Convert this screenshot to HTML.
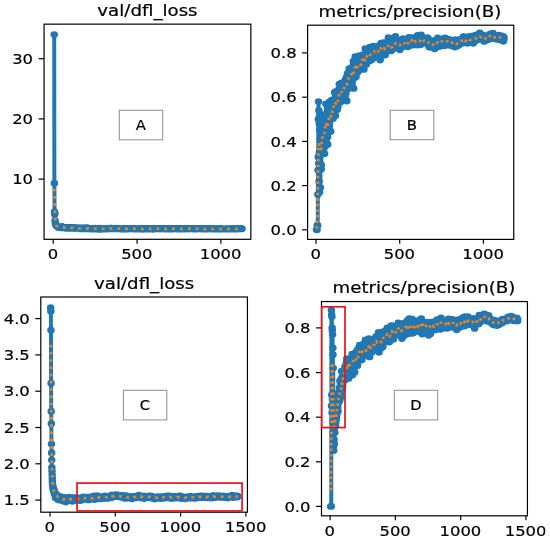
<!DOCTYPE html>
<html><head><meta charset="utf-8"><title>results</title>
<style>html,body{margin:0;padding:0;background:#fff}svg{display:block}text{font-family:"DejaVu Sans","Liberation Sans",sans-serif;fill:#000;stroke:#000;stroke-width:0.2px}</style>
</head><body>
<svg width="550" height="542" viewBox="0 0 550 542">
<rect width="550" height="542" fill="#fff"/>
<g transform="scale(1.1,1)" fill="none">
<polyline points="49.29,34.6 49.44,183.3 49.6,211.6 49.75,214.6 49.9,213.4 50.05,220.6 50.21,221.8 50.36,223.1 50.51,224 50.66,224.6 50.82,225.3 50.97,225.3 51.12,225.8 51.27,225.8 51.43,226 51.58,225.8 51.73,226.1 51.88,226.3 52.03,226.6 52.19,226.5 52.34,226.5 52.49,226.7 52.64,226.3 52.8,226.4 52.95,227.6 53.1,227.4 53.25,227 53.41,227.1 53.56,227 53.71,227 53.86,226.5 54.02,227.5 54.17,227.3 54.32,226.7 54.47,227.1 54.63,227.1 54.78,227.5 54.93,227.8 55.08,227.3 55.24,227.3 55.39,227.7 55.54,227.6 55.69,227.4 55.85,227.7 56,227.4 56.15,227.4 56.3,227.4 56.46,227.5 56.61,227.2 56.76,227.2 56.91,227.3 57.07,227.6 57.22,227.2 57.37,227.6 57.52,227.2 57.67,227.8 57.83,227.2 57.98,227.5 58.13,227.8 58.28,227.6 58.44,227.5 58.59,227.5 58.74,227.9 58.89,227.9 59.05,227.6 59.2,227.8 59.35,227.6 59.5,227.5 59.66,228.2 59.81,227.7 59.96,227.4 60.11,227.9 60.27,228 60.42,227.6 60.57,227.7 60.72,227.6 60.88,227.9 61.03,228.2 61.18,227.8 61.33,227.9 61.49,227.6 61.64,227.8 61.79,228.2 61.94,228.1 62.1,227.6 62.25,227.6 62.4,227.9 62.55,227.8 62.71,227.7 62.86,227.7 63.01,227.6 63.16,227.7 63.32,227.8 63.47,227.9 63.62,227.5 63.77,228.4 63.92,227.8 64.08,227.8 64.23,228.2 64.38,227.8 64.53,228 64.69,227.7 64.84,227.9 64.99,227.8 65.14,227.6 65.3,227.9 65.45,228.2 65.6,228.4 65.75,227.6 65.91,228 66.06,228.2 66.21,228 66.36,228.1 66.52,227.8 66.67,228 66.82,228.1 66.97,228.2 67.13,227.9 67.28,228.3 67.43,227.9 67.58,227.7 67.74,228.4 67.89,228.6 68.04,227.9 68.19,227.4 68.35,228.3 68.5,228.3 68.65,227.9 68.8,228.2 68.96,228.1 69.11,228.1 69.26,227.9 69.41,228.1 69.56,227.9 69.72,228.1 69.87,228.2 70.02,228.1 70.17,228.3 70.33,228 70.48,228.3 70.63,228.3 70.78,227.8 70.94,228.1 71.09,228.1 71.24,228 71.39,228.3 71.55,228.2 71.7,228.1 71.85,228.2 72,228.5 72.16,228.1 72.31,228.4 72.46,228.6 72.61,228.6 72.77,228.5 72.92,228 73.07,228.7 73.22,228.4 73.38,228.9 73.53,228.5 73.68,228.3 73.83,228.5 73.99,228.6 74.14,228.4 74.29,228.3 74.44,228.3 74.6,228.1 74.75,228.4 74.9,228.6 75.05,228.5 75.21,228.5 75.36,228.4 75.51,228.5 75.66,228.4 75.81,228.8 75.97,228.2 76.12,228.5 76.27,228.7 76.42,228.3 76.58,228.1 76.73,228.3 76.88,228.3 77.03,228.6 77.19,227.7 77.34,228.2 77.49,228.6 77.64,228.5 77.8,228.3 77.95,228.7 78.1,228.3 78.25,228.4 78.41,228.1 78.56,228.1 78.71,228.9 78.86,228.4 79.02,228.7 79.17,228.2 79.32,228.4 79.47,228.3 79.63,228.7 79.78,228.1 79.93,228.1 80.08,228.7 80.24,228.5 80.39,228.7 80.54,228.6 80.69,228.9 80.85,228.2 81,228.8 81.15,228.7 81.3,228.6 81.45,228.8 81.61,228.8 81.76,228.8 81.91,228.8 82.06,229 82.22,228.9 82.37,228.8 82.52,228.8 82.67,228.8 82.83,228.8 82.98,228.6 83.13,228.8 83.28,228.8 83.44,228.9 83.59,228.9 83.74,229 83.89,228.7 84.05,229 84.2,228.9 84.35,228.7 84.5,228.6 84.66,228.8 84.81,229.1 84.96,228.6 85.11,228.6 85.27,229 85.42,228.5 85.57,228.8 85.72,228.9 85.88,228.6 86.03,228.7 86.18,228.6 86.33,229 86.49,228.3 86.64,228.8 86.79,229 86.94,228.5 87.1,228.7 87.25,228.6 87.4,228.8 87.55,228.7 87.7,228.7 87.86,228.9 88.01,228.6 88.16,228.8 88.31,228.9 88.47,228.8 88.62,228.7 88.77,228.8 88.92,229 89.08,228.7 89.23,229.2 89.38,229 89.53,228.9 89.69,229.1 89.84,228.9 89.99,228.9 90.14,228.7 90.3,229.1 90.45,229 90.6,228.8 90.75,229.3 90.91,228.3 91.06,229 91.21,229 91.36,228.7 91.52,228.9 91.67,229.2 91.82,228.7 91.97,228.7 92.13,228.9 92.28,228.9 92.43,228.7 92.58,229 92.74,228.7 92.89,228.8 93.04,228.9 93.19,229 93.35,228.8 93.5,228.9 93.65,228.6 93.8,228.8 93.95,228.6 94.11,228.8 94.26,228.8 94.41,228.9 94.56,228.7 94.72,228.5 94.87,228.9 95.02,228.9 95.17,228.9 95.33,228.9 95.48,229 95.63,228.9 95.78,228.9 95.94,228.6 96.09,228.9 96.24,228.8 96.39,228.7 96.55,229 96.7,228.7 96.85,229 97,229 97.16,229 97.31,228.9 97.46,229.1 97.61,228.9 97.77,229.1 97.92,228.6 98.07,228.8 98.22,228.9 98.38,228.9 98.53,228.8 98.68,228.8 98.83,228.9 98.99,228.8 99.14,228.7 99.29,228.7 99.44,228.4 99.59,228.4 99.75,228.6 99.9,228.5 100.05,228.7 100.2,228.4 100.36,228.5 100.51,228.4 100.66,228.2 100.81,228.8 100.97,228.4 101.12,228.6 101.27,228.3 101.42,228.7 101.58,228.5 101.73,228.4 101.88,228.4 102.03,228.5 102.19,228.6 102.34,228.6 102.49,228.4 102.64,228.5 102.8,228.8 102.95,228.4 103.1,228.5 103.25,228.5 103.41,228.7 103.56,228.5 103.71,228.8 103.86,228.6 104.02,228.7 104.17,228.6 104.32,228.5 104.47,228.8 104.63,228.7 104.78,228.7 104.93,228.5 105.08,228.6 105.24,228.9 105.39,228.6 105.54,228.6 105.69,228.3 105.84,228.9 106,228.7 106.15,228.4 106.3,228.9 106.45,228.8 106.61,228.5 106.76,228.5 106.91,228.7 107.06,228.5 107.22,228.6 107.37,228.4 107.52,228.6 107.67,228.5 107.83,228.8 107.98,228.7 108.13,228.6 108.28,228.5 108.44,228.6 108.59,228.8 108.74,228.6 108.89,228.6 109.05,228.7 109.2,228.7 109.35,228.7 109.5,229 109.66,228.7 109.81,228.7 109.96,228.9 110.11,228.7 110.27,229 110.42,228.9 110.57,228.9 110.72,228.5 110.88,229.1 111.03,228.8 111.18,228.7 111.33,228.8 111.48,228.7 111.64,229 111.79,229.2 111.94,228.8 112.09,229 112.25,228.9 112.4,229 112.55,228.7 112.7,228.7 112.86,229 113.01,228.7 113.16,228.9 113.31,228.9 113.47,228.9 113.62,228.9 113.77,228.8 113.92,228.8 114.08,228.9 114.23,228.7 114.38,229 114.53,228.8 114.69,228.8 114.84,228.7 114.99,229 115.14,228.6 115.3,228.9 115.45,228.9 115.6,229 115.75,228.8 115.91,228.9 116.06,229.1 116.21,229.1 116.36,229 116.52,229 116.67,228.7 116.82,228.7 116.97,228.7 117.13,228.8 117.28,228.9 117.43,228.8 117.58,228.7 117.73,228.5 117.89,228.7 118.04,228.8 118.19,228.8 118.34,228.9 118.5,228.9 118.65,228.8 118.8,228.8 118.95,228.5 119.11,228.8 119.26,228.6 119.41,228.5 119.56,228.8 119.72,228.6 119.87,228.7 120.02,228.8 120.17,228.7 120.33,228.8 120.48,228.8 120.63,228.8 120.78,228.8 120.94,228.7 121.09,228.9 121.24,228.8 121.39,229 121.55,228.8 121.7,228.7 121.85,228.8 122,228.8 122.16,228.7 122.31,228.9 122.46,228.9 122.61,228.8 122.77,228.7 122.92,228.8 123.07,228.5 123.22,228.9 123.37,228.7 123.53,228.7 123.68,228.9 123.83,229 123.98,229 124.14,228.8 124.29,228.7 124.44,228.8 124.59,228.8 124.75,228.9 124.9,228.8 125.05,229.1 125.2,228.8 125.36,228.8 125.51,229 125.66,228.5 125.81,229 125.97,228.9 126.12,228.9 126.27,228.7 126.42,228.9 126.58,228.7 126.73,228.7 126.88,228.8 127.03,229 127.19,228.9 127.34,228.6 127.49,229 127.64,228.9 127.8,228.8 127.95,228.7 128.1,228.8 128.25,228.8 128.41,229 128.56,228.7 128.71,228.8 128.86,229.1 129.02,228.7 129.17,228.6 129.32,229 129.47,228.9 129.62,228.7 129.78,229.1 129.93,229.2 130.08,229.1 130.23,229 130.39,229 130.54,228.8 130.69,228.9 130.84,229 131,228.8 131.15,228.6 131.3,228.7 131.45,228.7 131.61,228.9 131.76,228.7 131.91,229 132.06,228.7 132.22,228.8 132.37,228.7 132.52,228.8 132.67,228.9 132.83,228.8 132.98,228.7 133.13,228.9 133.28,228.9 133.44,228.9 133.59,229 133.74,228.7 133.89,228.6 134.05,228.7 134.2,228.8 134.35,228.8 134.5,228.8 134.66,228.9 134.81,228.7 134.96,228.7 135.11,228.7 135.27,228.9 135.42,228.8 135.57,228.9 135.72,228.6 135.87,228.8 136.03,229.1 136.18,228.8 136.33,228.6 136.48,228.8 136.64,228.8 136.79,228.9 136.94,229.1 137.09,229.1 137.25,229 137.4,228.9 137.55,228.9 137.7,228.8 137.86,228.9 138.01,228.8 138.16,228.9 138.31,228.9 138.47,228.8 138.62,229 138.77,229.2 138.92,229 139.08,228.8 139.23,229.2 139.38,228.8 139.53,228.8 139.69,228.9 139.84,228.9 139.99,228.8 140.14,228.8 140.3,228.6 140.45,228.7 140.6,228.9 140.75,228.8 140.91,228.6 141.06,228.5 141.21,228.6 141.36,228.6 141.51,228.5 141.67,228.7 141.82,228.7 141.97,228.8 142.12,228.7 142.28,228.4 142.43,228.8 142.58,228.7 142.73,228.8 142.89,228.6 143.04,228.6 143.19,228.7 143.34,228.6 143.5,228.6 143.65,228.7 143.8,228.5 143.95,228.6 144.11,228.8 144.26,228.8 144.41,228.8 144.56,228.7 144.72,228.8 144.87,228.5 145.02,228.6 145.17,228.8 145.33,228.8 145.48,228.6 145.63,229 145.78,228.8 145.94,228.7 146.09,228.9 146.24,228.8 146.39,228.8 146.55,228.7 146.7,228.7 146.85,228.7 147,228.7 147.16,228.7 147.31,228.6 147.46,228.8 147.61,228.9 147.76,228.9 147.92,228.9 148.07,228.8 148.22,228.6 148.37,228.7 148.53,228.8 148.68,228.8 148.83,228.8 148.98,228.8 149.14,228.8 149.29,228.9 149.44,228.8 149.59,228.7 149.75,229 149.9,228.8 150.05,229 150.2,228.8 150.36,228.9 150.51,229 150.66,228.8 150.81,228.6 150.97,228.8 151.12,228.7 151.27,228.9 151.42,229.1 151.58,228.8 151.73,228.9 151.88,229 152.03,228.8 152.19,228.8 152.34,228.9 152.49,228.8 152.64,228.9 152.8,228.8 152.95,228.9 153.1,228.8 153.25,229 153.4,228.7 153.56,228.8 153.71,228.7 153.86,228.9 154.01,228.9 154.17,228.7 154.32,229.1 154.47,228.9 154.62,228.7 154.78,228.7 154.93,228.7 155.08,228.8 155.23,228.7 155.39,228.9 155.54,228.9 155.69,228.9 155.84,228.8 156,228.8 156.15,228.8 156.3,229.1 156.45,229 156.61,228.8 156.76,228.8 156.91,228.8 157.06,228.9 157.22,229 157.37,228.6 157.52,228.9 157.67,228.6 157.83,228.6 157.98,228.8 158.13,228.9 158.28,228.8 158.44,228.9 158.59,228.8 158.74,228.8 158.89,228.8 159.05,228.7 159.2,228.6 159.35,228.8 159.5,228.7 159.65,228.9 159.81,228.9 159.96,228.9 160.11,228.9 160.26,228.7 160.42,228.7 160.57,228.7 160.72,228.8 160.87,228.8 161.03,228.9 161.18,229 161.33,228.8 161.48,228.8 161.64,229 161.79,228.8 161.94,229 162.09,228.9 162.25,228.9 162.4,228.9 162.55,229 162.7,228.8 162.86,228.8 163.01,228.8 163.16,228.9 163.31,229 163.47,228.9 163.62,229 163.77,228.8 163.92,228.8 164.08,228.8 164.23,228.9 164.38,228.9 164.53,228.8 164.69,229 164.84,228.8 164.99,228.8 165.14,228.9 165.29,228.9 165.45,228.8 165.6,228.9 165.75,228.9 165.9,228.8 166.06,228.8 166.21,228.7 166.36,228.9 166.51,229 166.67,228.7 166.82,228.7 166.97,228.9 167.12,228.9 167.28,228.8 167.43,228.9 167.58,228.8 167.73,229 167.89,228.8 168.04,229 168.19,228.8 168.34,228.6 168.5,228.8 168.65,228.7 168.8,228.8 168.95,228.8 169.11,228.9 169.26,228.7 169.41,228.8 169.56,228.6 169.72,228.9 169.87,228.8 170.02,228.8 170.17,228.6 170.33,228.6 170.48,228.8 170.63,228.9 170.78,228.9 170.94,228.7 171.09,228.8 171.24,228.9 171.39,228.8 171.54,229 171.7,229 171.85,228.7 172,228.8 172.15,228.8 172.31,228.9 172.46,228.8 172.61,228.7 172.76,228.9 172.92,228.8 173.07,228.9 173.22,228.8 173.37,228.8 173.53,228.9 173.68,228.9 173.83,228.9 173.98,228.9 174.14,228.9 174.29,228.9 174.44,228.8 174.59,228.9 174.75,228.9 174.9,228.8 175.05,228.9 175.2,228.9 175.36,228.8 175.51,228.8 175.66,228.8 175.81,228.8 175.97,229 176.12,228.8 176.27,228.7 176.42,228.8 176.58,229 176.73,228.8 176.88,228.9 177.03,228.8 177.19,228.8 177.34,228.9 177.49,228.7 177.64,228.8 177.79,228.7 177.95,228.7 178.1,228.7 178.25,228.7 178.4,228.9 178.56,228.8 178.71,229 178.86,228.8 179.01,228.7 179.17,228.7 179.32,228.7 179.47,228.8 179.62,228.8 179.78,228.8 179.93,228.7 180.08,228.7 180.23,228.8 180.39,228.5 180.54,228.8 180.69,228.8 180.84,228.8 181,228.8 181.15,228.8 181.3,228.9 181.45,228.7 181.61,228.8 181.76,228.7 181.91,228.7 182.06,228.9 182.22,228.9 182.37,228.9 182.52,228.8 182.67,228.8 182.83,228.8 182.98,228.9 183.13,228.8 183.28,228.7 183.43,229 183.59,228.9 183.74,228.8 183.89,228.9 184.04,228.9 184.2,228.7 184.35,228.8 184.5,228.8 184.65,228.9 184.81,228.7 184.96,228.9 185.11,228.9 185.26,228.9 185.42,228.9 185.57,228.7 185.72,228.9 185.87,228.9 186.03,229.1 186.18,228.9 186.33,229 186.48,229 186.64,228.9 186.79,229 186.94,228.8 187.09,228.8 187.25,229.1 187.4,228.9 187.55,229 187.7,228.9 187.86,228.8 188.01,229 188.16,228.7 188.31,228.9 188.47,229 188.62,228.9 188.77,228.8 188.92,229 189.08,228.9 189.23,229 189.38,228.8 189.53,228.8 189.68,228.9 189.84,228.8 189.99,228.9 190.14,228.9 190.29,228.7 190.45,228.8 190.6,228.7 190.75,228.8 190.9,228.9 191.06,228.8 191.21,228.8 191.36,228.8 191.51,228.9 191.67,228.9 191.82,228.9 191.97,228.8 192.12,228.8 192.28,228.8 192.43,229 192.58,228.8 192.73,228.8 192.89,229 193.04,228.8 193.19,228.8 193.34,228.8 193.5,228.8 193.65,228.8 193.8,228.8 193.95,228.9 194.11,229.1 194.26,229 194.41,228.9 194.56,229 194.72,228.9 194.87,228.9 195.02,228.9 195.17,228.8 195.32,229 195.48,228.9 195.63,229 195.78,229 195.93,228.9 196.09,229 196.24,228.9 196.39,229.1 196.54,229 196.7,229 196.85,229 197,229 197.15,229.1 197.31,228.9 197.46,229.1 197.61,229 197.76,228.9 197.92,228.9 198.07,228.9 198.22,228.9 198.37,228.8 198.53,229 198.68,229 198.83,229 198.98,228.8 199.14,228.9 199.29,228.8 199.44,228.8 199.59,228.9 199.75,229 199.9,229 200.05,228.7 200.2,228.8 200.36,228.8 200.51,228.9 200.66,228.9 200.81,228.9 200.97,228.9 201.12,229.1 201.27,228.9 201.42,228.9 201.57,228.9 201.73,228.9 201.88,228.8 202.03,228.9 202.18,228.9 202.34,229.1 202.49,229 202.64,228.8 202.79,229 202.95,228.9 203.1,228.9 203.25,229 203.4,228.9 203.56,229 203.71,229.1 203.86,229 204.01,229 204.17,228.9 204.32,228.9 204.47,228.9 204.62,229 204.78,228.7 204.93,228.9 205.08,228.9 205.23,228.9 205.39,228.9 205.54,229 205.69,228.9 205.84,228.9 206,228.9 206.15,228.9 206.3,229 206.45,229 206.61,228.8 206.76,229 206.91,228.9 207.06,228.9 207.21,228.8 207.37,229 207.52,229 207.67,229 207.82,229 207.98,229.1 208.13,228.9 208.28,229.1 208.43,228.9 208.59,228.9 208.74,228.9 208.89,229 209.04,228.8 209.2,229 209.35,229 209.5,229 209.65,229 209.81,228.9 209.96,228.8 210.11,229 210.26,228.9 210.42,228.8 210.57,228.9 210.72,228.9 210.87,229 211.03,228.8 211.18,229 211.33,228.9 211.48,228.8 211.64,228.8 211.79,228.9 211.94,228.8 212.09,228.9 212.25,228.9 212.4,228.8 212.55,228.9 212.7,228.9 212.86,229 213.01,228.9 213.16,228.9 213.31,229 213.46,228.9 213.62,228.8 213.77,228.9 213.92,228.9 214.07,229 214.23,228.9 214.38,228.9 214.53,228.8 214.68,228.9 214.84,228.8 214.99,229 215.14,228.9 215.29,228.8 215.45,228.9 215.6,228.9 215.75,228.9 215.9,228.9 216.06,229 216.21,228.9 216.36,228.9 216.51,228.9 216.67,228.8 216.82,228.9 216.97,228.9 217.12,228.9 217.28,228.8 217.43,228.9 217.58,228.7 217.73,228.9 217.89,228.8 218.04,228.9 218.19,228.8 218.34,228.8 218.5,228.7 218.65,228.8 218.8,228.8 218.95,228.7 219.11,228.8 219.26,228.9 219.41,228.8 219.56,228.8 219.71,228.7 219.87,228.8 220.02,228.8" stroke="#1f77b4" stroke-width="3.6" stroke-linejoin="round"/>
<path d="M49.29 34.6h0M49.44 183.3h0M49.6 211.6h0M49.75 214.6h0M49.9 213.4h0M50.05 220.6h0M50.21 221.8h0M50.36 223.1h0M50.51 224h0M50.66 224.6h0M50.82 225.3h0M50.97 225.3h0M51.12 225.8h0M51.27 225.8h0M51.43 226h0M51.58 225.8h0M51.73 226.1h0M51.88 226.3h0M52.03 226.6h0M52.19 226.5h0M52.34 226.5h0M52.49 226.7h0M52.64 226.3h0M52.8 226.4h0M52.95 227.6h0M53.1 227.4h0M53.25 227h0M53.41 227.1h0M53.56 227h0M53.71 227h0M53.86 226.5h0M54.02 227.5h0M54.17 227.3h0M54.32 226.7h0M54.47 227.1h0M54.63 227.1h0M54.78 227.5h0M54.93 227.8h0M55.08 227.3h0M55.24 227.3h0M55.39 227.7h0M55.54 227.6h0M55.69 227.4h0M55.85 227.7h0M56 227.4h0M56.15 227.4h0M56.3 227.4h0M56.46 227.5h0M56.61 227.2h0M56.76 227.2h0M56.91 227.3h0M57.07 227.6h0M57.22 227.2h0M57.37 227.6h0M57.52 227.2h0M57.67 227.8h0M57.83 227.2h0M57.98 227.5h0M58.13 227.8h0M58.28 227.6h0M58.44 227.5h0M58.59 227.5h0M58.74 227.9h0M58.89 227.9h0M59.05 227.6h0M59.2 227.8h0M59.35 227.6h0M59.5 227.5h0M59.66 228.2h0M59.81 227.7h0M59.96 227.4h0M60.11 227.9h0M60.27 228h0M60.42 227.6h0M60.57 227.7h0M60.72 227.6h0M60.88 227.9h0M61.03 228.2h0M61.18 227.8h0M61.33 227.9h0M61.49 227.6h0M61.64 227.8h0M61.79 228.2h0M61.94 228.1h0M62.1 227.6h0M62.25 227.6h0M62.4 227.9h0M62.55 227.8h0M62.71 227.7h0M62.86 227.7h0M63.01 227.6h0M63.16 227.7h0M63.32 227.8h0M63.47 227.9h0M63.62 227.5h0M63.77 228.4h0M63.92 227.8h0M64.08 227.8h0M64.23 228.2h0M64.38 227.8h0M64.53 228h0M64.69 227.7h0M64.84 227.9h0M64.99 227.8h0M65.14 227.6h0M65.3 227.9h0M65.45 228.2h0M65.6 228.4h0M65.75 227.6h0M65.91 228h0M66.06 228.2h0M66.21 228h0M66.36 228.1h0M66.52 227.8h0M66.67 228h0M66.82 228.1h0M66.97 228.2h0M67.13 227.9h0M67.28 228.3h0M67.43 227.9h0M67.58 227.7h0M67.74 228.4h0M67.89 228.6h0M68.04 227.9h0M68.19 227.4h0M68.35 228.3h0M68.5 228.3h0M68.65 227.9h0M68.8 228.2h0M68.96 228.1h0M69.11 228.1h0M69.26 227.9h0M69.41 228.1h0M69.56 227.9h0M69.72 228.1h0M69.87 228.2h0M70.02 228.1h0M70.17 228.3h0M70.33 228h0M70.48 228.3h0M70.63 228.3h0M70.78 227.8h0M70.94 228.1h0M71.09 228.1h0M71.24 228h0M71.39 228.3h0M71.55 228.2h0M71.7 228.1h0M71.85 228.2h0M72 228.5h0M72.16 228.1h0M72.31 228.4h0M72.46 228.6h0M72.61 228.6h0M72.77 228.5h0M72.92 228h0M73.07 228.7h0M73.22 228.4h0M73.38 228.9h0M73.53 228.5h0M73.68 228.3h0M73.83 228.5h0M73.99 228.6h0M74.14 228.4h0M74.29 228.3h0M74.44 228.3h0M74.6 228.1h0M74.75 228.4h0M74.9 228.6h0M75.05 228.5h0M75.21 228.5h0M75.36 228.4h0M75.51 228.5h0M75.66 228.4h0M75.81 228.8h0M75.97 228.2h0M76.12 228.5h0M76.27 228.7h0M76.42 228.3h0M76.58 228.1h0M76.73 228.3h0M76.88 228.3h0M77.03 228.6h0M77.19 227.7h0M77.34 228.2h0M77.49 228.6h0M77.64 228.5h0M77.8 228.3h0M77.95 228.7h0M78.1 228.3h0M78.25 228.4h0M78.41 228.1h0M78.56 228.1h0M78.71 228.9h0M78.86 228.4h0M79.02 228.7h0M79.17 228.2h0M79.32 228.4h0M79.47 228.3h0M79.63 228.7h0M79.78 228.1h0M79.93 228.1h0M80.08 228.7h0M80.24 228.5h0M80.39 228.7h0M80.54 228.6h0M80.69 228.9h0M80.85 228.2h0M81 228.8h0M81.15 228.7h0M81.3 228.6h0M81.45 228.8h0M81.61 228.8h0M81.76 228.8h0M81.91 228.8h0M82.06 229h0M82.22 228.9h0M82.37 228.8h0M82.52 228.8h0M82.67 228.8h0M82.83 228.8h0M82.98 228.6h0M83.13 228.8h0M83.28 228.8h0M83.44 228.9h0M83.59 228.9h0M83.74 229h0M83.89 228.7h0M84.05 229h0M84.2 228.9h0M84.35 228.7h0M84.5 228.6h0M84.66 228.8h0M84.81 229.1h0M84.96 228.6h0M85.11 228.6h0M85.27 229h0M85.42 228.5h0M85.57 228.8h0M85.72 228.9h0M85.88 228.6h0M86.03 228.7h0M86.18 228.6h0M86.33 229h0M86.49 228.3h0M86.64 228.8h0M86.79 229h0M86.94 228.5h0M87.1 228.7h0M87.25 228.6h0M87.4 228.8h0M87.55 228.7h0M87.7 228.7h0M87.86 228.9h0M88.01 228.6h0M88.16 228.8h0M88.31 228.9h0M88.47 228.8h0M88.62 228.7h0M88.77 228.8h0M88.92 229h0M89.08 228.7h0M89.23 229.2h0M89.38 229h0M89.53 228.9h0M89.69 229.1h0M89.84 228.9h0M89.99 228.9h0M90.14 228.7h0M90.3 229.1h0M90.45 229h0M90.6 228.8h0M90.75 229.3h0M90.91 228.3h0M91.06 229h0M91.21 229h0M91.36 228.7h0M91.52 228.9h0M91.67 229.2h0M91.82 228.7h0M91.97 228.7h0M92.13 228.9h0M92.28 228.9h0M92.43 228.7h0M92.58 229h0M92.74 228.7h0M92.89 228.8h0M93.04 228.9h0M93.19 229h0M93.35 228.8h0M93.5 228.9h0M93.65 228.6h0M93.8 228.8h0M93.95 228.6h0M94.11 228.8h0M94.26 228.8h0M94.41 228.9h0M94.56 228.7h0M94.72 228.5h0M94.87 228.9h0M95.02 228.9h0M95.17 228.9h0M95.33 228.9h0M95.48 229h0M95.63 228.9h0M95.78 228.9h0M95.94 228.6h0M96.09 228.9h0M96.24 228.8h0M96.39 228.7h0M96.55 229h0M96.7 228.7h0M96.85 229h0M97 229h0M97.16 229h0M97.31 228.9h0M97.46 229.1h0M97.61 228.9h0M97.77 229.1h0M97.92 228.6h0M98.07 228.8h0M98.22 228.9h0M98.38 228.9h0M98.53 228.8h0M98.68 228.8h0M98.83 228.9h0M98.99 228.8h0M99.14 228.7h0M99.29 228.7h0M99.44 228.4h0M99.59 228.4h0M99.75 228.6h0M99.9 228.5h0M100.05 228.7h0M100.2 228.4h0M100.36 228.5h0M100.51 228.4h0M100.66 228.2h0M100.81 228.8h0M100.97 228.4h0M101.12 228.6h0M101.27 228.3h0M101.42 228.7h0M101.58 228.5h0M101.73 228.4h0M101.88 228.4h0M102.03 228.5h0M102.19 228.6h0M102.34 228.6h0M102.49 228.4h0M102.64 228.5h0M102.8 228.8h0M102.95 228.4h0M103.1 228.5h0M103.25 228.5h0M103.41 228.7h0M103.56 228.5h0M103.71 228.8h0M103.86 228.6h0M104.02 228.7h0M104.17 228.6h0M104.32 228.5h0M104.47 228.8h0M104.63 228.7h0M104.78 228.7h0M104.93 228.5h0M105.08 228.6h0M105.24 228.9h0M105.39 228.6h0M105.54 228.6h0M105.69 228.3h0M105.84 228.9h0M106 228.7h0M106.15 228.4h0M106.3 228.9h0M106.45 228.8h0M106.61 228.5h0M106.76 228.5h0M106.91 228.7h0M107.06 228.5h0M107.22 228.6h0M107.37 228.4h0M107.52 228.6h0M107.67 228.5h0M107.83 228.8h0M107.98 228.7h0M108.13 228.6h0M108.28 228.5h0M108.44 228.6h0M108.59 228.8h0M108.74 228.6h0M108.89 228.6h0M109.05 228.7h0M109.2 228.7h0M109.35 228.7h0M109.5 229h0M109.66 228.7h0M109.81 228.7h0M109.96 228.9h0M110.11 228.7h0M110.27 229h0M110.42 228.9h0M110.57 228.9h0M110.72 228.5h0M110.88 229.1h0M111.03 228.8h0M111.18 228.7h0M111.33 228.8h0M111.48 228.7h0M111.64 229h0M111.79 229.2h0M111.94 228.8h0M112.09 229h0M112.25 228.9h0M112.4 229h0M112.55 228.7h0M112.7 228.7h0M112.86 229h0M113.01 228.7h0M113.16 228.9h0M113.31 228.9h0M113.47 228.9h0M113.62 228.9h0M113.77 228.8h0M113.92 228.8h0M114.08 228.9h0M114.23 228.7h0M114.38 229h0M114.53 228.8h0M114.69 228.8h0M114.84 228.7h0M114.99 229h0M115.14 228.6h0M115.3 228.9h0M115.45 228.9h0M115.6 229h0M115.75 228.8h0M115.91 228.9h0M116.06 229.1h0M116.21 229.1h0M116.36 229h0M116.52 229h0M116.67 228.7h0M116.82 228.7h0M116.97 228.7h0M117.13 228.8h0M117.28 228.9h0M117.43 228.8h0M117.58 228.7h0M117.73 228.5h0M117.89 228.7h0M118.04 228.8h0M118.19 228.8h0M118.34 228.9h0M118.5 228.9h0M118.65 228.8h0M118.8 228.8h0M118.95 228.5h0M119.11 228.8h0M119.26 228.6h0M119.41 228.5h0M119.56 228.8h0M119.72 228.6h0M119.87 228.7h0M120.02 228.8h0M120.17 228.7h0M120.33 228.8h0M120.48 228.8h0M120.63 228.8h0M120.78 228.8h0M120.94 228.7h0M121.09 228.9h0M121.24 228.8h0M121.39 229h0M121.55 228.8h0M121.7 228.7h0M121.85 228.8h0M122 228.8h0M122.16 228.7h0M122.31 228.9h0M122.46 228.9h0M122.61 228.8h0M122.77 228.7h0M122.92 228.8h0M123.07 228.5h0M123.22 228.9h0M123.37 228.7h0M123.53 228.7h0M123.68 228.9h0M123.83 229h0M123.98 229h0M124.14 228.8h0M124.29 228.7h0M124.44 228.8h0M124.59 228.8h0M124.75 228.9h0M124.9 228.8h0M125.05 229.1h0M125.2 228.8h0M125.36 228.8h0M125.51 229h0M125.66 228.5h0M125.81 229h0M125.97 228.9h0M126.12 228.9h0M126.27 228.7h0M126.42 228.9h0M126.58 228.7h0M126.73 228.7h0M126.88 228.8h0M127.03 229h0M127.19 228.9h0M127.34 228.6h0M127.49 229h0M127.64 228.9h0M127.8 228.8h0M127.95 228.7h0M128.1 228.8h0M128.25 228.8h0M128.41 229h0M128.56 228.7h0M128.71 228.8h0M128.86 229.1h0M129.02 228.7h0M129.17 228.6h0M129.32 229h0M129.47 228.9h0M129.62 228.7h0M129.78 229.1h0M129.93 229.2h0M130.08 229.1h0M130.23 229h0M130.39 229h0M130.54 228.8h0M130.69 228.9h0M130.84 229h0M131 228.8h0M131.15 228.6h0M131.3 228.7h0M131.45 228.7h0M131.61 228.9h0M131.76 228.7h0M131.91 229h0M132.06 228.7h0M132.22 228.8h0M132.37 228.7h0M132.52 228.8h0M132.67 228.9h0M132.83 228.8h0M132.98 228.7h0M133.13 228.9h0M133.28 228.9h0M133.44 228.9h0M133.59 229h0M133.74 228.7h0M133.89 228.6h0M134.05 228.7h0M134.2 228.8h0M134.35 228.8h0M134.5 228.8h0M134.66 228.9h0M134.81 228.7h0M134.96 228.7h0M135.11 228.7h0M135.27 228.9h0M135.42 228.8h0M135.57 228.9h0M135.72 228.6h0M135.87 228.8h0M136.03 229.1h0M136.18 228.8h0M136.33 228.6h0M136.48 228.8h0M136.64 228.8h0M136.79 228.9h0M136.94 229.1h0M137.09 229.1h0M137.25 229h0M137.4 228.9h0M137.55 228.9h0M137.7 228.8h0M137.86 228.9h0M138.01 228.8h0M138.16 228.9h0M138.31 228.9h0M138.47 228.8h0M138.62 229h0M138.77 229.2h0M138.92 229h0M139.08 228.8h0M139.23 229.2h0M139.38 228.8h0M139.53 228.8h0M139.69 228.9h0M139.84 228.9h0M139.99 228.8h0M140.14 228.8h0M140.3 228.6h0M140.45 228.7h0M140.6 228.9h0M140.75 228.8h0M140.91 228.6h0M141.06 228.5h0M141.21 228.6h0M141.36 228.6h0M141.51 228.5h0M141.67 228.7h0M141.82 228.7h0M141.97 228.8h0M142.12 228.7h0M142.28 228.4h0M142.43 228.8h0M142.58 228.7h0M142.73 228.8h0M142.89 228.6h0M143.04 228.6h0M143.19 228.7h0M143.34 228.6h0M143.5 228.6h0M143.65 228.7h0M143.8 228.5h0M143.95 228.6h0M144.11 228.8h0M144.26 228.8h0M144.41 228.8h0M144.56 228.7h0M144.72 228.8h0M144.87 228.5h0M145.02 228.6h0M145.17 228.8h0M145.33 228.8h0M145.48 228.6h0M145.63 229h0M145.78 228.8h0M145.94 228.7h0M146.09 228.9h0M146.24 228.8h0M146.39 228.8h0M146.55 228.7h0M146.7 228.7h0M146.85 228.7h0M147 228.7h0M147.16 228.7h0M147.31 228.6h0M147.46 228.8h0M147.61 228.9h0M147.76 228.9h0M147.92 228.9h0M148.07 228.8h0M148.22 228.6h0M148.37 228.7h0M148.53 228.8h0M148.68 228.8h0M148.83 228.8h0M148.98 228.8h0M149.14 228.8h0M149.29 228.9h0M149.44 228.8h0M149.59 228.7h0M149.75 229h0M149.9 228.8h0M150.05 229h0M150.2 228.8h0M150.36 228.9h0M150.51 229h0M150.66 228.8h0M150.81 228.6h0M150.97 228.8h0M151.12 228.7h0M151.27 228.9h0M151.42 229.1h0M151.58 228.8h0M151.73 228.9h0M151.88 229h0M152.03 228.8h0M152.19 228.8h0M152.34 228.9h0M152.49 228.8h0M152.64 228.9h0M152.8 228.8h0M152.95 228.9h0M153.1 228.8h0M153.25 229h0M153.4 228.7h0M153.56 228.8h0M153.71 228.7h0M153.86 228.9h0M154.01 228.9h0M154.17 228.7h0M154.32 229.1h0M154.47 228.9h0M154.62 228.7h0M154.78 228.7h0M154.93 228.7h0M155.08 228.8h0M155.23 228.7h0M155.39 228.9h0M155.54 228.9h0M155.69 228.9h0M155.84 228.8h0M156 228.8h0M156.15 228.8h0M156.3 229.1h0M156.45 229h0M156.61 228.8h0M156.76 228.8h0M156.91 228.8h0M157.06 228.9h0M157.22 229h0M157.37 228.6h0M157.52 228.9h0M157.67 228.6h0M157.83 228.6h0M157.98 228.8h0M158.13 228.9h0M158.28 228.8h0M158.44 228.9h0M158.59 228.8h0M158.74 228.8h0M158.89 228.8h0M159.05 228.7h0M159.2 228.6h0M159.35 228.8h0M159.5 228.7h0M159.65 228.9h0M159.81 228.9h0M159.96 228.9h0M160.11 228.9h0M160.26 228.7h0M160.42 228.7h0M160.57 228.7h0M160.72 228.8h0M160.87 228.8h0M161.03 228.9h0M161.18 229h0M161.33 228.8h0M161.48 228.8h0M161.64 229h0M161.79 228.8h0M161.94 229h0M162.09 228.9h0M162.25 228.9h0M162.4 228.9h0M162.55 229h0M162.7 228.8h0M162.86 228.8h0M163.01 228.8h0M163.16 228.9h0M163.31 229h0M163.47 228.9h0M163.62 229h0M163.77 228.8h0M163.92 228.8h0M164.08 228.8h0M164.23 228.9h0M164.38 228.9h0M164.53 228.8h0M164.69 229h0M164.84 228.8h0M164.99 228.8h0M165.14 228.9h0M165.29 228.9h0M165.45 228.8h0M165.6 228.9h0M165.75 228.9h0M165.9 228.8h0M166.06 228.8h0M166.21 228.7h0M166.36 228.9h0M166.51 229h0M166.67 228.7h0M166.82 228.7h0M166.97 228.9h0M167.12 228.9h0M167.28 228.8h0M167.43 228.9h0M167.58 228.8h0M167.73 229h0M167.89 228.8h0M168.04 229h0M168.19 228.8h0M168.34 228.6h0M168.5 228.8h0M168.65 228.7h0M168.8 228.8h0M168.95 228.8h0M169.11 228.9h0M169.26 228.7h0M169.41 228.8h0M169.56 228.6h0M169.72 228.9h0M169.87 228.8h0M170.02 228.8h0M170.17 228.6h0M170.33 228.6h0M170.48 228.8h0M170.63 228.9h0M170.78 228.9h0M170.94 228.7h0M171.09 228.8h0M171.24 228.9h0M171.39 228.8h0M171.54 229h0M171.7 229h0M171.85 228.7h0M172 228.8h0M172.15 228.8h0M172.31 228.9h0M172.46 228.8h0M172.61 228.7h0M172.76 228.9h0M172.92 228.8h0M173.07 228.9h0M173.22 228.8h0M173.37 228.8h0M173.53 228.9h0M173.68 228.9h0M173.83 228.9h0M173.98 228.9h0M174.14 228.9h0M174.29 228.9h0M174.44 228.8h0M174.59 228.9h0M174.75 228.9h0M174.9 228.8h0M175.05 228.9h0M175.2 228.9h0M175.36 228.8h0M175.51 228.8h0M175.66 228.8h0M175.81 228.8h0M175.97 229h0M176.12 228.8h0M176.27 228.7h0M176.42 228.8h0M176.58 229h0M176.73 228.8h0M176.88 228.9h0M177.03 228.8h0M177.19 228.8h0M177.34 228.9h0M177.49 228.7h0M177.64 228.8h0M177.79 228.7h0M177.95 228.7h0M178.1 228.7h0M178.25 228.7h0M178.4 228.9h0M178.56 228.8h0M178.71 229h0M178.86 228.8h0M179.01 228.7h0M179.17 228.7h0M179.32 228.7h0M179.47 228.8h0M179.62 228.8h0M179.78 228.8h0M179.93 228.7h0M180.08 228.7h0M180.23 228.8h0M180.39 228.5h0M180.54 228.8h0M180.69 228.8h0M180.84 228.8h0M181 228.8h0M181.15 228.8h0M181.3 228.9h0M181.45 228.7h0M181.61 228.8h0M181.76 228.7h0M181.91 228.7h0M182.06 228.9h0M182.22 228.9h0M182.37 228.9h0M182.52 228.8h0M182.67 228.8h0M182.83 228.8h0M182.98 228.9h0M183.13 228.8h0M183.28 228.7h0M183.43 229h0M183.59 228.9h0M183.74 228.8h0M183.89 228.9h0M184.04 228.9h0M184.2 228.7h0M184.35 228.8h0M184.5 228.8h0M184.65 228.9h0M184.81 228.7h0M184.96 228.9h0M185.11 228.9h0M185.26 228.9h0M185.42 228.9h0M185.57 228.7h0M185.72 228.9h0M185.87 228.9h0M186.03 229.1h0M186.18 228.9h0M186.33 229h0M186.48 229h0M186.64 228.9h0M186.79 229h0M186.94 228.8h0M187.09 228.8h0M187.25 229.1h0M187.4 228.9h0M187.55 229h0M187.7 228.9h0M187.86 228.8h0M188.01 229h0M188.16 228.7h0M188.31 228.9h0M188.47 229h0M188.62 228.9h0M188.77 228.8h0M188.92 229h0M189.08 228.9h0M189.23 229h0M189.38 228.8h0M189.53 228.8h0M189.68 228.9h0M189.84 228.8h0M189.99 228.9h0M190.14 228.9h0M190.29 228.7h0M190.45 228.8h0M190.6 228.7h0M190.75 228.8h0M190.9 228.9h0M191.06 228.8h0M191.21 228.8h0M191.36 228.8h0M191.51 228.9h0M191.67 228.9h0M191.82 228.9h0M191.97 228.8h0M192.12 228.8h0M192.28 228.8h0M192.43 229h0M192.58 228.8h0M192.73 228.8h0M192.89 229h0M193.04 228.8h0M193.19 228.8h0M193.34 228.8h0M193.5 228.8h0M193.65 228.8h0M193.8 228.8h0M193.95 228.9h0M194.11 229.1h0M194.26 229h0M194.41 228.9h0M194.56 229h0M194.72 228.9h0M194.87 228.9h0M195.02 228.9h0M195.17 228.8h0M195.32 229h0M195.48 228.9h0M195.63 229h0M195.78 229h0M195.93 228.9h0M196.09 229h0M196.24 228.9h0M196.39 229.1h0M196.54 229h0M196.7 229h0M196.85 229h0M197 229h0M197.15 229.1h0M197.31 228.9h0M197.46 229.1h0M197.61 229h0M197.76 228.9h0M197.92 228.9h0M198.07 228.9h0M198.22 228.9h0M198.37 228.8h0M198.53 229h0M198.68 229h0M198.83 229h0M198.98 228.8h0M199.14 228.9h0M199.29 228.8h0M199.44 228.8h0M199.59 228.9h0M199.75 229h0M199.9 229h0M200.05 228.7h0M200.2 228.8h0M200.36 228.8h0M200.51 228.9h0M200.66 228.9h0M200.81 228.9h0M200.97 228.9h0M201.12 229.1h0M201.27 228.9h0M201.42 228.9h0M201.57 228.9h0M201.73 228.9h0M201.88 228.8h0M202.03 228.9h0M202.18 228.9h0M202.34 229.1h0M202.49 229h0M202.64 228.8h0M202.79 229h0M202.95 228.9h0M203.1 228.9h0M203.25 229h0M203.4 228.9h0M203.56 229h0M203.71 229.1h0M203.86 229h0M204.01 229h0M204.17 228.9h0M204.32 228.9h0M204.47 228.9h0M204.62 229h0M204.78 228.7h0M204.93 228.9h0M205.08 228.9h0M205.23 228.9h0M205.39 228.9h0M205.54 229h0M205.69 228.9h0M205.84 228.9h0M206 228.9h0M206.15 228.9h0M206.3 229h0M206.45 229h0M206.61 228.8h0M206.76 229h0M206.91 228.9h0M207.06 228.9h0M207.21 228.8h0M207.37 229h0M207.52 229h0M207.67 229h0M207.82 229h0M207.98 229.1h0M208.13 228.9h0M208.28 229.1h0M208.43 228.9h0M208.59 228.9h0M208.74 228.9h0M208.89 229h0M209.04 228.8h0M209.2 229h0M209.35 229h0M209.5 229h0M209.65 229h0M209.81 228.9h0M209.96 228.8h0M210.11 229h0M210.26 228.9h0M210.42 228.8h0M210.57 228.9h0M210.72 228.9h0M210.87 229h0M211.03 228.8h0M211.18 229h0M211.33 228.9h0M211.48 228.8h0M211.64 228.8h0M211.79 228.9h0M211.94 228.8h0M212.09 228.9h0M212.25 228.9h0M212.4 228.8h0M212.55 228.9h0M212.7 228.9h0M212.86 229h0M213.01 228.9h0M213.16 228.9h0M213.31 229h0M213.46 228.9h0M213.62 228.8h0M213.77 228.9h0M213.92 228.9h0M214.07 229h0M214.23 228.9h0M214.38 228.9h0M214.53 228.8h0M214.68 228.9h0M214.84 228.8h0M214.99 229h0M215.14 228.9h0M215.29 228.8h0M215.45 228.9h0M215.6 228.9h0M215.75 228.9h0M215.9 228.9h0M216.06 229h0M216.21 228.9h0M216.36 228.9h0M216.51 228.9h0M216.67 228.8h0M216.82 228.9h0M216.97 228.9h0M217.12 228.9h0M217.28 228.8h0M217.43 228.9h0M217.58 228.7h0M217.73 228.9h0M217.89 228.8h0M218.04 228.9h0M218.19 228.8h0M218.34 228.8h0M218.5 228.7h0M218.65 228.8h0M218.8 228.8h0M218.95 228.7h0M219.11 228.8h0M219.26 228.9h0M219.41 228.8h0M219.56 228.8h0M219.71 228.7h0M219.87 228.8h0M220.02 228.8h0" stroke="#1f77b4" stroke-width="6.9" stroke-linecap="round"/>
<polyline points="49.29,188.8 49.44,191.6 49.6,196.5 49.75,202.3 49.9,208.1 50.05,213.2 50.21,217.1 50.36,220 50.51,222 50.66,223.3 50.82,224.3 50.97,224.9 51.12,225.3 51.27,225.6 51.43,225.8 51.58,226 51.73,226.1 51.88,226.2 52.03,226.3 52.19,226.4 52.34,226.5 52.49,226.6 52.64,226.7 52.8,226.8 52.95,226.9 53.1,227 53.25,227 53.41,227 53.56,227 53.71,227 53.86,227.1 54.02,227.1 54.17,227.1 54.32,227.1 54.47,227.2 54.63,227.3 54.78,227.3 54.93,227.4 55.08,227.4 55.24,227.5 55.39,227.5 55.54,227.5 55.69,227.5 55.85,227.5 56,227.5 56.15,227.4 56.3,227.4 56.46,227.4 56.61,227.4 56.76,227.4 56.91,227.4 57.07,227.4 57.22,227.4 57.37,227.4 57.52,227.5 57.67,227.5 57.83,227.5 57.98,227.5 58.13,227.6 58.28,227.6 58.44,227.6 58.59,227.7 58.74,227.7 58.89,227.7 59.05,227.7 59.2,227.7 59.35,227.7 59.5,227.7 59.66,227.7 59.81,227.7 59.96,227.7 60.11,227.8 60.27,227.8 60.42,227.8 60.57,227.8 60.72,227.8 60.88,227.8 61.03,227.9 61.18,227.9 61.33,227.9 61.49,227.9 61.64,227.9 61.79,227.9 61.94,227.8 62.1,227.8 62.25,227.8 62.4,227.8 62.55,227.7 62.71,227.7 62.86,227.7 63.01,227.7 63.16,227.7 63.32,227.8 63.47,227.8 63.62,227.8 63.77,227.9 63.92,227.9 64.08,227.9 64.23,227.9 64.38,227.9 64.53,227.9 64.69,227.9 64.84,227.9 64.99,227.9 65.14,227.9 65.3,227.9 65.45,227.9 65.6,228 65.75,228 65.91,228 66.06,228 66.21,228 66.36,228 66.52,228 66.67,228 66.82,228.1 66.97,228.1 67.13,228.1 67.28,228.1 67.43,228.1 67.58,228.1 67.74,228.1 67.89,228.1 68.04,228.1 68.19,228.1 68.35,228.1 68.5,228.1 68.65,228.1 68.8,228.1 68.96,228.1 69.11,228.1 69.26,228.1 69.41,228.1 69.56,228.1 69.72,228.1 69.87,228.1 70.02,228.1 70.17,228.1 70.33,228.1 70.48,228.1 70.63,228.1 70.78,228.1 70.94,228.1 71.09,228.1 71.24,228.1 71.39,228.2 71.55,228.2 71.7,228.2 71.85,228.3 72,228.3 72.16,228.3 72.31,228.4 72.46,228.4 72.61,228.4 72.77,228.4 72.92,228.5 73.07,228.5 73.22,228.5 73.38,228.5 73.53,228.5 73.68,228.5 73.83,228.5 73.99,228.4 74.14,228.4 74.29,228.4 74.44,228.4 74.6,228.4 74.75,228.4 74.9,228.4 75.05,228.5 75.21,228.5 75.36,228.5 75.51,228.5 75.66,228.5 75.81,228.5 75.97,228.5 76.12,228.4 76.27,228.4 76.42,228.4 76.58,228.3 76.73,228.3 76.88,228.3 77.03,228.3 77.19,228.3 77.34,228.3 77.49,228.3 77.64,228.4 77.8,228.4 77.95,228.4 78.1,228.4 78.25,228.4 78.41,228.4 78.56,228.4 78.71,228.4 78.86,228.4 79.02,228.4 79.17,228.4 79.32,228.4 79.47,228.4 79.63,228.4 79.78,228.4 79.93,228.4 80.08,228.5 80.24,228.5 80.39,228.6 80.54,228.6 80.69,228.6 80.85,228.6 81,228.7 81.15,228.7 81.3,228.7 81.45,228.8 81.61,228.8 81.76,228.8 81.91,228.8 82.06,228.8 82.22,228.8 82.37,228.8 82.52,228.8 82.67,228.8 82.83,228.8 82.98,228.8 83.13,228.8 83.28,228.8 83.44,228.8 83.59,228.8 83.74,228.8 83.89,228.8 84.05,228.8 84.2,228.8 84.35,228.8 84.5,228.8 84.66,228.8 84.81,228.8 84.96,228.8 85.11,228.8 85.27,228.8 85.42,228.7 85.57,228.7 85.72,228.7 85.88,228.7 86.03,228.7 86.18,228.7 86.33,228.7 86.49,228.7 86.64,228.7 86.79,228.7 86.94,228.7 87.1,228.7 87.25,228.7 87.4,228.7 87.55,228.7 87.7,228.7 87.86,228.7 88.01,228.8 88.16,228.8 88.31,228.8 88.47,228.8 88.62,228.8 88.77,228.9 88.92,228.9 89.08,228.9 89.23,228.9 89.38,228.9 89.53,228.9 89.69,228.9 89.84,228.9 89.99,228.9 90.14,228.9 90.3,228.9 90.45,228.9 90.6,228.9 90.75,228.9 90.91,228.9 91.06,228.9 91.21,228.9 91.36,228.9 91.52,228.9 91.67,228.9 91.82,228.9 91.97,228.8 92.13,228.8 92.28,228.8 92.43,228.8 92.58,228.8 92.74,228.8 92.89,228.8 93.04,228.8 93.19,228.8 93.35,228.8 93.5,228.8 93.65,228.8 93.8,228.8 93.95,228.8 94.11,228.8 94.26,228.8 94.41,228.8 94.56,228.8 94.72,228.8 94.87,228.8 95.02,228.8 95.17,228.9 95.33,228.9 95.48,228.9 95.63,228.9 95.78,228.9 95.94,228.9 96.09,228.8 96.24,228.8 96.39,228.9 96.55,228.9 96.7,228.9 96.85,228.9 97,228.9 97.16,228.9 97.31,228.9 97.46,228.9 97.61,228.9 97.77,228.9 97.92,228.9 98.07,228.9 98.22,228.9 98.38,228.8 98.53,228.8 98.68,228.8 98.83,228.8 98.99,228.7 99.14,228.7 99.29,228.6 99.44,228.6 99.59,228.6 99.75,228.5 99.9,228.5 100.05,228.5 100.2,228.5 100.36,228.5 100.51,228.5 100.66,228.5 100.81,228.5 100.97,228.5 101.12,228.5 101.27,228.5 101.42,228.5 101.58,228.5 101.73,228.5 101.88,228.5 102.03,228.5 102.19,228.5 102.34,228.5 102.49,228.5 102.64,228.6 102.8,228.6 102.95,228.6 103.1,228.6 103.25,228.6 103.41,228.6 103.56,228.6 103.71,228.6 103.86,228.6 104.02,228.6 104.17,228.6 104.32,228.6 104.47,228.6 104.63,228.6 104.78,228.6 104.93,228.6 105.08,228.6 105.24,228.6 105.39,228.6 105.54,228.6 105.69,228.6 105.84,228.6 106,228.7 106.15,228.7 106.3,228.7 106.45,228.6 106.61,228.6 106.76,228.6 106.91,228.6 107.06,228.6 107.22,228.6 107.37,228.6 107.52,228.6 107.67,228.6 107.83,228.6 107.98,228.6 108.13,228.6 108.28,228.6 108.44,228.6 108.59,228.6 108.74,228.7 108.89,228.7 109.05,228.7 109.2,228.7 109.35,228.7 109.5,228.8 109.66,228.8 109.81,228.8 109.96,228.8 110.11,228.8 110.27,228.8 110.42,228.8 110.57,228.8 110.72,228.8 110.88,228.8 111.03,228.8 111.18,228.8 111.33,228.8 111.48,228.9 111.64,228.9 111.79,228.9 111.94,228.9 112.09,228.9 112.25,228.9 112.4,228.9 112.55,228.9 112.7,228.9 112.86,228.9 113.01,228.9 113.16,228.9 113.31,228.9 113.47,228.9 113.62,228.9 113.77,228.9 113.92,228.9 114.08,228.8 114.23,228.8 114.38,228.8 114.53,228.8 114.69,228.8 114.84,228.8 114.99,228.8 115.14,228.8 115.3,228.9 115.45,228.9 115.6,228.9 115.75,228.9 115.91,228.9 116.06,228.9 116.21,228.9 116.36,228.9 116.52,228.9 116.67,228.9 116.82,228.8 116.97,228.8 117.13,228.8 117.28,228.8 117.43,228.8 117.58,228.8 117.73,228.8 117.89,228.8 118.04,228.8 118.19,228.8 118.34,228.8 118.5,228.8 118.65,228.8 118.8,228.7 118.95,228.7 119.11,228.7 119.26,228.7 119.41,228.7 119.56,228.7 119.72,228.7 119.87,228.7 120.02,228.7 120.17,228.7 120.33,228.8 120.48,228.8 120.63,228.8 120.78,228.8 120.94,228.8 121.09,228.8 121.24,228.8 121.39,228.8 121.55,228.8 121.7,228.8 121.85,228.8 122,228.8 122.16,228.8 122.31,228.8 122.46,228.8 122.61,228.8 122.77,228.8 122.92,228.8 123.07,228.7 123.22,228.8 123.37,228.8 123.53,228.8 123.68,228.8 123.83,228.8 123.98,228.8 124.14,228.8 124.29,228.8 124.44,228.8 124.59,228.8 124.75,228.8 124.9,228.8 125.05,228.9 125.2,228.9 125.36,228.9 125.51,228.8 125.66,228.8 125.81,228.8 125.97,228.8 126.12,228.8 126.27,228.8 126.42,228.8 126.58,228.8 126.73,228.8 126.88,228.8 127.03,228.8 127.19,228.8 127.34,228.8 127.49,228.8 127.64,228.8 127.8,228.8 127.95,228.8 128.1,228.8 128.25,228.8 128.41,228.8 128.56,228.8 128.71,228.8 128.86,228.8 129.02,228.8 129.17,228.9 129.32,228.9 129.47,228.9 129.62,228.9 129.78,228.9 129.93,229 130.08,229 130.23,229 130.39,228.9 130.54,228.9 130.69,228.9 130.84,228.9 131,228.8 131.15,228.8 131.3,228.8 131.45,228.8 131.61,228.8 131.76,228.8 131.91,228.8 132.06,228.8 132.22,228.8 132.37,228.8 132.52,228.8 132.67,228.8 132.83,228.8 132.98,228.8 133.13,228.8 133.28,228.8 133.44,228.8 133.59,228.8 133.74,228.8 133.89,228.8 134.05,228.8 134.2,228.8 134.35,228.8 134.5,228.8 134.66,228.8 134.81,228.8 134.96,228.8 135.11,228.8 135.27,228.8 135.42,228.8 135.57,228.8 135.72,228.8 135.87,228.8 136.03,228.8 136.18,228.8 136.33,228.8 136.48,228.9 136.64,228.9 136.79,228.9 136.94,228.9 137.09,228.9 137.25,228.9 137.4,228.9 137.55,228.9 137.7,228.9 137.86,228.9 138.01,228.9 138.16,228.9 138.31,228.9 138.47,228.9 138.62,228.9 138.77,228.9 138.92,228.9 139.08,228.9 139.23,228.9 139.38,228.9 139.53,228.9 139.69,228.9 139.84,228.8 139.99,228.8 140.14,228.8 140.3,228.8 140.45,228.7 140.6,228.7 140.75,228.7 140.91,228.7 141.06,228.6 141.21,228.6 141.36,228.6 141.51,228.6 141.67,228.6 141.82,228.6 141.97,228.7 142.12,228.7 142.28,228.7 142.43,228.7 142.58,228.7 142.73,228.7 142.89,228.7 143.04,228.7 143.19,228.6 143.34,228.6 143.5,228.6 143.65,228.7 143.8,228.7 143.95,228.7 144.11,228.7 144.26,228.7 144.41,228.7 144.56,228.7 144.72,228.7 144.87,228.7 145.02,228.7 145.17,228.7 145.33,228.7 145.48,228.7 145.63,228.8 145.78,228.8 145.94,228.8 146.09,228.8 146.24,228.8 146.39,228.8 146.55,228.8 146.7,228.7 146.85,228.7 147,228.7 147.16,228.8 147.31,228.8 147.46,228.8 147.61,228.8 147.76,228.8 147.92,228.8 148.07,228.8 148.22,228.8 148.37,228.8 148.53,228.8 148.68,228.8 148.83,228.8 148.98,228.8 149.14,228.8 149.29,228.8 149.44,228.8 149.59,228.8 149.75,228.9 149.9,228.9 150.05,228.9 150.2,228.9 150.36,228.9 150.51,228.9 150.66,228.8 150.81,228.8 150.97,228.8 151.12,228.9 151.27,228.9 151.42,228.9 151.58,228.9 151.73,228.9 151.88,228.9 152.03,228.9 152.19,228.9 152.34,228.9 152.49,228.9 152.64,228.9 152.8,228.9 152.95,228.8 153.1,228.8 153.25,228.8 153.4,228.8 153.56,228.8 153.71,228.8 153.86,228.8 154.01,228.8 154.17,228.8 154.32,228.8 154.47,228.8 154.62,228.8 154.78,228.8 154.93,228.8 155.08,228.8 155.23,228.8 155.39,228.8 155.54,228.9 155.69,228.9 155.84,228.9 156,228.9 156.15,228.9 156.3,228.9 156.45,228.9 156.61,228.9 156.76,228.9 156.91,228.8 157.06,228.8 157.22,228.8 157.37,228.8 157.52,228.8 157.67,228.8 157.83,228.8 157.98,228.8 158.13,228.8 158.28,228.8 158.44,228.8 158.59,228.8 158.74,228.8 158.89,228.8 159.05,228.8 159.2,228.8 159.35,228.8 159.5,228.8 159.65,228.8 159.81,228.8 159.96,228.8 160.11,228.8 160.26,228.8 160.42,228.8 160.57,228.8 160.72,228.8 160.87,228.8 161.03,228.8 161.18,228.9 161.33,228.9 161.48,228.9 161.64,228.9 161.79,228.9 161.94,228.9 162.09,228.9 162.25,228.9 162.4,228.9 162.55,228.9 162.7,228.9 162.86,228.9 163.01,228.9 163.16,228.9 163.31,228.9 163.47,228.9 163.62,228.9 163.77,228.9 163.92,228.9 164.08,228.9 164.23,228.9 164.38,228.9 164.53,228.9 164.69,228.9 164.84,228.9 164.99,228.9 165.14,228.9 165.29,228.9 165.45,228.9 165.6,228.9 165.75,228.8 165.9,228.8 166.06,228.8 166.21,228.8 166.36,228.8 166.51,228.8 166.67,228.8 166.82,228.8 166.97,228.8 167.12,228.8 167.28,228.9 167.43,228.9 167.58,228.9 167.73,228.9 167.89,228.8 168.04,228.8 168.19,228.8 168.34,228.8 168.5,228.8 168.65,228.8 168.8,228.8 168.95,228.8 169.11,228.8 169.26,228.8 169.41,228.8 169.56,228.8 169.72,228.8 169.87,228.8 170.02,228.8 170.17,228.8 170.33,228.8 170.48,228.8 170.63,228.8 170.78,228.8 170.94,228.8 171.09,228.8 171.24,228.8 171.39,228.8 171.54,228.9 171.7,228.8 171.85,228.8 172,228.8 172.15,228.8 172.31,228.8 172.46,228.8 172.61,228.8 172.76,228.8 172.92,228.8 173.07,228.8 173.22,228.9 173.37,228.9 173.53,228.9 173.68,228.9 173.83,228.9 173.98,228.9 174.14,228.9 174.29,228.9 174.44,228.9 174.59,228.9 174.75,228.9 174.9,228.8 175.05,228.8 175.2,228.8 175.36,228.8 175.51,228.8 175.66,228.8 175.81,228.8 175.97,228.8 176.12,228.8 176.27,228.8 176.42,228.8 176.58,228.8 176.73,228.8 176.88,228.8 177.03,228.8 177.19,228.8 177.34,228.8 177.49,228.8 177.64,228.8 177.79,228.8 177.95,228.8 178.1,228.8 178.25,228.8 178.4,228.8 178.56,228.8 178.71,228.8 178.86,228.8 179.01,228.8 179.17,228.8 179.32,228.7 179.47,228.7 179.62,228.7 179.78,228.7 179.93,228.7 180.08,228.7 180.23,228.7 180.39,228.7 180.54,228.7 180.69,228.8 180.84,228.8 181,228.8 181.15,228.8 181.3,228.8 181.45,228.8 181.61,228.8 181.76,228.8 181.91,228.8 182.06,228.8 182.22,228.8 182.37,228.9 182.52,228.9 182.67,228.9 182.83,228.9 182.98,228.8 183.13,228.8 183.28,228.8 183.43,228.8 183.59,228.8 183.74,228.8 183.89,228.8 184.04,228.8 184.2,228.8 184.35,228.8 184.5,228.8 184.65,228.8 184.81,228.8 184.96,228.9 185.11,228.9 185.26,228.9 185.42,228.9 185.57,228.9 185.72,228.9 185.87,228.9 186.03,228.9 186.18,228.9 186.33,228.9 186.48,228.9 186.64,228.9 186.79,228.9 186.94,228.9 187.09,228.9 187.25,228.9 187.4,228.9 187.55,228.9 187.7,228.9 187.86,228.9 188.01,228.9 188.16,228.9 188.31,228.9 188.47,228.9 188.62,228.9 188.77,228.9 188.92,228.9 189.08,228.9 189.23,228.9 189.38,228.9 189.53,228.8 189.68,228.8 189.84,228.8 189.99,228.8 190.14,228.8 190.29,228.8 190.45,228.8 190.6,228.8 190.75,228.8 190.9,228.8 191.06,228.8 191.21,228.8 191.36,228.8 191.51,228.8 191.67,228.9 191.82,228.9 191.97,228.9 192.12,228.8 192.28,228.8 192.43,228.8 192.58,228.9 192.73,228.9 192.89,228.9 193.04,228.8 193.19,228.8 193.34,228.9 193.5,228.9 193.65,228.9 193.8,228.9 193.95,228.9 194.11,228.9 194.26,228.9 194.41,228.9 194.56,228.9 194.72,228.9 194.87,228.9 195.02,228.9 195.17,228.9 195.32,228.9 195.48,229 195.63,229 195.78,229 195.93,229 196.09,229 196.24,229 196.39,229 196.54,229 196.7,229 196.85,229 197,229 197.15,229 197.31,229 197.46,229 197.61,229 197.76,228.9 197.92,228.9 198.07,228.9 198.22,228.9 198.37,228.9 198.53,228.9 198.68,228.9 198.83,228.9 198.98,228.9 199.14,228.9 199.29,228.9 199.44,228.9 199.59,228.9 199.75,228.9 199.9,228.9 200.05,228.9 200.2,228.9 200.36,228.9 200.51,228.9 200.66,228.9 200.81,228.9 200.97,228.9 201.12,228.9 201.27,228.9 201.42,228.9 201.57,228.9 201.73,228.9 201.88,228.9 202.03,228.9 202.18,228.9 202.34,228.9 202.49,228.9 202.64,228.9 202.79,228.9 202.95,228.9 203.1,228.9 203.25,228.9 203.4,229 203.56,229 203.71,229 203.86,229 204.01,229 204.17,229 204.32,228.9 204.47,228.9 204.62,228.9 204.78,228.9 204.93,228.9 205.08,228.9 205.23,228.9 205.39,228.9 205.54,228.9 205.69,228.9 205.84,228.9 206,228.9 206.15,228.9 206.3,228.9 206.45,228.9 206.61,228.9 206.76,228.9 206.91,228.9 207.06,228.9 207.21,228.9 207.37,229 207.52,229 207.67,229 207.82,229 207.98,229 208.13,229 208.28,229 208.43,229 208.59,229 208.74,229 208.89,228.9 209.04,228.9 209.2,228.9 209.35,228.9 209.5,228.9 209.65,228.9 209.81,228.9 209.96,228.9 210.11,228.9 210.26,228.9 210.42,228.9 210.57,228.9 210.72,228.9 210.87,228.9 211.03,228.9 211.18,228.9 211.33,228.9 211.48,228.9 211.64,228.9 211.79,228.9 211.94,228.9 212.09,228.9 212.25,228.9 212.4,228.9 212.55,228.9 212.7,228.9 212.86,228.9 213.01,228.9 213.16,228.9 213.31,228.9 213.46,228.9 213.62,228.9 213.77,228.9 213.92,228.9 214.07,228.9 214.23,228.9 214.38,228.9 214.53,228.9 214.68,228.9 214.84,228.9 214.99,228.9 215.14,228.9 215.29,228.9 215.45,228.9 215.6,228.9 215.75,228.9 215.9,228.9 216.06,228.9 216.21,228.9 216.36,228.9 216.51,228.9 216.67,228.9 216.82,228.9 216.97,228.9 217.12,228.9 217.28,228.8 217.43,228.8 217.58,228.8 217.73,228.8 217.89,228.8 218.04,228.8 218.19,228.8 218.34,228.8 218.5,228.8 218.65,228.8 218.8,228.8 218.95,228.8 219.11,228.8 219.26,228.8 219.41,228.8 219.56,228.8 219.71,228.8 219.87,228.8 220.02,228.8" stroke="#ff7f0e" stroke-width="2.5" stroke-dasharray="2.64 4.6" stroke-linejoin="round"/>
</g>
<rect x="44.05" y="24.15" width="206.80" height="215.15" fill="none" stroke="#000" stroke-width="1.2"/>
<line x1="53.2" y1="239.3" x2="53.2" y2="243.70000000000002" stroke="#000" stroke-width="1.2"/>
<text transform="translate(52.9,259.2) scale(1.116,1)" text-anchor="middle" font-size="14.7">0</text>
<line x1="137.1" y1="239.3" x2="137.1" y2="243.70000000000002" stroke="#000" stroke-width="1.2"/>
<text transform="translate(136.8,259.2) scale(1.116,1)" text-anchor="middle" font-size="14.7">500</text>
<line x1="220.9" y1="239.3" x2="220.9" y2="243.70000000000002" stroke="#000" stroke-width="1.2"/>
<text transform="translate(220.6,259.2) scale(1.116,1)" text-anchor="middle" font-size="14.7">1000</text>
<line x1="38.55" y1="179.1" x2="44.05" y2="179.1" stroke="#000" stroke-width="1.2"/>
<text transform="translate(33.05,184.3) scale(1.116,1)" text-anchor="end" font-size="14.7">10</text>
<line x1="38.55" y1="118.9" x2="44.05" y2="118.9" stroke="#000" stroke-width="1.2"/>
<text transform="translate(33.05,124.1) scale(1.116,1)" text-anchor="end" font-size="14.7">20</text>
<line x1="38.55" y1="58.7" x2="44.05" y2="58.7" stroke="#000" stroke-width="1.2"/>
<text transform="translate(33.05,63.9) scale(1.116,1)" text-anchor="end" font-size="14.7">30</text>
<text transform="translate(147.45,15.8) scale(1.205,1)" text-anchor="middle" font-size="15.1">val/dfl_loss</text>
<rect x="119.3" y="110.3" width="43.40" height="29.50" fill="#fff" stroke="#8c8c8c" stroke-width="1"/>
<text transform="translate(140.9,129.9) scale(1.06,1)" text-anchor="middle" font-size="14" stroke-width="0.1" font-family="'Liberation Sans',sans-serif">A</text>
<g transform="scale(1.1,1)" fill="none">
<polyline points="287.75,229.8 287.91,229.8 288.06,229.8 288.21,229.8 288.36,225.4 288.52,225.2 288.67,225.4 288.82,225.4 288.97,194.5 289.12,170.1 289.28,156.9 289.43,119.3 289.58,101.6 289.73,163.5 289.89,110.4 290.04,181.2 290.19,123.7 290.34,152.4 290.49,192.2 290.65,130.3 290.8,114.9 290.95,163.5 291.1,139.2 291.26,187.8 291.41,125.9 291.56,150.2 291.71,119.3 291.86,167.9 292.02,169.3 292.17,165.1 292.32,131.2 292.47,140.7 292.62,127.1 292.78,131.6 292.93,137.9 293.08,136.4 293.23,141.8 293.39,127.9 293.54,152.8 293.69,143.2 293.84,134.3 293.99,114.8 294.15,145.4 294.3,148.5 294.45,141.7 294.6,123.2 294.76,136.6 294.91,118.3 295.06,153.8 295.21,119.7 295.36,120.3 295.52,146.5 295.67,128.9 295.82,117.1 295.97,128.5 296.13,118.5 296.28,104 296.43,125 296.58,130 296.73,134.3 296.89,119.7 297.04,127.5 297.19,126.7 297.34,125.4 297.5,117.7 297.65,133.3 297.8,136.9 297.95,144.5 298.1,110.8 298.26,120.4 298.41,107.1 298.56,120.1 298.71,125.9 298.87,114.8 299.02,119 299.17,128.5 299.32,124.7 299.47,102 299.63,113.3 299.78,112.3 299.93,117.5 300.08,120.3 300.23,107.1 300.39,114.7 300.54,119.4 300.69,131.5 300.84,119.6 301,110.7 301.15,103.1 301.3,117.7 301.45,100.3 301.6,115.6 301.76,109.2 301.91,116.1 302.06,111.2 302.21,108.9 302.37,112 302.52,113.6 302.67,113 302.82,113.7 302.97,118.5 303.13,109 303.28,104.1 303.43,100.3 303.58,101.8 303.74,103.3 303.89,103.4 304.04,108.2 304.19,92.5 304.34,111.4 304.5,97.8 304.65,110.1 304.8,101.2 304.95,115.8 305.11,97.1 305.26,103.6 305.41,108.3 305.56,91.4 305.71,96.8 305.87,101 306.02,105.6 306.17,100.9 306.32,101.3 306.48,95.6 306.63,109.5 306.78,103.4 306.93,102.4 307.08,101.9 307.24,106.5 307.39,101.6 307.54,98.4 307.69,93.5 307.84,89.6 308,101.6 308.15,93.4 308.3,98.8 308.45,84.2 308.61,96 308.76,92.5 308.91,100.3 309.06,99.3 309.21,93.3 309.37,96.2 309.52,91.9 309.67,102.1 309.82,89.6 309.98,97.8 310.13,83.2 310.28,93.8 310.43,86.1 310.58,99.1 310.74,89 310.89,95.7 311.04,93.3 311.19,90.3 311.35,91.7 311.5,88.4 311.65,85.6 311.8,85.8 311.95,89.3 312.11,95.5 312.26,92.3 312.41,88.9 312.56,98.4 312.72,83.5 312.87,88.2 313.02,87.9 313.17,81.6 313.32,82.7 313.48,84.6 313.63,90.4 313.78,83.6 313.93,83.1 314.09,88.8 314.24,79.1 314.39,81.4 314.54,93.1 314.69,82.6 314.85,89 315,77.1 315.15,78.4 315.3,101 315.45,85.9 315.61,80.9 315.76,82.2 315.91,73.5 316.06,76.9 316.22,81.5 316.37,77.1 316.52,89 316.67,77.7 316.82,74.9 316.98,79.4 317.13,81.5 317.28,75.3 317.43,68.7 317.59,76.4 317.74,82.2 317.89,70.2 318.04,85 318.19,73.9 318.35,78.5 318.5,71.4 318.65,79.1 318.8,69.1 318.96,73.4 319.11,82.2 319.26,83 319.41,75.4 319.56,68 319.72,72.9 319.87,72.9 320.02,74 320.17,69.5 320.33,70.8 320.48,71 320.63,76.3 320.78,66.6 320.93,65.7 321.09,76.9 321.24,61.2 321.39,67.7 321.54,88.4 321.7,78.5 321.85,67.3 322,67.5 322.15,72.2 322.3,77 322.46,74.8 322.61,71.4 322.76,70.7 322.91,56.6 323.06,59.4 323.22,64 323.37,69.7 323.52,64.9 323.67,76.7 323.83,66.6 323.98,70 324.13,71.9 324.28,72.9 324.43,64 324.59,65.6 324.74,65 324.89,62 325.04,68.7 325.2,70 325.35,72 325.5,65.9 325.65,61.3 325.8,64.8 325.96,61.4 326.11,68.5 326.26,65.5 326.41,66.5 326.57,68.2 326.72,55.8 326.87,59.6 327.02,65.8 327.17,65.7 327.33,62.7 327.48,68 327.63,60.5 327.78,67.1 327.94,63.4 328.09,65.8 328.24,63.5 328.39,66.7 328.54,67.5 328.7,65 328.85,63.7 329,62.1 329.15,60.6 329.31,54.9 329.46,57.5 329.61,61.4 329.76,57.6 329.91,62.8 330.07,54.6 330.22,57.9 330.37,64.9 330.52,56.8 330.67,56.5 330.83,69.4 330.98,62 331.13,60.9 331.28,66.1 331.44,62.8 331.59,62.2 331.74,56.7 331.89,57.4 332.04,48.7 332.2,59.6 332.35,53.8 332.5,57.6 332.65,56.8 332.81,61.9 332.96,64.5 333.11,60.2 333.26,54.5 333.41,51.4 333.57,54.8 333.72,55.1 333.87,59.7 334.02,51.1 334.18,51.7 334.33,58.2 334.48,56.4 334.63,59.6 334.78,50.7 334.94,54.4 335.09,56 335.24,54.1 335.39,53.9 335.55,56.8 335.7,59.6 335.85,59.6 336,61.1 336.15,53.3 336.31,47.1 336.46,60.6 336.61,54.1 336.76,53.1 336.92,57.8 337.07,53.6 337.22,58 337.37,50 337.52,56 337.68,53.5 337.83,51.4 337.98,55.1 338.13,59.7 338.28,55.3 338.44,50.8 338.59,53.6 338.74,52.4 338.89,56.7 339.05,52.5 339.2,50.4 339.35,52.7 339.5,46.3 339.65,53.3 339.81,56 339.96,57.8 340.11,48.5 340.26,52.4 340.42,48.7 340.57,50.5 340.72,46.5 340.87,47.6 341.02,52.9 341.18,50.7 341.33,47.9 341.48,55.4 341.63,46.6 341.79,47.3 341.94,47.9 342.09,51.6 342.24,49.9 342.39,54.4 342.55,50.5 342.7,52.5 342.85,50.2 343,52 343.16,49.4 343.31,46.4 343.46,54.3 343.61,47.1 343.76,56.2 343.92,56.7 344.07,50.1 344.22,49.6 344.37,48.2 344.53,54.7 344.68,49.6 344.83,49 344.98,45.4 345.13,49.5 345.29,47.5 345.44,52.1 345.59,60 345.74,50.4 345.89,46.7 346.05,51.9 346.2,51.4 346.35,47 346.5,43.2 346.66,47.5 346.81,47.7 346.96,49.6 347.11,45.2 347.26,46.8 347.42,43.1 347.57,47.3 347.72,51.1 347.87,49.9 348.03,51.1 348.18,51.9 348.33,44.2 348.48,45.6 348.63,51.6 348.79,42.6 348.94,47.1 349.09,50.6 349.24,46.6 349.4,47.9 349.55,49.9 349.7,53.3 349.85,47.4 350,46.6 350.16,55 350.31,45.7 350.46,45.5 350.61,48.6 350.77,46.8 350.92,47.9 351.07,49.5 351.22,48 351.37,43 351.53,51.1 351.68,46.2 351.83,46.3 351.98,48.8 352.14,47.9 352.29,50.6 352.44,49 352.59,46.5 352.74,45.5 352.9,49 353.05,37.7 353.2,47.9 353.35,45.9 353.5,46.8 353.66,47.3 353.81,42.4 353.96,47.4 354.11,42.2 354.27,42.7 354.42,48.8 354.57,42.9 354.72,47.6 354.87,38.1 355.03,46.7 355.18,48.2 355.33,50.9 355.48,49.1 355.64,47.1 355.79,48.2 355.94,48.8 356.09,47.3 356.24,45.9 356.4,41.3 356.55,49.9 356.7,46.7 356.85,47.8 357.01,49.2 357.16,48.5 357.31,47.5 357.46,43.1 357.61,45.5 357.77,46.4 357.92,43.3 358.07,44.1 358.22,45.5 358.38,43.8 358.53,47 358.68,43.1 358.83,43.5 358.98,45.8 359.14,47.9 359.29,40.6 359.44,44.3 359.59,36.5 359.75,46.3 359.9,42.2 360.05,45.6 360.2,43.8 360.35,42.2 360.51,46.5 360.66,44.6 360.81,43.9 360.96,44 361.11,42.7 361.27,41.5 361.42,42 361.57,43.4 361.72,45 361.88,47 362.03,45.9 362.18,45.4 362.33,42.2 362.48,44.9 362.64,47.1 362.79,42.3 362.94,45.9 363.09,45.7 363.25,44.3 363.4,42.5 363.55,49.8 363.7,46.5 363.85,43.2 364.01,44.5 364.16,45.7 364.31,44.9 364.46,40 364.62,44.6 364.77,41.6 364.92,41.4 365.07,44.5 365.22,42.2 365.38,44.4 365.53,44.8 365.68,46 365.83,41 365.99,44.1 366.14,44.5 366.29,45.8 366.44,38.6 366.59,41.2 366.75,43.3 366.9,44.6 367.05,46.6 367.2,42.1 367.36,42.1 367.51,46.2 367.66,39.9 367.81,40.8 367.96,45 368.12,44 368.27,43.6 368.42,42.2 368.57,42.9 368.72,46.4 368.88,38.9 369.03,41.7 369.18,39.4 369.33,39.4 369.49,42.8 369.64,41.5 369.79,40.5 369.94,40.4 370.09,42.6 370.25,43.6 370.4,42 370.55,43.9 370.7,43.3 370.86,46.7 371.01,41.8 371.16,44.3 371.31,43.2 371.46,42 371.62,41.1 371.77,37.4 371.92,41.3 372.07,45 372.23,41.4 372.38,43 372.53,40.7 372.68,43.1 372.83,43.1 372.99,42.7 373.14,42.9 373.29,45.6 373.44,42.9 373.6,41.4 373.75,38.6 373.9,42 374.05,42.1 374.2,40 374.36,40 374.51,37.6 374.66,39.9 374.81,41.3 374.97,38.2 375.12,37.8 375.27,42.2 375.42,40.8 375.57,44.9 375.73,42 375.88,43.1 376.03,41.6 376.18,42.2 376.33,41.5 376.49,41.4 376.64,40 376.79,40.6 376.94,42.4 377.1,43.9 377.25,38.4 377.4,38 377.55,42.1 377.7,39.9 377.86,44.4 378.01,44.5 378.16,41.7 378.31,37.9 378.47,43.3 378.62,42.9 378.77,37.6 378.92,45.1 379.07,39.6 379.23,40 379.38,41.5 379.53,40.6 379.68,35.4 379.84,43.4 379.99,41.7 380.14,41.5 380.29,42.4 380.44,43.8 380.6,37.6 380.75,40.5 380.9,44.7 381.05,42.4 381.21,40.1 381.36,40.1 381.51,43.9 381.66,41.1 381.81,40.3 381.97,40.1 382.12,40 382.27,44.7 382.42,37 382.58,40.4 382.73,37.1 382.88,34.9 383.03,41.1 383.18,43.3 383.34,39 383.49,41.1 383.64,41.7 383.79,42.9 383.94,37.3 384.1,41.6 384.25,43.6 384.4,41.6 384.55,43.1 384.71,40.4 384.86,41.5 385.01,42.8 385.16,39.4 385.31,41.9 385.47,39.2 385.62,38.1 385.77,41.3 385.92,41.9 386.08,40.2 386.23,38.8 386.38,40.6 386.53,40.3 386.68,40.6 386.84,40 386.99,39.3 387.14,42 387.29,41.6 387.45,40.6 387.6,42 387.75,40.5 387.9,39.8 388.05,41 388.21,42.2 388.36,42.7 388.51,37.8 388.66,39.7 388.82,43.8 388.97,43.4 389.12,38.3 389.27,39.2 389.42,42.1 389.58,40.3 389.73,45.7 389.88,43 390.03,41.8 390.19,47 390.34,45.1 390.49,42.3 390.64,41.8 390.79,45.3 390.95,43.8 391.1,41.4 391.25,45.3 391.4,47.3 391.55,44.9 391.71,45.6 391.86,42.5 392.01,44.7 392.16,46.5 392.32,40.4 392.47,45.9 392.62,44.1 392.77,43.6 392.92,43.4 393.08,44.5 393.23,43.7 393.38,44.8 393.53,47.3 393.69,45 393.84,44.9 393.99,44.8 394.14,44.1 394.29,45.5 394.45,41.8 394.6,41.3 394.75,48.2 394.9,44 395.06,45.3 395.21,48.7 395.36,43.1 395.51,44.9 395.66,44.4 395.82,44.8 395.97,41.6 396.12,41.2 396.27,42.9 396.43,42.1 396.58,43.5 396.73,43 396.88,44.5 397.03,43.1 397.19,44.3 397.34,42.3 397.49,41.4 397.64,42.3 397.8,40.7 397.95,37.9 398.1,46.5 398.25,42.6 398.4,43.6 398.56,43.4 398.71,44.9 398.86,42.4 399.01,42.9 399.16,43.5 399.32,42.8 399.47,43.4 399.62,46.5 399.77,40.4 399.93,42.8 400.08,43.9 400.23,41.7 400.38,43.4 400.53,46 400.69,40.6 400.84,45.1 400.99,42.5 401.14,41.9 401.3,39.7 401.45,40 401.6,41.7 401.75,43.3 401.9,42.7 402.06,40.1 402.21,38.9 402.36,41 402.51,43 402.67,40.1 402.82,42.5 402.97,42.6 403.12,42.3 403.27,40.8 403.43,41.3 403.58,40.1 403.73,39.5 403.88,40.9 404.04,45.7 404.19,44.6 404.34,41.4 404.49,41.8 404.64,38 404.8,41.7 404.95,41.8 405.1,40 405.25,39.7 405.41,41.9 405.56,40.7 405.71,43.4 405.86,43.1 406.01,39.4 406.17,43.8 406.32,39.9 406.47,40.3 406.62,40.1 406.77,39.9 406.93,40.4 407.08,45 407.23,43.1 407.38,42.4 407.54,39.9 407.69,43.3 407.84,42.6 407.99,42.1 408.14,39.4 408.3,44 408.45,43.9 408.6,40.7 408.75,45.3 408.91,41.3 409.06,42.7 409.21,44.6 409.36,42.8 409.51,43.8 409.67,42 409.82,41.7 409.97,40 410.12,42.5 410.28,42.4 410.43,43.5 410.58,42.7 410.73,41.1 410.88,45.9 411.04,41.9 411.19,43.9 411.34,42.9 411.49,42.6 411.65,41.9 411.8,42.9 411.95,44 412.1,43 412.25,43.5 412.41,43.9 412.56,43.4 412.71,42.4 412.86,43.6 413.02,43.6 413.17,46 413.32,44.2 413.47,47 413.62,43 413.78,45.7 413.93,42.2 414.08,39.6 414.23,44.9 414.38,42.2 414.54,43.6 414.69,45.1 414.84,45.5 414.99,43.3 415.15,41.9 415.3,43.4 415.45,46.2 415.6,45.4 415.75,44 415.91,41.5 416.06,43 416.21,42.8 416.36,41.3 416.52,43.3 416.67,43 416.82,43 416.97,45.3 417.12,41.7 417.28,41.7 417.43,40.7 417.58,43.9 417.73,43.1 417.89,40.3 418.04,41.1 418.19,39.4 418.34,42.7 418.49,41 418.65,42.2 418.8,40.6 418.95,41.7 419.1,40.1 419.26,39.2 419.41,39.7 419.56,43.4 419.71,39.2 419.86,39.9 420.02,42.1 420.17,41.8 420.32,40.5 420.47,39.6 420.63,41.1 420.78,42.9 420.93,40 421.08,40.2 421.23,36.8 421.39,42.4 421.54,36.7 421.69,37.9 421.84,40 421.99,38 422.15,40.3 422.3,39 422.45,41.5 422.6,40.3 422.76,41.9 422.91,42.8 423.06,40.8 423.21,41.4 423.36,39.6 423.52,38.6 423.67,40.7 423.82,40.4 423.97,40.2 424.13,42.9 424.28,40.1 424.43,40.4 424.58,40.5 424.73,42 424.89,43.3 425.04,40.8 425.19,40 425.34,38.5 425.5,38.8 425.65,38.3 425.8,39.9 425.95,38.7 426.1,40.6 426.26,39.4 426.41,39 426.56,36.4 426.71,39.9 426.87,42 427.02,38.2 427.17,41.2 427.32,40.2 427.47,40.4 427.63,41.3 427.78,38 427.93,39 428.08,40.7 428.24,39.7 428.39,40.3 428.54,38.8 428.69,40.2 428.84,40.7 429,40.4 429.15,40.1 429.3,39 429.45,40.7 429.6,39.5 429.76,38.7 429.91,36 430.06,38 430.21,43.3 430.37,39.8 430.52,39.6 430.67,38.5 430.82,36.7 430.97,37.8 431.13,42 431.28,38.3 431.43,38.6 431.58,38.1 431.74,36.7 431.89,40.1 432.04,37 432.19,40.7 432.34,38.3 432.5,37.8 432.65,35.2 432.8,39.2 432.95,40.5 433.11,37.2 433.26,39 433.41,35.9 433.56,39 433.71,39.1 433.87,36.2 434.02,37.7 434.17,36.4 434.32,39.7 434.48,35.5 434.63,38.4 434.78,36.5 434.93,38.9 435.08,39.6 435.24,37.8 435.39,37.2 435.54,35.2 435.69,36.8 435.85,36.3 436,36.3 436.15,33 436.3,38.2 436.45,35.4 436.61,37.2 436.76,36.6 436.91,37.7 437.06,35.4 437.21,38.6 437.37,38.7 437.52,37.2 437.67,38.5 437.82,36 437.98,35.8 438.13,38.1 438.28,36.1 438.43,38.1 438.58,37.3 438.74,37.3 438.89,35 439.04,37.5 439.19,38.8 439.35,38.9 439.5,36.3 439.65,40.1 439.8,38.7 439.95,38.6 440.11,41.4 440.26,38.9 440.41,37.1 440.56,38.1 440.72,39.7 440.87,37.6 441.02,37.9 441.17,35.9 441.32,39.5 441.48,39 441.63,38.4 441.78,38.6 441.93,38.2 442.09,38.4 442.24,39.1 442.39,40.2 442.54,38.7 442.69,39.7 442.85,39.1 443,38.4 443.15,36.9 443.3,36.3 443.46,38.6 443.61,36.8 443.76,36.1 443.91,37 444.06,38.9 444.22,39.5 444.37,35.6 444.52,35.3 444.67,36 444.82,37.6 444.98,34.4 445.13,34.6 445.28,36.1 445.43,36.2 445.59,38.4 445.74,34.9 445.89,37.8 446.04,34.9 446.19,34.8 446.35,35.6 446.5,33.8 446.65,36.2 446.8,35.1 446.96,34.8 447.11,35.5 447.26,36.4 447.41,34.4 447.56,35.5 447.72,36.3 447.87,36.3 448.02,36 448.17,33.3 448.33,36.1 448.48,36.6 448.63,37.7 448.78,37.9 448.93,38.8 449.09,36.2 449.24,36.5 449.39,37.9 449.54,38.5 449.7,37.1 449.85,37.4 450,38.4 450.15,36.5 450.3,36.7 450.46,37 450.61,36.1 450.76,37.9 450.91,35.4 451.07,38.4 451.22,36.6 451.37,36.4 451.52,37.6 451.67,36.9 451.83,38.9 451.98,39.2 452.13,37.6 452.28,38.3 452.43,36.7 452.59,37.4 452.74,36.7 452.89,37.1 453.04,37.3 453.2,37.4 453.35,38 453.5,38.1 453.65,35.1 453.8,39.7 453.96,37.8 454.11,36.4 454.26,37.1 454.41,35.9 454.57,37 454.72,39.2 454.87,38.1 455.02,39.4 455.17,36.5 455.33,36 455.48,38.2 455.63,37.1 455.78,38.2 455.94,39.5 456.09,38.3 456.24,39.7 456.39,38.5 456.54,37.6 456.7,37 456.85,36.3 457,38.2 457.15,37.6 457.31,37.4 457.46,37.2 457.61,41.3 457.76,38.8 457.91,37 458.07,39.2 458.22,37.6" stroke="#1f77b4" stroke-width="3.6" stroke-linejoin="round"/>
<path d="M287.75 229.8h0M287.91 229.8h0M288.06 229.8h0M288.21 229.8h0M288.36 225.4h0M288.52 225.2h0M288.67 225.4h0M288.82 225.4h0M288.97 194.5h0M289.12 170.1h0M289.28 156.9h0M289.43 119.3h0M289.58 101.6h0M289.73 163.5h0M289.89 110.4h0M290.04 181.2h0M290.19 123.7h0M290.34 152.4h0M290.49 192.2h0M290.65 130.3h0M290.8 114.9h0M290.95 163.5h0M291.1 139.2h0M291.26 187.8h0M291.41 125.9h0M291.56 150.2h0M291.71 119.3h0M291.86 167.9h0M292.02 169.3h0M292.17 165.1h0M292.32 131.2h0M292.47 140.7h0M292.62 127.1h0M292.78 131.6h0M292.93 137.9h0M293.08 136.4h0M293.23 141.8h0M293.39 127.9h0M293.54 152.8h0M293.69 143.2h0M293.84 134.3h0M293.99 114.8h0M294.15 145.4h0M294.3 148.5h0M294.45 141.7h0M294.6 123.2h0M294.76 136.6h0M294.91 118.3h0M295.06 153.8h0M295.21 119.7h0M295.36 120.3h0M295.52 146.5h0M295.67 128.9h0M295.82 117.1h0M295.97 128.5h0M296.13 118.5h0M296.28 104h0M296.43 125h0M296.58 130h0M296.73 134.3h0M296.89 119.7h0M297.04 127.5h0M297.19 126.7h0M297.34 125.4h0M297.5 117.7h0M297.65 133.3h0M297.8 136.9h0M297.95 144.5h0M298.1 110.8h0M298.26 120.4h0M298.41 107.1h0M298.56 120.1h0M298.71 125.9h0M298.87 114.8h0M299.02 119h0M299.17 128.5h0M299.32 124.7h0M299.47 102h0M299.63 113.3h0M299.78 112.3h0M299.93 117.5h0M300.08 120.3h0M300.23 107.1h0M300.39 114.7h0M300.54 119.4h0M300.69 131.5h0M300.84 119.6h0M301 110.7h0M301.15 103.1h0M301.3 117.7h0M301.45 100.3h0M301.6 115.6h0M301.76 109.2h0M301.91 116.1h0M302.06 111.2h0M302.21 108.9h0M302.37 112h0M302.52 113.6h0M302.67 113h0M302.82 113.7h0M302.97 118.5h0M303.13 109h0M303.28 104.1h0M303.43 100.3h0M303.58 101.8h0M303.74 103.3h0M303.89 103.4h0M304.04 108.2h0M304.19 92.5h0M304.34 111.4h0M304.5 97.8h0M304.65 110.1h0M304.8 101.2h0M304.95 115.8h0M305.11 97.1h0M305.26 103.6h0M305.41 108.3h0M305.56 91.4h0M305.71 96.8h0M305.87 101h0M306.02 105.6h0M306.17 100.9h0M306.32 101.3h0M306.48 95.6h0M306.63 109.5h0M306.78 103.4h0M306.93 102.4h0M307.08 101.9h0M307.24 106.5h0M307.39 101.6h0M307.54 98.4h0M307.69 93.5h0M307.84 89.6h0M308 101.6h0M308.15 93.4h0M308.3 98.8h0M308.45 84.2h0M308.61 96h0M308.76 92.5h0M308.91 100.3h0M309.06 99.3h0M309.21 93.3h0M309.37 96.2h0M309.52 91.9h0M309.67 102.1h0M309.82 89.6h0M309.98 97.8h0M310.13 83.2h0M310.28 93.8h0M310.43 86.1h0M310.58 99.1h0M310.74 89h0M310.89 95.7h0M311.04 93.3h0M311.19 90.3h0M311.35 91.7h0M311.5 88.4h0M311.65 85.6h0M311.8 85.8h0M311.95 89.3h0M312.11 95.5h0M312.26 92.3h0M312.41 88.9h0M312.56 98.4h0M312.72 83.5h0M312.87 88.2h0M313.02 87.9h0M313.17 81.6h0M313.32 82.7h0M313.48 84.6h0M313.63 90.4h0M313.78 83.6h0M313.93 83.1h0M314.09 88.8h0M314.24 79.1h0M314.39 81.4h0M314.54 93.1h0M314.69 82.6h0M314.85 89h0M315 77.1h0M315.15 78.4h0M315.3 101h0M315.45 85.9h0M315.61 80.9h0M315.76 82.2h0M315.91 73.5h0M316.06 76.9h0M316.22 81.5h0M316.37 77.1h0M316.52 89h0M316.67 77.7h0M316.82 74.9h0M316.98 79.4h0M317.13 81.5h0M317.28 75.3h0M317.43 68.7h0M317.59 76.4h0M317.74 82.2h0M317.89 70.2h0M318.04 85h0M318.19 73.9h0M318.35 78.5h0M318.5 71.4h0M318.65 79.1h0M318.8 69.1h0M318.96 73.4h0M319.11 82.2h0M319.26 83h0M319.41 75.4h0M319.56 68h0M319.72 72.9h0M319.87 72.9h0M320.02 74h0M320.17 69.5h0M320.33 70.8h0M320.48 71h0M320.63 76.3h0M320.78 66.6h0M320.93 65.7h0M321.09 76.9h0M321.24 61.2h0M321.39 67.7h0M321.54 88.4h0M321.7 78.5h0M321.85 67.3h0M322 67.5h0M322.15 72.2h0M322.3 77h0M322.46 74.8h0M322.61 71.4h0M322.76 70.7h0M322.91 56.6h0M323.06 59.4h0M323.22 64h0M323.37 69.7h0M323.52 64.9h0M323.67 76.7h0M323.83 66.6h0M323.98 70h0M324.13 71.9h0M324.28 72.9h0M324.43 64h0M324.59 65.6h0M324.74 65h0M324.89 62h0M325.04 68.7h0M325.2 70h0M325.35 72h0M325.5 65.9h0M325.65 61.3h0M325.8 64.8h0M325.96 61.4h0M326.11 68.5h0M326.26 65.5h0M326.41 66.5h0M326.57 68.2h0M326.72 55.8h0M326.87 59.6h0M327.02 65.8h0M327.17 65.7h0M327.33 62.7h0M327.48 68h0M327.63 60.5h0M327.78 67.1h0M327.94 63.4h0M328.09 65.8h0M328.24 63.5h0M328.39 66.7h0M328.54 67.5h0M328.7 65h0M328.85 63.7h0M329 62.1h0M329.15 60.6h0M329.31 54.9h0M329.46 57.5h0M329.61 61.4h0M329.76 57.6h0M329.91 62.8h0M330.07 54.6h0M330.22 57.9h0M330.37 64.9h0M330.52 56.8h0M330.67 56.5h0M330.83 69.4h0M330.98 62h0M331.13 60.9h0M331.28 66.1h0M331.44 62.8h0M331.59 62.2h0M331.74 56.7h0M331.89 57.4h0M332.04 48.7h0M332.2 59.6h0M332.35 53.8h0M332.5 57.6h0M332.65 56.8h0M332.81 61.9h0M332.96 64.5h0M333.11 60.2h0M333.26 54.5h0M333.41 51.4h0M333.57 54.8h0M333.72 55.1h0M333.87 59.7h0M334.02 51.1h0M334.18 51.7h0M334.33 58.2h0M334.48 56.4h0M334.63 59.6h0M334.78 50.7h0M334.94 54.4h0M335.09 56h0M335.24 54.1h0M335.39 53.9h0M335.55 56.8h0M335.7 59.6h0M335.85 59.6h0M336 61.1h0M336.15 53.3h0M336.31 47.1h0M336.46 60.6h0M336.61 54.1h0M336.76 53.1h0M336.92 57.8h0M337.07 53.6h0M337.22 58h0M337.37 50h0M337.52 56h0M337.68 53.5h0M337.83 51.4h0M337.98 55.1h0M338.13 59.7h0M338.28 55.3h0M338.44 50.8h0M338.59 53.6h0M338.74 52.4h0M338.89 56.7h0M339.05 52.5h0M339.2 50.4h0M339.35 52.7h0M339.5 46.3h0M339.65 53.3h0M339.81 56h0M339.96 57.8h0M340.11 48.5h0M340.26 52.4h0M340.42 48.7h0M340.57 50.5h0M340.72 46.5h0M340.87 47.6h0M341.02 52.9h0M341.18 50.7h0M341.33 47.9h0M341.48 55.4h0M341.63 46.6h0M341.79 47.3h0M341.94 47.9h0M342.09 51.6h0M342.24 49.9h0M342.39 54.4h0M342.55 50.5h0M342.7 52.5h0M342.85 50.2h0M343 52h0M343.16 49.4h0M343.31 46.4h0M343.46 54.3h0M343.61 47.1h0M343.76 56.2h0M343.92 56.7h0M344.07 50.1h0M344.22 49.6h0M344.37 48.2h0M344.53 54.7h0M344.68 49.6h0M344.83 49h0M344.98 45.4h0M345.13 49.5h0M345.29 47.5h0M345.44 52.1h0M345.59 60h0M345.74 50.4h0M345.89 46.7h0M346.05 51.9h0M346.2 51.4h0M346.35 47h0M346.5 43.2h0M346.66 47.5h0M346.81 47.7h0M346.96 49.6h0M347.11 45.2h0M347.26 46.8h0M347.42 43.1h0M347.57 47.3h0M347.72 51.1h0M347.87 49.9h0M348.03 51.1h0M348.18 51.9h0M348.33 44.2h0M348.48 45.6h0M348.63 51.6h0M348.79 42.6h0M348.94 47.1h0M349.09 50.6h0M349.24 46.6h0M349.4 47.9h0M349.55 49.9h0M349.7 53.3h0M349.85 47.4h0M350 46.6h0M350.16 55h0M350.31 45.7h0M350.46 45.5h0M350.61 48.6h0M350.77 46.8h0M350.92 47.9h0M351.07 49.5h0M351.22 48h0M351.37 43h0M351.53 51.1h0M351.68 46.2h0M351.83 46.3h0M351.98 48.8h0M352.14 47.9h0M352.29 50.6h0M352.44 49h0M352.59 46.5h0M352.74 45.5h0M352.9 49h0M353.05 37.7h0M353.2 47.9h0M353.35 45.9h0M353.5 46.8h0M353.66 47.3h0M353.81 42.4h0M353.96 47.4h0M354.11 42.2h0M354.27 42.7h0M354.42 48.8h0M354.57 42.9h0M354.72 47.6h0M354.87 38.1h0M355.03 46.7h0M355.18 48.2h0M355.33 50.9h0M355.48 49.1h0M355.64 47.1h0M355.79 48.2h0M355.94 48.8h0M356.09 47.3h0M356.24 45.9h0M356.4 41.3h0M356.55 49.9h0M356.7 46.7h0M356.85 47.8h0M357.01 49.2h0M357.16 48.5h0M357.31 47.5h0M357.46 43.1h0M357.61 45.5h0M357.77 46.4h0M357.92 43.3h0M358.07 44.1h0M358.22 45.5h0M358.38 43.8h0M358.53 47h0M358.68 43.1h0M358.83 43.5h0M358.98 45.8h0M359.14 47.9h0M359.29 40.6h0M359.44 44.3h0M359.59 36.5h0M359.75 46.3h0M359.9 42.2h0M360.05 45.6h0M360.2 43.8h0M360.35 42.2h0M360.51 46.5h0M360.66 44.6h0M360.81 43.9h0M360.96 44h0M361.11 42.7h0M361.27 41.5h0M361.42 42h0M361.57 43.4h0M361.72 45h0M361.88 47h0M362.03 45.9h0M362.18 45.4h0M362.33 42.2h0M362.48 44.9h0M362.64 47.1h0M362.79 42.3h0M362.94 45.9h0M363.09 45.7h0M363.25 44.3h0M363.4 42.5h0M363.55 49.8h0M363.7 46.5h0M363.85 43.2h0M364.01 44.5h0M364.16 45.7h0M364.31 44.9h0M364.46 40h0M364.62 44.6h0M364.77 41.6h0M364.92 41.4h0M365.07 44.5h0M365.22 42.2h0M365.38 44.4h0M365.53 44.8h0M365.68 46h0M365.83 41h0M365.99 44.1h0M366.14 44.5h0M366.29 45.8h0M366.44 38.6h0M366.59 41.2h0M366.75 43.3h0M366.9 44.6h0M367.05 46.6h0M367.2 42.1h0M367.36 42.1h0M367.51 46.2h0M367.66 39.9h0M367.81 40.8h0M367.96 45h0M368.12 44h0M368.27 43.6h0M368.42 42.2h0M368.57 42.9h0M368.72 46.4h0M368.88 38.9h0M369.03 41.7h0M369.18 39.4h0M369.33 39.4h0M369.49 42.8h0M369.64 41.5h0M369.79 40.5h0M369.94 40.4h0M370.09 42.6h0M370.25 43.6h0M370.4 42h0M370.55 43.9h0M370.7 43.3h0M370.86 46.7h0M371.01 41.8h0M371.16 44.3h0M371.31 43.2h0M371.46 42h0M371.62 41.1h0M371.77 37.4h0M371.92 41.3h0M372.07 45h0M372.23 41.4h0M372.38 43h0M372.53 40.7h0M372.68 43.1h0M372.83 43.1h0M372.99 42.7h0M373.14 42.9h0M373.29 45.6h0M373.44 42.9h0M373.6 41.4h0M373.75 38.6h0M373.9 42h0M374.05 42.1h0M374.2 40h0M374.36 40h0M374.51 37.6h0M374.66 39.9h0M374.81 41.3h0M374.97 38.2h0M375.12 37.8h0M375.27 42.2h0M375.42 40.8h0M375.57 44.9h0M375.73 42h0M375.88 43.1h0M376.03 41.6h0M376.18 42.2h0M376.33 41.5h0M376.49 41.4h0M376.64 40h0M376.79 40.6h0M376.94 42.4h0M377.1 43.9h0M377.25 38.4h0M377.4 38h0M377.55 42.1h0M377.7 39.9h0M377.86 44.4h0M378.01 44.5h0M378.16 41.7h0M378.31 37.9h0M378.47 43.3h0M378.62 42.9h0M378.77 37.6h0M378.92 45.1h0M379.07 39.6h0M379.23 40h0M379.38 41.5h0M379.53 40.6h0M379.68 35.4h0M379.84 43.4h0M379.99 41.7h0M380.14 41.5h0M380.29 42.4h0M380.44 43.8h0M380.6 37.6h0M380.75 40.5h0M380.9 44.7h0M381.05 42.4h0M381.21 40.1h0M381.36 40.1h0M381.51 43.9h0M381.66 41.1h0M381.81 40.3h0M381.97 40.1h0M382.12 40h0M382.27 44.7h0M382.42 37h0M382.58 40.4h0M382.73 37.1h0M382.88 34.9h0M383.03 41.1h0M383.18 43.3h0M383.34 39h0M383.49 41.1h0M383.64 41.7h0M383.79 42.9h0M383.94 37.3h0M384.1 41.6h0M384.25 43.6h0M384.4 41.6h0M384.55 43.1h0M384.71 40.4h0M384.86 41.5h0M385.01 42.8h0M385.16 39.4h0M385.31 41.9h0M385.47 39.2h0M385.62 38.1h0M385.77 41.3h0M385.92 41.9h0M386.08 40.2h0M386.23 38.8h0M386.38 40.6h0M386.53 40.3h0M386.68 40.6h0M386.84 40h0M386.99 39.3h0M387.14 42h0M387.29 41.6h0M387.45 40.6h0M387.6 42h0M387.75 40.5h0M387.9 39.8h0M388.05 41h0M388.21 42.2h0M388.36 42.7h0M388.51 37.8h0M388.66 39.7h0M388.82 43.8h0M388.97 43.4h0M389.12 38.3h0M389.27 39.2h0M389.42 42.1h0M389.58 40.3h0M389.73 45.7h0M389.88 43h0M390.03 41.8h0M390.19 47h0M390.34 45.1h0M390.49 42.3h0M390.64 41.8h0M390.79 45.3h0M390.95 43.8h0M391.1 41.4h0M391.25 45.3h0M391.4 47.3h0M391.55 44.9h0M391.71 45.6h0M391.86 42.5h0M392.01 44.7h0M392.16 46.5h0M392.32 40.4h0M392.47 45.9h0M392.62 44.1h0M392.77 43.6h0M392.92 43.4h0M393.08 44.5h0M393.23 43.7h0M393.38 44.8h0M393.53 47.3h0M393.69 45h0M393.84 44.9h0M393.99 44.8h0M394.14 44.1h0M394.29 45.5h0M394.45 41.8h0M394.6 41.3h0M394.75 48.2h0M394.9 44h0M395.06 45.3h0M395.21 48.7h0M395.36 43.1h0M395.51 44.9h0M395.66 44.4h0M395.82 44.8h0M395.97 41.6h0M396.12 41.2h0M396.27 42.9h0M396.43 42.1h0M396.58 43.5h0M396.73 43h0M396.88 44.5h0M397.03 43.1h0M397.19 44.3h0M397.34 42.3h0M397.49 41.4h0M397.64 42.3h0M397.8 40.7h0M397.95 37.9h0M398.1 46.5h0M398.25 42.6h0M398.4 43.6h0M398.56 43.4h0M398.71 44.9h0M398.86 42.4h0M399.01 42.9h0M399.16 43.5h0M399.32 42.8h0M399.47 43.4h0M399.62 46.5h0M399.77 40.4h0M399.93 42.8h0M400.08 43.9h0M400.23 41.7h0M400.38 43.4h0M400.53 46h0M400.69 40.6h0M400.84 45.1h0M400.99 42.5h0M401.14 41.9h0M401.3 39.7h0M401.45 40h0M401.6 41.7h0M401.75 43.3h0M401.9 42.7h0M402.06 40.1h0M402.21 38.9h0M402.36 41h0M402.51 43h0M402.67 40.1h0M402.82 42.5h0M402.97 42.6h0M403.12 42.3h0M403.27 40.8h0M403.43 41.3h0M403.58 40.1h0M403.73 39.5h0M403.88 40.9h0M404.04 45.7h0M404.19 44.6h0M404.34 41.4h0M404.49 41.8h0M404.64 38h0M404.8 41.7h0M404.95 41.8h0M405.1 40h0M405.25 39.7h0M405.41 41.9h0M405.56 40.7h0M405.71 43.4h0M405.86 43.1h0M406.01 39.4h0M406.17 43.8h0M406.32 39.9h0M406.47 40.3h0M406.62 40.1h0M406.77 39.9h0M406.93 40.4h0M407.08 45h0M407.23 43.1h0M407.38 42.4h0M407.54 39.9h0M407.69 43.3h0M407.84 42.6h0M407.99 42.1h0M408.14 39.4h0M408.3 44h0M408.45 43.9h0M408.6 40.7h0M408.75 45.3h0M408.91 41.3h0M409.06 42.7h0M409.21 44.6h0M409.36 42.8h0M409.51 43.8h0M409.67 42h0M409.82 41.7h0M409.97 40h0M410.12 42.5h0M410.28 42.4h0M410.43 43.5h0M410.58 42.7h0M410.73 41.1h0M410.88 45.9h0M411.04 41.9h0M411.19 43.9h0M411.34 42.9h0M411.49 42.6h0M411.65 41.9h0M411.8 42.9h0M411.95 44h0M412.1 43h0M412.25 43.5h0M412.41 43.9h0M412.56 43.4h0M412.71 42.4h0M412.86 43.6h0M413.02 43.6h0M413.17 46h0M413.32 44.2h0M413.47 47h0M413.62 43h0M413.78 45.7h0M413.93 42.2h0M414.08 39.6h0M414.23 44.9h0M414.38 42.2h0M414.54 43.6h0M414.69 45.1h0M414.84 45.5h0M414.99 43.3h0M415.15 41.9h0M415.3 43.4h0M415.45 46.2h0M415.6 45.4h0M415.75 44h0M415.91 41.5h0M416.06 43h0M416.21 42.8h0M416.36 41.3h0M416.52 43.3h0M416.67 43h0M416.82 43h0M416.97 45.3h0M417.12 41.7h0M417.28 41.7h0M417.43 40.7h0M417.58 43.9h0M417.73 43.1h0M417.89 40.3h0M418.04 41.1h0M418.19 39.4h0M418.34 42.7h0M418.49 41h0M418.65 42.2h0M418.8 40.6h0M418.95 41.7h0M419.1 40.1h0M419.26 39.2h0M419.41 39.7h0M419.56 43.4h0M419.71 39.2h0M419.86 39.9h0M420.02 42.1h0M420.17 41.8h0M420.32 40.5h0M420.47 39.6h0M420.63 41.1h0M420.78 42.9h0M420.93 40h0M421.08 40.2h0M421.23 36.8h0M421.39 42.4h0M421.54 36.7h0M421.69 37.9h0M421.84 40h0M421.99 38h0M422.15 40.3h0M422.3 39h0M422.45 41.5h0M422.6 40.3h0M422.76 41.9h0M422.91 42.8h0M423.06 40.8h0M423.21 41.4h0M423.36 39.6h0M423.52 38.6h0M423.67 40.7h0M423.82 40.4h0M423.97 40.2h0M424.13 42.9h0M424.28 40.1h0M424.43 40.4h0M424.58 40.5h0M424.73 42h0M424.89 43.3h0M425.04 40.8h0M425.19 40h0M425.34 38.5h0M425.5 38.8h0M425.65 38.3h0M425.8 39.9h0M425.95 38.7h0M426.1 40.6h0M426.26 39.4h0M426.41 39h0M426.56 36.4h0M426.71 39.9h0M426.87 42h0M427.02 38.2h0M427.17 41.2h0M427.32 40.2h0M427.47 40.4h0M427.63 41.3h0M427.78 38h0M427.93 39h0M428.08 40.7h0M428.24 39.7h0M428.39 40.3h0M428.54 38.8h0M428.69 40.2h0M428.84 40.7h0M429 40.4h0M429.15 40.1h0M429.3 39h0M429.45 40.7h0M429.6 39.5h0M429.76 38.7h0M429.91 36h0M430.06 38h0M430.21 43.3h0M430.37 39.8h0M430.52 39.6h0M430.67 38.5h0M430.82 36.7h0M430.97 37.8h0M431.13 42h0M431.28 38.3h0M431.43 38.6h0M431.58 38.1h0M431.74 36.7h0M431.89 40.1h0M432.04 37h0M432.19 40.7h0M432.34 38.3h0M432.5 37.8h0M432.65 35.2h0M432.8 39.2h0M432.95 40.5h0M433.11 37.2h0M433.26 39h0M433.41 35.9h0M433.56 39h0M433.71 39.1h0M433.87 36.2h0M434.02 37.7h0M434.17 36.4h0M434.32 39.7h0M434.48 35.5h0M434.63 38.4h0M434.78 36.5h0M434.93 38.9h0M435.08 39.6h0M435.24 37.8h0M435.39 37.2h0M435.54 35.2h0M435.69 36.8h0M435.85 36.3h0M436 36.3h0M436.15 33h0M436.3 38.2h0M436.45 35.4h0M436.61 37.2h0M436.76 36.6h0M436.91 37.7h0M437.06 35.4h0M437.21 38.6h0M437.37 38.7h0M437.52 37.2h0M437.67 38.5h0M437.82 36h0M437.98 35.8h0M438.13 38.1h0M438.28 36.1h0M438.43 38.1h0M438.58 37.3h0M438.74 37.3h0M438.89 35h0M439.04 37.5h0M439.19 38.8h0M439.35 38.9h0M439.5 36.3h0M439.65 40.1h0M439.8 38.7h0M439.95 38.6h0M440.11 41.4h0M440.26 38.9h0M440.41 37.1h0M440.56 38.1h0M440.72 39.7h0M440.87 37.6h0M441.02 37.9h0M441.17 35.9h0M441.32 39.5h0M441.48 39h0M441.63 38.4h0M441.78 38.6h0M441.93 38.2h0M442.09 38.4h0M442.24 39.1h0M442.39 40.2h0M442.54 38.7h0M442.69 39.7h0M442.85 39.1h0M443 38.4h0M443.15 36.9h0M443.3 36.3h0M443.46 38.6h0M443.61 36.8h0M443.76 36.1h0M443.91 37h0M444.06 38.9h0M444.22 39.5h0M444.37 35.6h0M444.52 35.3h0M444.67 36h0M444.82 37.6h0M444.98 34.4h0M445.13 34.6h0M445.28 36.1h0M445.43 36.2h0M445.59 38.4h0M445.74 34.9h0M445.89 37.8h0M446.04 34.9h0M446.19 34.8h0M446.35 35.6h0M446.5 33.8h0M446.65 36.2h0M446.8 35.1h0M446.96 34.8h0M447.11 35.5h0M447.26 36.4h0M447.41 34.4h0M447.56 35.5h0M447.72 36.3h0M447.87 36.3h0M448.02 36h0M448.17 33.3h0M448.33 36.1h0M448.48 36.6h0M448.63 37.7h0M448.78 37.9h0M448.93 38.8h0M449.09 36.2h0M449.24 36.5h0M449.39 37.9h0M449.54 38.5h0M449.7 37.1h0M449.85 37.4h0M450 38.4h0M450.15 36.5h0M450.3 36.7h0M450.46 37h0M450.61 36.1h0M450.76 37.9h0M450.91 35.4h0M451.07 38.4h0M451.22 36.6h0M451.37 36.4h0M451.52 37.6h0M451.67 36.9h0M451.83 38.9h0M451.98 39.2h0M452.13 37.6h0M452.28 38.3h0M452.43 36.7h0M452.59 37.4h0M452.74 36.7h0M452.89 37.1h0M453.04 37.3h0M453.2 37.4h0M453.35 38h0M453.5 38.1h0M453.65 35.1h0M453.8 39.7h0M453.96 37.8h0M454.11 36.4h0M454.26 37.1h0M454.41 35.9h0M454.57 37h0M454.72 39.2h0M454.87 38.1h0M455.02 39.4h0M455.17 36.5h0M455.33 36h0M455.48 38.2h0M455.63 37.1h0M455.78 38.2h0M455.94 39.5h0M456.09 38.3h0M456.24 39.7h0M456.39 38.5h0M456.54 37.6h0M456.7 37h0M456.85 36.3h0M457 38.2h0M457.15 37.6h0M457.31 37.4h0M457.46 37.2h0M457.61 41.3h0M457.76 38.8h0M457.91 37h0M458.07 39.2h0M458.22 37.6h0" stroke="#1f77b4" stroke-width="6.9" stroke-linecap="round"/>
<polyline points="287.75,228.6 287.91,228.1 288.06,226.8 288.21,224.6 288.36,221 288.52,215.5 288.67,207.9 288.82,198.2 288.97,186.9 289.12,175.1 289.28,164 289.43,154.9 289.58,148.6 289.73,145.2 289.89,144.2 290.04,144.8 290.19,146 290.34,147.2 290.49,147.9 290.65,148.2 290.8,148.3 290.95,148.4 291.1,148.5 291.26,148.6 291.41,148.8 291.56,149.1 291.71,149.2 291.86,149 292.02,148.2 292.17,146.7 292.32,144.5 292.47,142.2 292.62,140.1 292.78,138.5 292.93,137.7 293.08,137.4 293.23,137.5 293.39,137.6 293.54,137.7 293.69,137.5 293.84,137.2 293.99,136.9 294.15,136.5 294.3,135.9 294.45,135.2 294.6,134.4 294.76,133.5 294.91,132.5 295.06,131.6 295.21,130.6 295.36,129.5 295.52,128.3 295.67,126.8 295.82,125.4 295.97,124.2 296.13,123.4 296.28,123.1 296.43,123.4 296.58,124 296.73,124.7 296.89,125.4 297.04,126 297.19,126.5 297.34,126.8 297.5,127.1 297.65,127 297.8,126.4 297.95,125.3 298.1,123.9 298.26,122.4 298.41,121.1 298.56,120.2 298.71,119.6 298.87,119.1 299.02,118.7 299.17,118.1 299.32,117.3 299.47,116.5 299.63,115.8 299.78,115.5 299.93,115.4 300.08,115.7 300.23,116.1 300.39,116.4 300.54,116.5 300.69,116.1 300.84,115.4 301,114.3 301.15,113.2 301.3,112.3 301.45,111.7 301.6,111.4 301.76,111.4 301.91,111.5 302.06,111.7 302.21,111.9 302.37,112 302.52,112 302.67,111.7 302.82,111 302.97,109.9 303.13,108.6 303.28,107.2 303.43,105.9 303.58,104.8 303.74,104.1 303.89,103.7 304.04,103.5 304.19,103.6 304.34,103.8 304.5,104.1 304.65,104.2 304.8,104.2 304.95,103.9 305.11,103.4 305.26,102.7 305.41,102 305.56,101.4 305.71,101.1 305.87,101 306.02,101.1 306.17,101.4 306.32,101.7 306.48,102.1 306.63,102.3 306.78,102.3 306.93,102.1 307.08,101.6 307.24,100.9 307.39,99.8 307.54,98.7 307.69,97.5 307.84,96.5 308,95.7 308.15,95.2 308.3,94.8 308.45,94.7 308.61,94.8 308.76,95 308.91,95.3 309.06,95.4 309.21,95.4 309.37,95.2 309.52,94.8 309.67,94.2 309.82,93.6 309.98,93 310.13,92.5 310.28,92.2 310.43,92 310.58,92 310.74,91.9 310.89,91.8 311.04,91.4 311.19,91 311.35,90.5 311.5,90.1 311.65,89.8 311.8,89.8 311.95,90 312.11,90.2 312.26,90.2 312.41,89.9 312.56,89.4 312.72,88.6 312.87,87.8 313.02,86.9 313.17,86.2 313.32,85.7 313.48,85.4 313.63,85.1 313.78,85 313.93,84.9 314.09,84.8 314.24,84.8 314.39,84.8 314.54,84.9 314.69,84.9 314.85,84.9 315,84.9 315.15,84.7 315.3,84.2 315.45,83.6 315.61,82.7 315.76,81.8 315.91,81 316.06,80.4 316.22,80 316.37,79.7 316.52,79.4 316.67,79.1 316.82,78.6 316.98,78 317.13,77.5 317.28,77 317.43,76.7 317.59,76.6 317.74,76.5 317.89,76.5 318.04,76.4 318.19,76.3 318.35,76.1 318.5,75.9 318.65,75.8 318.8,75.8 318.96,75.8 319.11,75.6 319.26,75.3 319.41,74.8 319.56,74.2 319.72,73.5 319.87,72.9 320.02,72.3 320.17,71.9 320.33,71.5 320.48,71.2 320.63,70.9 320.78,70.8 320.93,70.9 321.09,71.2 321.24,71.6 321.39,72.1 321.54,72.6 321.7,72.8 321.85,72.8 322,72.5 322.15,72 322.3,71.3 322.46,70.3 322.61,69.2 322.76,68.1 322.91,67.2 323.06,66.7 323.22,66.7 323.37,67.1 323.52,67.7 323.67,68.3 323.83,68.7 323.98,68.9 324.13,68.7 324.28,68.3 324.43,67.8 324.59,67.4 324.74,67 324.89,66.9 325.04,66.8 325.2,66.7 325.35,66.5 325.5,66.2 325.65,65.8 325.8,65.5 325.96,65.2 326.11,64.9 326.26,64.6 326.41,64.3 326.57,64 326.72,63.8 326.87,63.7 327.02,63.7 327.17,63.9 327.33,64.1 327.48,64.3 327.63,64.5 327.78,64.7 327.94,64.8 328.09,64.9 328.24,64.8 328.39,64.6 328.54,64.2 328.7,63.6 328.85,62.8 329,61.9 329.15,61 329.31,60.2 329.46,59.7 329.61,59.4 329.76,59.2 329.91,59.3 330.07,59.4 330.22,59.7 330.37,60.1 330.52,60.6 330.67,61.1 330.83,61.5 330.98,61.8 331.13,61.8 331.28,61.4 331.44,60.7 331.59,59.8 331.74,58.9 331.89,58 332.04,57.5 332.2,57.2 332.35,57.3 332.5,57.6 332.65,57.8 332.81,58 332.96,57.9 333.11,57.5 333.26,57 333.41,56.4 333.57,55.9 333.72,55.5 333.87,55.3 334.02,55.2 334.18,55.2 334.33,55.2 334.48,55.3 334.63,55.3 334.78,55.3 334.94,55.3 335.09,55.5 335.24,55.7 335.39,56 335.55,56.3 335.7,56.5 335.85,56.5 336,56.3 336.15,55.9 336.31,55.6 336.46,55.3 336.61,55.1 336.76,55 336.92,54.8 337.07,54.7 337.22,54.6 337.37,54.5 337.52,54.4 337.68,54.4 337.83,54.4 337.98,54.4 338.13,54.4 338.28,54.2 338.44,54 338.59,53.7 338.74,53.4 338.89,53 339.05,52.7 339.2,52.5 339.35,52.3 339.5,52.3 339.65,52.3 339.81,52.2 339.96,52 340.11,51.6 340.26,51.2 340.42,50.7 340.57,50.3 340.72,50 340.87,49.9 341.02,49.8 341.18,49.9 341.33,49.8 341.48,49.8 341.63,49.8 341.79,49.9 341.94,50.1 342.09,50.3 342.24,50.6 342.39,50.8 342.55,51 342.7,51 342.85,50.9 343,50.9 343.16,50.9 343.31,51 343.46,51.2 343.61,51.4 343.76,51.5 343.92,51.6 344.07,51.4 344.22,51.1 344.37,50.8 344.53,50.4 344.68,50.1 344.83,49.9 344.98,49.9 345.13,50.1 345.29,50.4 345.44,50.6 345.59,50.7 345.74,50.6 345.89,50.2 346.05,49.7 346.2,49.1 346.35,48.4 346.5,47.9 346.66,47.5 346.81,47.3 346.96,47.1 347.11,47.1 347.26,47.3 347.42,47.5 347.57,47.9 347.72,48.2 347.87,48.4 348.03,48.5 348.18,48.4 348.33,48.2 348.48,47.9 348.63,47.8 348.79,47.7 348.94,47.8 349.09,48 349.24,48.3 349.4,48.6 349.55,48.8 349.7,49 349.85,49 350,48.8 350.16,48.6 350.31,48.4 350.46,48.1 350.61,47.9 350.77,47.8 350.92,47.7 351.07,47.6 351.22,47.6 351.37,47.6 351.53,47.6 351.68,47.6 351.83,47.7 351.98,47.8 352.14,47.8 352.29,47.6 352.44,47.4 352.59,47 352.74,46.6 352.9,46.2 353.05,45.9 353.2,45.7 353.35,45.5 353.5,45.4 353.66,45.3 353.81,45.2 353.96,45 354.11,44.9 354.27,44.9 354.42,44.9 354.57,45 354.72,45.3 354.87,45.7 355.03,46.2 355.18,46.8 355.33,47.2 355.48,47.5 355.64,47.6 355.79,47.5 355.94,47.4 356.09,47.2 356.24,47 356.4,46.9 356.55,47 356.7,47 356.85,47.1 357.01,47 357.16,46.8 357.31,46.5 357.46,46.1 357.61,45.7 357.77,45.3 357.92,45.1 358.07,44.9 358.22,44.8 358.38,44.7 358.53,44.6 358.68,44.5 358.83,44.4 358.98,44.2 359.14,43.9 359.29,43.6 359.44,43.4 359.59,43.3 359.75,43.3 359.9,43.4 360.05,43.6 360.2,43.8 360.35,43.9 360.51,43.9 360.66,43.9 360.81,43.8 360.96,43.6 361.11,43.6 361.27,43.6 361.42,43.7 361.57,44 361.72,44.3 361.88,44.5 362.03,44.7 362.18,44.8 362.33,44.8 362.48,44.8 362.64,44.9 362.79,44.9 362.94,45 363.09,45.1 363.25,45.1 363.4,45.2 363.55,45.2 363.7,45.1 363.85,44.9 364.01,44.6 364.16,44.2 364.31,43.9 364.46,43.5 364.62,43.3 364.77,43.2 364.92,43.2 365.07,43.3 365.22,43.4 365.38,43.6 365.53,43.7 365.68,43.7 365.83,43.6 365.99,43.5 366.14,43.4 366.29,43.2 366.44,43.2 366.59,43.1 366.75,43.2 366.9,43.3 367.05,43.3 367.2,43.3 367.36,43.2 367.51,43.2 367.66,43.1 367.81,43.1 367.96,43 368.12,43 368.27,43 368.42,42.8 368.57,42.6 368.72,42.3 368.88,41.9 369.03,41.6 369.18,41.3 369.33,41.2 369.49,41.2 369.64,41.3 369.79,41.6 369.94,41.8 370.09,42.2 370.25,42.5 370.4,42.8 370.55,43.1 370.7,43.3 370.86,43.3 371.01,43.1 371.16,42.9 371.31,42.5 371.46,42.2 371.62,41.9 371.77,41.8 371.92,41.8 372.07,41.9 372.23,42 372.38,42.2 372.53,42.4 372.68,42.6 372.83,42.7 372.99,42.7 373.14,42.7 373.29,42.5 373.44,42.2 373.6,41.9 373.75,41.5 373.9,41.1 374.05,40.7 374.2,40.4 374.36,40.2 374.51,40 374.66,39.9 374.81,40 374.97,40.2 375.12,40.5 375.27,40.9 375.42,41.3 375.57,41.7 375.73,41.9 375.88,42 376.03,41.9 376.18,41.8 376.33,41.6 376.49,41.5 376.64,41.3 376.79,41.2 376.94,41.1 377.1,41.1 377.25,41.1 377.4,41.1 377.55,41.3 377.7,41.4 377.86,41.6 378.01,41.7 378.16,41.7 378.31,41.6 378.47,41.5 378.62,41.4 378.77,41.2 378.92,41 379.07,40.9 379.23,40.8 379.38,40.7 379.53,40.7 379.68,40.7 379.84,40.9 379.99,41.1 380.14,41.2 380.29,41.4 380.44,41.5 380.6,41.5 380.75,41.5 380.9,41.5 381.05,41.5 381.21,41.5 381.36,41.4 381.51,41.3 381.66,41.1 381.81,40.9 381.97,40.7 382.12,40.4 382.27,40.1 382.42,39.8 382.58,39.6 382.73,39.5 382.88,39.6 383.03,39.8 383.18,40.1 383.34,40.4 383.49,40.7 383.64,40.9 383.79,41.1 383.94,41.2 384.1,41.4 384.25,41.5 384.4,41.6 384.55,41.6 384.71,41.5 384.86,41.3 385.01,41.1 385.16,40.9 385.31,40.7 385.47,40.5 385.62,40.4 385.77,40.3 385.92,40.3 386.08,40.3 386.23,40.3 386.38,40.3 386.53,40.3 386.68,40.4 386.84,40.5 386.99,40.6 387.14,40.7 387.29,40.8 387.45,40.9 387.6,41 387.75,41 387.9,41 388.05,41 388.21,41 388.36,41 388.51,41 388.66,41 388.82,41.1 388.97,41.1 389.12,41.3 389.27,41.5 389.42,41.8 389.58,42.2 389.73,42.6 389.88,43 390.03,43.3 390.19,43.6 390.34,43.7 390.49,43.8 390.64,43.8 390.79,43.9 390.95,44.1 391.1,44.2 391.25,44.4 391.4,44.5 391.55,44.6 391.71,44.6 391.86,44.5 392.01,44.4 392.16,44.3 392.32,44.2 392.47,44.1 392.62,44.1 392.77,44.2 392.92,44.3 393.08,44.4 393.23,44.6 393.38,44.7 393.53,44.8 393.69,44.8 393.84,44.8 393.99,44.6 394.14,44.5 394.29,44.4 394.45,44.4 394.6,44.5 394.75,44.7 394.9,44.8 395.06,44.9 395.21,44.9 395.36,44.7 395.51,44.4 395.66,44.1 395.82,43.7 395.97,43.4 396.12,43.1 396.27,43 396.43,43 396.58,43 396.73,43 396.88,43 397.03,42.9 397.19,42.8 397.34,42.6 397.49,42.4 397.64,42.3 397.8,42.3 397.95,42.4 398.1,42.6 398.25,42.8 398.4,43 398.56,43.2 398.71,43.3 398.86,43.3 399.01,43.4 399.16,43.3 399.32,43.3 399.47,43.3 399.62,43.2 399.77,43.2 399.93,43.2 400.08,43.1 400.23,43.1 400.38,43.1 400.53,43 400.69,42.8 400.84,42.6 400.99,42.3 401.14,42 401.3,41.8 401.45,41.6 401.6,41.5 401.75,41.4 401.9,41.3 402.06,41.3 402.21,41.3 402.36,41.3 402.51,41.4 402.67,41.5 402.82,41.5 402.97,41.5 403.12,41.5 403.27,41.5 403.43,41.5 403.58,41.5 403.73,41.6 403.88,41.8 404.04,41.8 404.19,41.8 404.34,41.7 404.49,41.5 404.64,41.3 404.8,41.1 404.95,41.1 405.1,41.1 405.25,41.1 405.41,41.3 405.56,41.4 405.71,41.4 405.86,41.5 406.01,41.4 406.17,41.3 406.32,41.2 406.47,41.2 406.62,41.2 406.77,41.3 406.93,41.5 407.08,41.8 407.23,41.9 407.38,42.1 407.54,42.1 407.69,42.1 407.84,42.2 407.99,42.2 408.14,42.3 408.3,42.4 408.45,42.6 408.6,42.7 408.75,42.8 408.91,42.9 409.06,42.9 409.21,42.8 409.36,42.7 409.51,42.6 409.67,42.5 409.82,42.3 409.97,42.3 410.12,42.3 410.28,42.4 410.43,42.6 410.58,42.7 410.73,42.8 410.88,42.9 411.04,43 411.19,43 411.34,43 411.49,43 411.65,43 411.8,43.1 411.95,43.1 412.1,43.2 412.25,43.3 412.41,43.4 412.56,43.6 412.71,43.7 412.86,43.9 413.02,44.1 413.17,44.2 413.32,44.3 413.47,44.2 413.62,44 413.78,43.8 413.93,43.6 414.08,43.4 414.23,43.4 414.38,43.5 414.54,43.6 414.69,43.7 414.84,43.8 414.99,43.9 415.15,43.9 415.3,43.9 415.45,43.9 415.6,43.7 415.75,43.5 415.91,43.3 416.06,43.1 416.21,43 416.36,42.9 416.52,42.9 416.67,42.9 416.82,42.8 416.97,42.7 417.12,42.6 417.28,42.4 417.43,42.2 417.58,42 417.73,41.8 417.89,41.6 418.04,41.5 418.19,41.4 418.34,41.3 418.49,41.2 418.65,41.1 418.8,41 418.95,40.9 419.1,40.8 419.26,40.7 419.41,40.7 419.56,40.7 419.71,40.7 419.86,40.8 420.02,40.8 420.17,40.9 420.32,40.8 420.47,40.8 420.63,40.6 420.78,40.4 420.93,40.2 421.08,39.9 421.23,39.6 421.39,39.4 421.54,39.3 421.69,39.2 421.84,39.3 421.99,39.5 422.15,39.7 422.3,40.1 422.45,40.4 422.6,40.6 422.76,40.8 422.91,40.9 423.06,40.8 423.21,40.7 423.36,40.6 423.52,40.5 423.67,40.5 423.82,40.6 423.97,40.7 424.13,40.8 424.28,40.9 424.43,41 424.58,41 424.73,40.9 424.89,40.7 425.04,40.5 425.19,40.2 425.34,39.9 425.5,39.6 425.65,39.4 425.8,39.3 425.95,39.3 426.1,39.2 426.26,39.3 426.41,39.3 426.56,39.4 426.71,39.5 426.87,39.7 427.02,39.8 427.17,39.9 427.32,40 427.47,40 427.63,40 427.78,39.9 427.93,39.9 428.08,39.8 428.24,39.9 428.39,39.9 428.54,39.9 428.69,39.9 428.84,39.9 429,39.9 429.15,39.8 429.3,39.6 429.45,39.5 429.6,39.3 429.76,39.2 429.91,39.2 430.06,39.2 430.21,39.2 430.37,39.2 430.52,39.1 430.67,39 430.82,38.9 430.97,38.9 431.13,38.8 431.28,38.7 431.43,38.6 431.58,38.6 431.74,38.5 431.89,38.4 432.04,38.4 432.19,38.4 432.34,38.3 432.5,38.3 432.65,38.2 432.8,38.2 432.95,38.2 433.11,38.1 433.26,38.1 433.41,38 433.56,37.9 433.71,37.8 433.87,37.7 434.02,37.6 434.17,37.6 434.32,37.6 434.48,37.6 434.63,37.7 434.78,37.7 434.93,37.6 435.08,37.5 435.24,37.4 435.39,37.1 435.54,36.8 435.69,36.6 435.85,36.4 436,36.3 436.15,36.2 436.3,36.3 436.45,36.4 436.61,36.6 436.76,36.8 436.91,37 437.06,37.2 437.21,37.3 437.37,37.3 437.52,37.3 437.67,37.3 437.82,37.2 437.98,37.1 438.13,37.1 438.28,37.1 438.43,37.1 438.58,37.2 438.74,37.3 438.89,37.4 439.04,37.6 439.19,37.8 439.35,38.1 439.5,38.3 439.65,38.5 439.8,38.7 439.95,38.8 440.11,38.8 440.26,38.7 440.41,38.6 440.56,38.5 440.72,38.4 440.87,38.3 441.02,38.2 441.17,38.2 441.32,38.3 441.48,38.4 441.63,38.5 441.78,38.6 441.93,38.7 442.09,38.8 442.24,38.9 442.39,38.9 442.54,38.8 442.69,38.7 442.85,38.4 443,38.2 443.15,37.9 443.3,37.7 443.46,37.5 443.61,37.4 443.76,37.3 443.91,37.3 444.06,37.2 444.22,37 444.37,36.8 444.52,36.6 444.67,36.3 444.82,36.2 444.98,36.1 445.13,36 445.28,36 445.43,36.1 445.59,36.1 445.74,36 445.89,35.9 446.04,35.7 446.19,35.6 446.35,35.4 446.5,35.3 446.65,35.3 446.8,35.3 446.96,35.3 447.11,35.4 447.26,35.5 447.41,35.5 447.56,35.6 447.72,35.6 447.87,35.7 448.02,35.9 448.17,36 448.33,36.3 448.48,36.5 448.63,36.8 448.78,37 448.93,37.2 449.09,37.3 449.24,37.4 449.39,37.4 449.54,37.4 449.7,37.4 449.85,37.4 450,37.3 450.15,37.2 450.3,37.1 450.46,37 450.61,36.9 450.76,36.9 450.91,37 451.07,37 451.22,37.1 451.37,37.3 451.52,37.4 451.67,37.6 451.83,37.7 451.98,37.7 452.13,37.7 452.28,37.7 452.43,37.6 452.59,37.5 452.74,37.4 452.89,37.3 453.04,37.4 453.2,37.4 453.35,37.4 453.5,37.4 453.65,37.4 453.8,37.4 453.96,37.4 454.11,37.3 454.26,37.4 454.41,37.4 454.57,37.5 454.72,37.6 454.87,37.6 455.02,37.7 455.17,37.7 455.33,37.7 455.48,37.8 455.63,37.9 455.78,38.1 455.94,38.2 456.09,38.2 456.24,38.2 456.39,38.1 456.54,37.9 456.7,37.8 456.85,37.8 457,37.8 457.15,37.9 457.31,38 457.46,38.1 457.61,38.3 457.76,38.3 457.91,38.3 458.07,38.3 458.22,38.3" stroke="#ff7f0e" stroke-width="2.5" stroke-dasharray="2.4 3.2" stroke-linejoin="round"/>
</g>
<rect x="307.6" y="25.2" width="206.15" height="214.20" fill="none" stroke="#000" stroke-width="1.2"/>
<line x1="316.0" y1="239.4" x2="316.0" y2="243.8" stroke="#000" stroke-width="1.2"/>
<text transform="translate(315.7,259.3) scale(1.116,1)" text-anchor="middle" font-size="14.7">0</text>
<line x1="399.7" y1="239.4" x2="399.7" y2="243.8" stroke="#000" stroke-width="1.2"/>
<text transform="translate(399.4,259.3) scale(1.116,1)" text-anchor="middle" font-size="14.7">500</text>
<line x1="483.4" y1="239.4" x2="483.4" y2="243.8" stroke="#000" stroke-width="1.2"/>
<text transform="translate(483.1,259.3) scale(1.116,1)" text-anchor="middle" font-size="14.7">1000</text>
<line x1="302.1" y1="229.8" x2="307.6" y2="229.8" stroke="#000" stroke-width="1.2"/>
<text transform="translate(296.6,235.0) scale(1.116,1)" text-anchor="end" font-size="14.7">0.0</text>
<line x1="302.1" y1="185.6" x2="307.6" y2="185.6" stroke="#000" stroke-width="1.2"/>
<text transform="translate(296.6,190.8) scale(1.116,1)" text-anchor="end" font-size="14.7">0.2</text>
<line x1="302.1" y1="141.4" x2="307.6" y2="141.4" stroke="#000" stroke-width="1.2"/>
<text transform="translate(296.6,146.6) scale(1.116,1)" text-anchor="end" font-size="14.7">0.4</text>
<line x1="302.1" y1="97.2" x2="307.6" y2="97.2" stroke="#000" stroke-width="1.2"/>
<text transform="translate(296.6,102.4) scale(1.116,1)" text-anchor="end" font-size="14.7">0.6</text>
<line x1="302.1" y1="52.9" x2="307.6" y2="52.9" stroke="#000" stroke-width="1.2"/>
<text transform="translate(296.6,58.1) scale(1.116,1)" text-anchor="end" font-size="14.7">0.8</text>
<text transform="translate(409.9,17.2) scale(1.205,1)" text-anchor="middle" font-size="15.1">metrics/precision(B)</text>
<rect x="390.2" y="110.3" width="43.60" height="29.40" fill="#fff" stroke="#8c8c8c" stroke-width="1"/>
<text transform="translate(411.9,129.8) scale(1.06,1)" text-anchor="middle" font-size="14" stroke-width="0.1" font-family="'Liberation Sans',sans-serif">B</text>
<g transform="scale(1.1,1)" fill="none">
<polyline points="46.09,307.7 46.21,311.3 46.33,330.2 46.45,383.2 46.57,411.5 46.68,423.8 46.8,444.1 46.92,452.9 47.04,460.1 47.16,467.4 47.28,471 47.4,474.6 47.52,478.3 47.63,481.2 47.75,484.1 47.87,486.3 47.99,486 48.11,487.7 48.23,487 48.35,489 48.47,489.4 48.58,488.2 48.7,489.9 48.82,491.5 48.94,491.6 49.06,491.1 49.18,489.9 49.3,492.8 49.42,493 49.53,491.9 49.65,494.3 49.77,493.9 49.89,492.8 50.01,493.4 50.13,494.2 50.25,493.7 50.37,497.8 50.48,493.7 50.6,496.1 50.72,497 50.84,495.1 50.96,494.7 51.08,496.1 51.2,497 51.32,495.9 51.43,496.1 51.55,494.6 51.67,495.4 51.79,496.1 51.91,495.2 52.03,496.7 52.15,497.5 52.27,496 52.38,496.1 52.5,497 52.62,497.7 52.74,496.7 52.86,499.7 52.98,496.4 53.1,496.7 53.21,499 53.33,497.3 53.45,498.4 53.57,496.7 53.69,499.7 53.81,498.6 53.93,497 54.05,496.6 54.16,500.1 54.28,498.4 54.4,497.6 54.52,498.7 54.64,496.5 54.76,499.4 54.88,497.9 55,499.4 55.11,496.9 55.23,498.5 55.35,498.9 55.47,500.3 55.59,496.9 55.71,497.9 55.83,498 55.95,497.6 56.06,498.5 56.18,499.5 56.3,499.7 56.42,499.7 56.54,497.6 56.66,500.5 56.78,499.6 56.9,499.4 57.01,498.9 57.13,498.6 57.25,500.5 57.37,501 57.49,499.3 57.61,498.2 57.73,498.7 57.85,499.3 57.96,499.8 58.08,499.3 58.2,499.8 58.32,498.8 58.44,500.4 58.56,499.6 58.68,499.8 58.8,499.2 58.91,499.6 59.03,497.4 59.15,498.4 59.27,498.4 59.39,501.8 59.51,500.2 59.63,500.4 59.75,499.4 59.86,502 59.98,498.8 60.1,498.9 60.22,501.1 60.34,500.8 60.46,500.7 60.58,499.9 60.7,499.4 60.81,498.1 60.93,500.1 61.05,499.2 61.17,499.8 61.29,498.3 61.41,499.2 61.53,498.6 61.64,500.8 61.76,499.9 61.88,500.4 62,498.3 62.12,499 62.24,499.8 62.36,499.9 62.48,499 62.59,500 62.71,500.2 62.83,498.9 62.95,497.1 63.07,499.4 63.19,499.7 63.31,500.2 63.43,500.3 63.54,498.6 63.66,498.3 63.78,499 63.9,498.7 64.02,498.9 64.14,498.9 64.26,500.4 64.38,499.5 64.49,499 64.61,499.8 64.73,499.5 64.85,499.9 64.97,499.5 65.09,498.5 65.21,499.6 65.33,499.4 65.44,498.7 65.56,498.8 65.68,498 65.8,501.2 65.92,498.7 66.04,499.9 66.16,499.4 66.28,498.8 66.39,498.6 66.51,498.7 66.63,499.4 66.75,498.2 66.87,499.8 66.99,499.7 67.11,498.9 67.23,500 67.34,497.8 67.46,498.7 67.58,497.8 67.7,499.6 67.82,499.9 67.94,499.4 68.06,498.9 68.18,500 68.29,499.2 68.41,499.5 68.53,498.2 68.65,500 68.77,498.6 68.89,499.9 69.01,500.2 69.13,499.9 69.24,500.3 69.36,499.2 69.48,498.5 69.6,499.1 69.72,498.7 69.84,497.9 69.96,499 70.08,499 70.19,499.3 70.31,500.3 70.43,498.4 70.55,500.4 70.67,498.5 70.79,498.9 70.91,498 71.02,498.9 71.14,499.5 71.26,498.6 71.38,499.3 71.5,499 71.62,498.8 71.74,498.9 71.86,499 71.97,499.5 72.09,499 72.21,500.5 72.33,499 72.45,499.8 72.57,498.1 72.69,498 72.81,500.5 72.92,498.9 73.04,499.1 73.16,499.9 73.28,498.7 73.4,499.4 73.52,500.4 73.64,499.3 73.76,499.2 73.87,499 73.99,500 74.11,498.6 74.23,498.5 74.35,499.9 74.47,499.5 74.59,499.1 74.71,499.4 74.82,497.7 74.94,498.8 75.06,499.6 75.18,499.4 75.3,498.8 75.42,497.1 75.54,498.9 75.66,498.6 75.77,498.3 75.89,498.7 76.01,497 76.13,499 76.25,498 76.37,498.4 76.49,498.1 76.61,499.3 76.72,497.2 76.84,498.6 76.96,498.4 77.08,499.1 77.2,499 77.32,498.1 77.44,497.8 77.56,497.9 77.67,497.6 77.79,498 77.91,498.4 78.03,497.9 78.15,498 78.27,498.5 78.39,498 78.51,497.6 78.62,498.3 78.74,498.7 78.86,498 78.98,497.1 79.1,498.6 79.22,498.5 79.34,498.5 79.45,497.6 79.57,499.7 79.69,498.1 79.81,497.6 79.93,498.9 80.05,497.4 80.17,498 80.29,498.7 80.4,498.2 80.52,499.4 80.64,498.7 80.76,497.1 80.88,498.9 81,497.1 81.12,498.4 81.24,497.6 81.35,498.3 81.47,499.8 81.59,498.7 81.71,498.2 81.83,499.1 81.95,499.2 82.07,498 82.19,498.7 82.3,499.4 82.42,498.7 82.54,497.7 82.66,498.6 82.78,497.6 82.9,497.3 83.02,498.2 83.14,499 83.25,499.1 83.37,498.3 83.49,497.7 83.61,498 83.73,497.8 83.85,498.5 83.97,498 84.09,498.5 84.2,498.4 84.32,499 84.44,499.1 84.56,498.4 84.68,498.7 84.8,498.6 84.92,497.5 85.04,498 85.15,496 85.27,497.3 85.39,498.2 85.51,497.3 85.63,497.5 85.75,498.1 85.87,496.9 85.99,498.1 86.1,499.5 86.22,497 86.34,497.9 86.46,496.5 86.58,497.9 86.7,498.2 86.82,496.4 86.94,498 87.05,497.2 87.17,496.4 87.29,497.2 87.41,497.3 87.53,497.2 87.65,496.7 87.77,497.8 87.89,496.9 88,496.9 88.12,495.8 88.24,497.5 88.36,497.8 88.48,496.8 88.6,497.5 88.72,497.1 88.83,497.2 88.95,496.5 89.07,497.7 89.19,497.3 89.31,498.9 89.43,497.8 89.55,496.3 89.67,497.7 89.78,497.7 89.9,498.1 90.02,497 90.14,497.2 90.26,498.1 90.38,496.9 90.5,497.2 90.62,496.9 90.73,497.8 90.85,496.4 90.97,497.2 91.09,497.5 91.21,497.8 91.33,497.6 91.45,497 91.57,497.7 91.68,496.9 91.8,497.2 91.92,496.7 92.04,497.1 92.16,497.6 92.28,498.7 92.4,497.4 92.52,497.1 92.63,497.5 92.75,497.3 92.87,497.9 92.99,497.9 93.11,498.2 93.23,496.8 93.35,497.5 93.47,497.9 93.58,498.4 93.7,497.7 93.82,496.7 93.94,497.3 94.06,498 94.18,496.7 94.3,496.7 94.42,496.9 94.53,497 94.65,496.7 94.77,497.1 94.89,496.9 95.01,497.8 95.13,496.4 95.25,497.1 95.37,496 95.48,498.4 95.6,496.8 95.72,496.6 95.84,497.4 95.96,496.9 96.08,496.7 96.2,496.8 96.32,497.4 96.43,497.2 96.55,496.5 96.67,496.4 96.79,497.1 96.91,497.1 97.03,497 97.15,496.6 97.26,497.8 97.38,498 97.5,497.1 97.62,497.9 97.74,497.6 97.86,497.2 97.98,497 98.1,497.9 98.21,496.8 98.33,498.3 98.45,497 98.57,498.2 98.69,498 98.81,496.9 98.93,497.5 99.05,497.7 99.16,497.5 99.28,497 99.4,497.2 99.52,497.2 99.64,496.6 99.76,497.5 99.88,497.3 100,497.3 100.11,496.3 100.23,496.4 100.35,496.2 100.47,496.9 100.59,496.9 100.71,496.3 100.83,496.9 100.95,496.2 101.06,496.2 101.18,496.9 101.3,496.5 101.42,496.5 101.54,495.4 101.66,494.9 101.78,496.3 101.9,496.2 102.01,497.5 102.13,496 102.25,496.1 102.37,496.7 102.49,495.6 102.61,496.9 102.73,496.1 102.85,495.9 102.96,496.6 103.08,495.5 103.2,495.3 103.32,496.7 103.44,496.7 103.56,495.6 103.68,495.9 103.8,496.5 103.91,496 104.03,495.9 104.15,496 104.27,495.4 104.39,495.7 104.51,494.9 104.63,495.1 104.75,495.5 104.86,495.3 104.98,495.1 105.1,495.5 105.22,496.5 105.34,495.4 105.46,495.8 105.58,495 105.7,495.8 105.81,495.6 105.93,495.7 106.05,495 106.17,495.8 106.29,496 106.41,495.7 106.53,496.2 106.64,495.9 106.76,496 106.88,495.9 107,495 107.12,496.3 107.24,496.1 107.36,496.2 107.48,495.8 107.59,496.8 107.71,496.6 107.83,496.2 107.95,495.9 108.07,496.3 108.19,496.6 108.31,496.8 108.43,496.1 108.54,495.6 108.66,496.2 108.78,496.3 108.9,496.2 109.02,496.9 109.14,496.6 109.26,496.6 109.38,496.3 109.49,496.5 109.61,497.1 109.73,495.9 109.85,495.6 109.97,496.7 110.09,496.3 110.21,496.4 110.33,496.1 110.44,497.3 110.56,495.7 110.68,496.8 110.8,495.8 110.92,496.5 111.04,496.7 111.16,496.5 111.28,496 111.39,496.9 111.51,496.6 111.63,496.7 111.75,497.3 111.87,495.8 111.99,496.1 112.11,496.4 112.23,495.8 112.34,496.9 112.46,496.5 112.58,495.6 112.7,496 112.82,497.6 112.94,498.2 113.06,497 113.18,496 113.29,496.8 113.41,496.7 113.53,496.3 113.65,497.1 113.77,496.6 113.89,496.3 114.01,496.5 114.13,496.6 114.24,497.1 114.36,496.6 114.48,497.1 114.6,496.3 114.72,495.7 114.84,497.4 114.96,498.2 115.07,497.4 115.19,497 115.31,496.7 115.43,496.7 115.55,497.7 115.67,497.8 115.79,496.7 115.91,498 116.02,496.9 116.14,497.6 116.26,497.1 116.38,497.2 116.5,497.2 116.62,497.2 116.74,498.1 116.86,497.5 116.97,497.6 117.09,497.5 117.21,497 117.33,497.8 117.45,498 117.57,498 117.69,497.8 117.81,497.3 117.92,498.1 118.04,497.1 118.16,497.5 118.28,497.8 118.4,498.3 118.52,497.5 118.64,497.3 118.76,498.5 118.87,497 118.99,496.8 119.11,497.5 119.23,497.4 119.35,496.4 119.47,497 119.59,498.1 119.71,497.6 119.82,497.7 119.94,497.7 120.06,498.8 120.18,497.2 120.3,497.9 120.42,497.5 120.54,497.6 120.66,497.1 120.77,497.6 120.89,497.9 121.01,497.2 121.13,496.7 121.25,497.5 121.37,496.7 121.49,497.2 121.61,497.5 121.72,496.5 121.84,497.6 121.96,496.7 122.08,497.4 122.2,496.9 122.32,497.7 122.44,497.5 122.56,496.5 122.67,496.9 122.79,496.9 122.91,497.2 123.03,496.7 123.15,497.6 123.27,497.4 123.39,496.9 123.51,497.3 123.62,497.2 123.74,496.9 123.86,496.9 123.98,496.9 124.1,496 124.22,496.3 124.34,496.2 124.45,496.8 124.57,497 124.69,497.4 124.81,496.9 124.93,497.7 125.05,497 125.17,496.3 125.29,495.9 125.4,496.2 125.52,497 125.64,496.4 125.76,497 125.88,496.2 126,496.6 126.12,496.2 126.24,495.3 126.35,496.1 126.47,495.4 126.59,496.5 126.71,496.7 126.83,495.9 126.95,495.7 127.07,496.9 127.19,496.6 127.3,497.3 127.42,496.7 127.54,496.2 127.66,496.7 127.78,497 127.9,497.4 128.02,496.6 128.14,496.4 128.25,496.5 128.37,496.7 128.49,497.5 128.61,496 128.73,496.9 128.85,497 128.97,496.6 129.09,498 129.2,497 129.32,497 129.44,496.8 129.56,496.3 129.68,496.8 129.8,497.9 129.92,497.2 130.04,496.9 130.15,497 130.27,497.7 130.39,497.9 130.51,496.8 130.63,496.9 130.75,497.1 130.87,497.9 130.99,496.2 131.1,498.5 131.22,497.2 131.34,496.1 131.46,497.1 131.58,497 131.7,497.6 131.82,496.4 131.94,497.7 132.05,497 132.17,497 132.29,497.6 132.41,496.7 132.53,497.8 132.65,497.4 132.77,497.1 132.88,497.3 133,496.8 133.12,496.6 133.24,497.2 133.36,497.3 133.48,497.2 133.6,497.2 133.72,496.6 133.83,497 133.95,496.7 134.07,496.9 134.19,497.3 134.31,496.4 134.43,497.3 134.55,496.8 134.67,496.1 134.78,497.3 134.9,496.8 135.02,497.5 135.14,497 135.26,497.4 135.38,496.9 135.5,496.9 135.62,496.6 135.73,495.9 135.85,496.5 135.97,496.4 136.09,496.7 136.21,496.8 136.33,497.1 136.45,497.6 136.57,496.7 136.68,496 136.8,496.6 136.92,497.1 137.04,496.1 137.16,497.1 137.28,497.3 137.4,497.6 137.52,497.5 137.63,497.2 137.75,496.2 137.87,497.3 137.99,497.8 138.11,497.6 138.23,497.5 138.35,498.2 138.47,497.4 138.58,497.2 138.7,497.4 138.82,497.3 138.94,498.2 139.06,498.4 139.18,497 139.3,497.1 139.42,498.4 139.53,497.6 139.65,497.7 139.77,497.4 139.89,497.6 140.01,497.9 140.13,497.6 140.25,497.6 140.37,497.7 140.48,498.5 140.6,499.1 140.72,498 140.84,498.4 140.96,497.5 141.08,497.3 141.2,497.5 141.32,497.8 141.43,497.6 141.55,497.1 141.67,498 141.79,497.2 141.91,497.3 142.03,497.5 142.15,497 142.26,498 142.38,497.3 142.5,498.1 142.62,498.1 142.74,498.2 142.86,497.5 142.98,498.2 143.1,497.7 143.21,498.2 143.33,497.2 143.45,496.9 143.57,497.6 143.69,496.9 143.81,497.4 143.93,496.7 144.05,497.6 144.16,498.4 144.28,497 144.4,497.7 144.52,498.1 144.64,497.9 144.76,498.4 144.88,497.7 145,498.1 145.11,496.9 145.23,497.3 145.35,498.4 145.47,498.3 145.59,497.8 145.71,498.5 145.83,497.6 145.95,497.6 146.06,497.9 146.18,497.8 146.3,497.4 146.42,496.9 146.54,496.9 146.66,497.6 146.78,497.2 146.9,497.9 147.01,497.4 147.13,498 147.25,497.2 147.37,498.1 147.49,498 147.61,497.5 147.73,497.2 147.85,498.1 147.96,497.7 148.08,497.3 148.2,497.3 148.32,497.7 148.44,497.3 148.56,497.4 148.68,496.6 148.8,497 148.91,497.8 149.03,498.2 149.15,497.1 149.27,496.5 149.39,497 149.51,496.6 149.63,497.2 149.75,497.6 149.86,496.6 149.98,496.9 150.1,496.6 150.22,497.5 150.34,496.8 150.46,497.2 150.58,496.5 150.69,497.1 150.81,497.1 150.93,497.1 151.05,496.3 151.17,496.8 151.29,497.2 151.41,497.3 151.53,497.3 151.64,496.2 151.76,497.7 151.88,497.3 152,496.6 152.12,496.4 152.24,497 152.36,496.6 152.48,496.6 152.59,496.5 152.71,496.9 152.83,496.2 152.95,496.9 153.07,496.3 153.19,497.5 153.31,496.5 153.43,497.6 153.54,497.7 153.66,496.8 153.78,497.4 153.9,496.8 154.02,497.5 154.14,496.3 154.26,497 154.38,497.6 154.49,497 154.61,496.7 154.73,497.4 154.85,496.9 154.97,496.2 155.09,496.7 155.21,497.1 155.33,497.4 155.44,496.9 155.56,497.9 155.68,498.6 155.8,497.5 155.92,497.7 156.04,496.5 156.16,497.2 156.28,497.8 156.39,497.9 156.51,497.1 156.63,497.7 156.75,497.7 156.87,497.4 156.99,497.4 157.11,497.4 157.23,497.4 157.34,496.9 157.46,496.7 157.58,498.2 157.7,496.3 157.82,497.5 157.94,497 158.06,497.9 158.18,497.4 158.29,497.4 158.41,497.5 158.53,497.1 158.65,497.2 158.77,498 158.89,497.6 159.01,497.2 159.13,497.2 159.24,497.6 159.36,497.6 159.48,497.5 159.6,497.9 159.72,498 159.84,496.7 159.96,497.5 160.07,497.3 160.19,497.7 160.31,496.7 160.43,496.5 160.55,497.4 160.67,497 160.79,497.6 160.91,496.5 161.02,496.8 161.14,497.6 161.26,496.7 161.38,497.1 161.5,497 161.62,497.1 161.74,497.5 161.86,497.5 161.97,496.9 162.09,497.3 162.21,497.7 162.33,496.3 162.45,497.3 162.57,497.5 162.69,497.6 162.81,496.9 162.92,496.8 163.04,497.1 163.16,496.9 163.28,497.9 163.4,497.4 163.52,497.5 163.64,497.3 163.76,497.1 163.87,498.2 163.99,495.9 164.11,497.7 164.23,497.1 164.35,496.9 164.47,496.9 164.59,497.2 164.71,498.6 164.82,497.8 164.94,497 165.06,497.7 165.18,497.8 165.3,498.4 165.42,496.8 165.54,497.1 165.66,497.7 165.77,497.4 165.89,497.4 166.01,497.8 166.13,497.5 166.25,497.2 166.37,497.1 166.49,496.8 166.61,497.4 166.72,497.6 166.84,497.3 166.96,497.7 167.08,498.1 167.2,497 167.32,497.7 167.44,497.5 167.56,497.3 167.67,498.1 167.79,497.4 167.91,497.5 168.03,497.8 168.15,497.6 168.27,498.1 168.39,498.8 168.5,497.9 168.62,498.2 168.74,497.4 168.86,497.7 168.98,498.1 169.1,497.8 169.22,497.2 169.34,497.3 169.45,497.6 169.57,497.6 169.69,497.9 169.81,497.8 169.93,497.4 170.05,497.7 170.17,497.5 170.29,498.1 170.4,498.3 170.52,498.3 170.64,497.7 170.76,496.8 170.88,496.8 171,497.8 171.12,498 171.24,496.9 171.35,497 171.47,497.8 171.59,496.7 171.71,497 171.83,496.5 171.95,496.9 172.07,496.6 172.19,496.8 172.3,497.4 172.42,497 172.54,497.2 172.66,496.5 172.78,497.4 172.9,497.6 173.02,496.6 173.14,496.4 173.25,496.3 173.37,496.4 173.49,497.6 173.61,497.3 173.73,497.2 173.85,497 173.97,498 174.09,497.1 174.2,497 174.32,497.6 174.44,497.1 174.56,496.7 174.68,497.2 174.8,496.8 174.92,496.9 175.04,497.2 175.15,497.2 175.27,497.6 175.39,496.9 175.51,497.7 175.63,497.8 175.75,497.2 175.87,497.8 175.99,497.3 176.1,497.1 176.22,497.5 176.34,497.5 176.46,497.1 176.58,497.2 176.7,498.2 176.82,498.1 176.94,496.9 177.05,497.3 177.17,498.4 177.29,498.1 177.41,497.4 177.53,497.9 177.65,497.2 177.77,497.3 177.88,497.1 178,497.8 178.12,497 178.24,496.4 178.36,497.6 178.48,496.6 178.6,496.8 178.72,496.9 178.83,497.2 178.95,497.6 179.07,497.5 179.19,496.7 179.31,496.6 179.43,496.5 179.55,496.6 179.67,496.6 179.78,497.2 179.9,497.5 180.02,496.9 180.14,496.7 180.26,496.9 180.38,497.6 180.5,497.1 180.62,497.6 180.73,496.8 180.85,497.4 180.97,497 181.09,496.7 181.21,496.8 181.33,496.3 181.45,497.4 181.57,497.8 181.68,496.4 181.8,496.2 181.92,496.2 182.04,496.7 182.16,496.6 182.28,496.8 182.4,497.4 182.52,497.1 182.63,496.6 182.75,497.1 182.87,496 182.99,497.5 183.11,497.1 183.23,496.4 183.35,497.1 183.47,497.4 183.58,497.5 183.7,497.2 183.82,496.2 183.94,496.7 184.06,496.7 184.18,497.1 184.3,496.5 184.42,496.8 184.53,497.3 184.65,497.1 184.77,496.8 184.89,496.4 185.01,496.9 185.13,496.7 185.25,496 185.37,497.2 185.48,497.4 185.6,496.5 185.72,496.7 185.84,497 185.96,496.8 186.08,497.1 186.2,496.7 186.31,497.1 186.43,496.6 186.55,497.5 186.67,497.3 186.79,496.9 186.91,497.2 187.03,496.7 187.15,497 187.26,497.3 187.38,496.9 187.5,497.3 187.62,497.7 187.74,497.6 187.86,497.4 187.98,497.3 188.1,497 188.21,496.7 188.33,496.8 188.45,496.3 188.57,496.5 188.69,497.2 188.81,496.4 188.93,496.6 189.05,497.3 189.16,497 189.28,496.6 189.4,497 189.52,496.7 189.64,497 189.76,496.8 189.88,497.3 190,497 190.11,497.3 190.23,496.9 190.35,497.9 190.47,497.1 190.59,496.7 190.71,497 190.83,497.2 190.95,497 191.06,497.6 191.18,497.6 191.3,497.4 191.42,497.3 191.54,496.8 191.66,497.6 191.78,496.8 191.9,497.9 192.01,497.5 192.13,497.2 192.25,496.6 192.37,497.4 192.49,498 192.61,496.9 192.73,497 192.85,497.5 192.96,497.4 193.08,497.2 193.2,496.9 193.32,496.6 193.44,497.5 193.56,495.8 193.68,496.8 193.8,497 193.91,496.5 194.03,496.7 194.15,495.7 194.27,496.3 194.39,496.9 194.51,496.9 194.63,497 194.75,496.9 194.86,496.4 194.98,497 195.1,496 195.22,496.8 195.34,496.8 195.46,496.3 195.58,497.6 195.69,497.1 195.81,496.4 195.93,496.7 196.05,496.7 196.17,496.5 196.29,496.9 196.41,496.7 196.53,497.2 196.64,497.4 196.76,496 196.88,497 197,496.9 197.12,495.9 197.24,496.1 197.36,496.8 197.48,496.8 197.59,496.6 197.71,497 197.83,496.3 197.95,496.5 198.07,496.5 198.19,496.2 198.31,496.2 198.43,495.8 198.54,495.9 198.66,497.3 198.78,496.2 198.9,497.1 199.02,497.2 199.14,496.3 199.26,496.9 199.38,496.8 199.49,496.2 199.61,497 199.73,497.1 199.85,496.5 199.97,496.2 200.09,496.5 200.21,497.4 200.33,497 200.44,496.8 200.56,495.9 200.68,496.4 200.8,496.4 200.92,496.3 201.04,496.9 201.16,496.6 201.28,496.6 201.39,497.3 201.51,496.9 201.63,496.6 201.75,497.4 201.87,496.5 201.99,496.6 202.11,496.5 202.23,497.3 202.34,496.9 202.46,496.3 202.58,496.6 202.7,497.3 202.82,496.9 202.94,496.4 203.06,497 203.18,496.8 203.29,495.9 203.41,497 203.53,497.1 203.65,497.5 203.77,497.3 203.89,496.4 204.01,497.1 204.12,497.6 204.24,497.5 204.36,497.1 204.48,496.7 204.6,497.4 204.72,496.8 204.84,497.3 204.96,496.9 205.07,496.9 205.19,496.8 205.31,497.3 205.43,497.2 205.55,496.9 205.67,497.6 205.79,497 205.91,496.8 206.02,496.6 206.14,497.1 206.26,497.1 206.38,497 206.5,497.4 206.62,497.2 206.74,496.9 206.86,496.9 206.97,497.5 207.09,497.2 207.21,498 207.33,496.7 207.45,497.2 207.57,496.9 207.69,497.5 207.81,497 207.92,496.7 208.04,496.5 208.16,497.5 208.28,496.5 208.4,496.9 208.52,497.1 208.64,496.5 208.76,496.8 208.87,496.8 208.99,496.9 209.11,496.5 209.23,496.5 209.35,496.6 209.47,496.9 209.59,496.7 209.71,496.3 209.82,495.9 209.94,496.4 210.06,495.8 210.18,496.4 210.3,496.9 210.42,496.1 210.54,496.8 210.66,496.2 210.77,495.9 210.89,496.5 211.01,496.4 211.13,495.3 211.25,496.3 211.37,496.3 211.49,496.1 211.61,496.5 211.72,496.5 211.84,496.3 211.96,497.5 212.08,495.8 212.2,496.9 212.32,496.9 212.44,496.2 212.56,496.5 212.67,497 212.79,496.4 212.91,497 213.03,496.8 213.15,497.2 213.27,496.9 213.39,496.4 213.5,496.5 213.62,496.4 213.74,496.2 213.86,496.6 213.98,496.9 214.1,496.7 214.22,495.9 214.34,496.6 214.45,496.5 214.57,496.7 214.69,496.5 214.81,496.4 214.93,496.6 215.05,496.7 215.17,496.9 215.29,497 215.4,496.4 215.52,496.2 215.64,496.2 215.76,496.5 215.88,496.9 216,496.2 216.12,496.2" stroke="#1f77b4" stroke-width="3.6" stroke-linejoin="round"/>
<path d="M46.09 307.7h0M46.21 311.3h0M46.33 330.2h0M46.45 383.2h0M46.57 411.5h0M46.68 423.8h0M46.8 444.1h0M46.92 452.9h0M47.04 460.1h0M47.16 467.4h0M47.28 471h0M47.4 474.6h0M47.52 478.3h0M47.63 481.2h0M47.75 484.1h0M47.87 486.3h0M47.99 486h0M48.11 487.7h0M48.23 487h0M48.35 489h0M48.47 489.4h0M48.58 488.2h0M48.7 489.9h0M48.82 491.5h0M48.94 491.6h0M49.06 491.1h0M49.18 489.9h0M49.3 492.8h0M49.42 493h0M49.53 491.9h0M49.65 494.3h0M49.77 493.9h0M49.89 492.8h0M50.01 493.4h0M50.13 494.2h0M50.25 493.7h0M50.37 497.8h0M50.48 493.7h0M50.6 496.1h0M50.72 497h0M50.84 495.1h0M50.96 494.7h0M51.08 496.1h0M51.2 497h0M51.32 495.9h0M51.43 496.1h0M51.55 494.6h0M51.67 495.4h0M51.79 496.1h0M51.91 495.2h0M52.03 496.7h0M52.15 497.5h0M52.27 496h0M52.38 496.1h0M52.5 497h0M52.62 497.7h0M52.74 496.7h0M52.86 499.7h0M52.98 496.4h0M53.1 496.7h0M53.21 499h0M53.33 497.3h0M53.45 498.4h0M53.57 496.7h0M53.69 499.7h0M53.81 498.6h0M53.93 497h0M54.05 496.6h0M54.16 500.1h0M54.28 498.4h0M54.4 497.6h0M54.52 498.7h0M54.64 496.5h0M54.76 499.4h0M54.88 497.9h0M55 499.4h0M55.11 496.9h0M55.23 498.5h0M55.35 498.9h0M55.47 500.3h0M55.59 496.9h0M55.71 497.9h0M55.83 498h0M55.95 497.6h0M56.06 498.5h0M56.18 499.5h0M56.3 499.7h0M56.42 499.7h0M56.54 497.6h0M56.66 500.5h0M56.78 499.6h0M56.9 499.4h0M57.01 498.9h0M57.13 498.6h0M57.25 500.5h0M57.37 501h0M57.49 499.3h0M57.61 498.2h0M57.73 498.7h0M57.85 499.3h0M57.96 499.8h0M58.08 499.3h0M58.2 499.8h0M58.32 498.8h0M58.44 500.4h0M58.56 499.6h0M58.68 499.8h0M58.8 499.2h0M58.91 499.6h0M59.03 497.4h0M59.15 498.4h0M59.27 498.4h0M59.39 501.8h0M59.51 500.2h0M59.63 500.4h0M59.75 499.4h0M59.86 502h0M59.98 498.8h0M60.1 498.9h0M60.22 501.1h0M60.34 500.8h0M60.46 500.7h0M60.58 499.9h0M60.7 499.4h0M60.81 498.1h0M60.93 500.1h0M61.05 499.2h0M61.17 499.8h0M61.29 498.3h0M61.41 499.2h0M61.53 498.6h0M61.64 500.8h0M61.76 499.9h0M61.88 500.4h0M62 498.3h0M62.12 499h0M62.24 499.8h0M62.36 499.9h0M62.48 499h0M62.59 500h0M62.71 500.2h0M62.83 498.9h0M62.95 497.1h0M63.07 499.4h0M63.19 499.7h0M63.31 500.2h0M63.43 500.3h0M63.54 498.6h0M63.66 498.3h0M63.78 499h0M63.9 498.7h0M64.02 498.9h0M64.14 498.9h0M64.26 500.4h0M64.38 499.5h0M64.49 499h0M64.61 499.8h0M64.73 499.5h0M64.85 499.9h0M64.97 499.5h0M65.09 498.5h0M65.21 499.6h0M65.33 499.4h0M65.44 498.7h0M65.56 498.8h0M65.68 498h0M65.8 501.2h0M65.92 498.7h0M66.04 499.9h0M66.16 499.4h0M66.28 498.8h0M66.39 498.6h0M66.51 498.7h0M66.63 499.4h0M66.75 498.2h0M66.87 499.8h0M66.99 499.7h0M67.11 498.9h0M67.23 500h0M67.34 497.8h0M67.46 498.7h0M67.58 497.8h0M67.7 499.6h0M67.82 499.9h0M67.94 499.4h0M68.06 498.9h0M68.18 500h0M68.29 499.2h0M68.41 499.5h0M68.53 498.2h0M68.65 500h0M68.77 498.6h0M68.89 499.9h0M69.01 500.2h0M69.13 499.9h0M69.24 500.3h0M69.36 499.2h0M69.48 498.5h0M69.6 499.1h0M69.72 498.7h0M69.84 497.9h0M69.96 499h0M70.08 499h0M70.19 499.3h0M70.31 500.3h0M70.43 498.4h0M70.55 500.4h0M70.67 498.5h0M70.79 498.9h0M70.91 498h0M71.02 498.9h0M71.14 499.5h0M71.26 498.6h0M71.38 499.3h0M71.5 499h0M71.62 498.8h0M71.74 498.9h0M71.86 499h0M71.97 499.5h0M72.09 499h0M72.21 500.5h0M72.33 499h0M72.45 499.8h0M72.57 498.1h0M72.69 498h0M72.81 500.5h0M72.92 498.9h0M73.04 499.1h0M73.16 499.9h0M73.28 498.7h0M73.4 499.4h0M73.52 500.4h0M73.64 499.3h0M73.76 499.2h0M73.87 499h0M73.99 500h0M74.11 498.6h0M74.23 498.5h0M74.35 499.9h0M74.47 499.5h0M74.59 499.1h0M74.71 499.4h0M74.82 497.7h0M74.94 498.8h0M75.06 499.6h0M75.18 499.4h0M75.3 498.8h0M75.42 497.1h0M75.54 498.9h0M75.66 498.6h0M75.77 498.3h0M75.89 498.7h0M76.01 497h0M76.13 499h0M76.25 498h0M76.37 498.4h0M76.49 498.1h0M76.61 499.3h0M76.72 497.2h0M76.84 498.6h0M76.96 498.4h0M77.08 499.1h0M77.2 499h0M77.32 498.1h0M77.44 497.8h0M77.56 497.9h0M77.67 497.6h0M77.79 498h0M77.91 498.4h0M78.03 497.9h0M78.15 498h0M78.27 498.5h0M78.39 498h0M78.51 497.6h0M78.62 498.3h0M78.74 498.7h0M78.86 498h0M78.98 497.1h0M79.1 498.6h0M79.22 498.5h0M79.34 498.5h0M79.45 497.6h0M79.57 499.7h0M79.69 498.1h0M79.81 497.6h0M79.93 498.9h0M80.05 497.4h0M80.17 498h0M80.29 498.7h0M80.4 498.2h0M80.52 499.4h0M80.64 498.7h0M80.76 497.1h0M80.88 498.9h0M81 497.1h0M81.12 498.4h0M81.24 497.6h0M81.35 498.3h0M81.47 499.8h0M81.59 498.7h0M81.71 498.2h0M81.83 499.1h0M81.95 499.2h0M82.07 498h0M82.19 498.7h0M82.3 499.4h0M82.42 498.7h0M82.54 497.7h0M82.66 498.6h0M82.78 497.6h0M82.9 497.3h0M83.02 498.2h0M83.14 499h0M83.25 499.1h0M83.37 498.3h0M83.49 497.7h0M83.61 498h0M83.73 497.8h0M83.85 498.5h0M83.97 498h0M84.09 498.5h0M84.2 498.4h0M84.32 499h0M84.44 499.1h0M84.56 498.4h0M84.68 498.7h0M84.8 498.6h0M84.92 497.5h0M85.04 498h0M85.15 496h0M85.27 497.3h0M85.39 498.2h0M85.51 497.3h0M85.63 497.5h0M85.75 498.1h0M85.87 496.9h0M85.99 498.1h0M86.1 499.5h0M86.22 497h0M86.34 497.9h0M86.46 496.5h0M86.58 497.9h0M86.7 498.2h0M86.82 496.4h0M86.94 498h0M87.05 497.2h0M87.17 496.4h0M87.29 497.2h0M87.41 497.3h0M87.53 497.2h0M87.65 496.7h0M87.77 497.8h0M87.89 496.9h0M88 496.9h0M88.12 495.8h0M88.24 497.5h0M88.36 497.8h0M88.48 496.8h0M88.6 497.5h0M88.72 497.1h0M88.83 497.2h0M88.95 496.5h0M89.07 497.7h0M89.19 497.3h0M89.31 498.9h0M89.43 497.8h0M89.55 496.3h0M89.67 497.7h0M89.78 497.7h0M89.9 498.1h0M90.02 497h0M90.14 497.2h0M90.26 498.1h0M90.38 496.9h0M90.5 497.2h0M90.62 496.9h0M90.73 497.8h0M90.85 496.4h0M90.97 497.2h0M91.09 497.5h0M91.21 497.8h0M91.33 497.6h0M91.45 497h0M91.57 497.7h0M91.68 496.9h0M91.8 497.2h0M91.92 496.7h0M92.04 497.1h0M92.16 497.6h0M92.28 498.7h0M92.4 497.4h0M92.52 497.1h0M92.63 497.5h0M92.75 497.3h0M92.87 497.9h0M92.99 497.9h0M93.11 498.2h0M93.23 496.8h0M93.35 497.5h0M93.47 497.9h0M93.58 498.4h0M93.7 497.7h0M93.82 496.7h0M93.94 497.3h0M94.06 498h0M94.18 496.7h0M94.3 496.7h0M94.42 496.9h0M94.53 497h0M94.65 496.7h0M94.77 497.1h0M94.89 496.9h0M95.01 497.8h0M95.13 496.4h0M95.25 497.1h0M95.37 496h0M95.48 498.4h0M95.6 496.8h0M95.72 496.6h0M95.84 497.4h0M95.96 496.9h0M96.08 496.7h0M96.2 496.8h0M96.32 497.4h0M96.43 497.2h0M96.55 496.5h0M96.67 496.4h0M96.79 497.1h0M96.91 497.1h0M97.03 497h0M97.15 496.6h0M97.26 497.8h0M97.38 498h0M97.5 497.1h0M97.62 497.9h0M97.74 497.6h0M97.86 497.2h0M97.98 497h0M98.1 497.9h0M98.21 496.8h0M98.33 498.3h0M98.45 497h0M98.57 498.2h0M98.69 498h0M98.81 496.9h0M98.93 497.5h0M99.05 497.7h0M99.16 497.5h0M99.28 497h0M99.4 497.2h0M99.52 497.2h0M99.64 496.6h0M99.76 497.5h0M99.88 497.3h0M100 497.3h0M100.11 496.3h0M100.23 496.4h0M100.35 496.2h0M100.47 496.9h0M100.59 496.9h0M100.71 496.3h0M100.83 496.9h0M100.95 496.2h0M101.06 496.2h0M101.18 496.9h0M101.3 496.5h0M101.42 496.5h0M101.54 495.4h0M101.66 494.9h0M101.78 496.3h0M101.9 496.2h0M102.01 497.5h0M102.13 496h0M102.25 496.1h0M102.37 496.7h0M102.49 495.6h0M102.61 496.9h0M102.73 496.1h0M102.85 495.9h0M102.96 496.6h0M103.08 495.5h0M103.2 495.3h0M103.32 496.7h0M103.44 496.7h0M103.56 495.6h0M103.68 495.9h0M103.8 496.5h0M103.91 496h0M104.03 495.9h0M104.15 496h0M104.27 495.4h0M104.39 495.7h0M104.51 494.9h0M104.63 495.1h0M104.75 495.5h0M104.86 495.3h0M104.98 495.1h0M105.1 495.5h0M105.22 496.5h0M105.34 495.4h0M105.46 495.8h0M105.58 495h0M105.7 495.8h0M105.81 495.6h0M105.93 495.7h0M106.05 495h0M106.17 495.8h0M106.29 496h0M106.41 495.7h0M106.53 496.2h0M106.64 495.9h0M106.76 496h0M106.88 495.9h0M107 495h0M107.12 496.3h0M107.24 496.1h0M107.36 496.2h0M107.48 495.8h0M107.59 496.8h0M107.71 496.6h0M107.83 496.2h0M107.95 495.9h0M108.07 496.3h0M108.19 496.6h0M108.31 496.8h0M108.43 496.1h0M108.54 495.6h0M108.66 496.2h0M108.78 496.3h0M108.9 496.2h0M109.02 496.9h0M109.14 496.6h0M109.26 496.6h0M109.38 496.3h0M109.49 496.5h0M109.61 497.1h0M109.73 495.9h0M109.85 495.6h0M109.97 496.7h0M110.09 496.3h0M110.21 496.4h0M110.33 496.1h0M110.44 497.3h0M110.56 495.7h0M110.68 496.8h0M110.8 495.8h0M110.92 496.5h0M111.04 496.7h0M111.16 496.5h0M111.28 496h0M111.39 496.9h0M111.51 496.6h0M111.63 496.7h0M111.75 497.3h0M111.87 495.8h0M111.99 496.1h0M112.11 496.4h0M112.23 495.8h0M112.34 496.9h0M112.46 496.5h0M112.58 495.6h0M112.7 496h0M112.82 497.6h0M112.94 498.2h0M113.06 497h0M113.18 496h0M113.29 496.8h0M113.41 496.7h0M113.53 496.3h0M113.65 497.1h0M113.77 496.6h0M113.89 496.3h0M114.01 496.5h0M114.13 496.6h0M114.24 497.1h0M114.36 496.6h0M114.48 497.1h0M114.6 496.3h0M114.72 495.7h0M114.84 497.4h0M114.96 498.2h0M115.07 497.4h0M115.19 497h0M115.31 496.7h0M115.43 496.7h0M115.55 497.7h0M115.67 497.8h0M115.79 496.7h0M115.91 498h0M116.02 496.9h0M116.14 497.6h0M116.26 497.1h0M116.38 497.2h0M116.5 497.2h0M116.62 497.2h0M116.74 498.1h0M116.86 497.5h0M116.97 497.6h0M117.09 497.5h0M117.21 497h0M117.33 497.8h0M117.45 498h0M117.57 498h0M117.69 497.8h0M117.81 497.3h0M117.92 498.1h0M118.04 497.1h0M118.16 497.5h0M118.28 497.8h0M118.4 498.3h0M118.52 497.5h0M118.64 497.3h0M118.76 498.5h0M118.87 497h0M118.99 496.8h0M119.11 497.5h0M119.23 497.4h0M119.35 496.4h0M119.47 497h0M119.59 498.1h0M119.71 497.6h0M119.82 497.7h0M119.94 497.7h0M120.06 498.8h0M120.18 497.2h0M120.3 497.9h0M120.42 497.5h0M120.54 497.6h0M120.66 497.1h0M120.77 497.6h0M120.89 497.9h0M121.01 497.2h0M121.13 496.7h0M121.25 497.5h0M121.37 496.7h0M121.49 497.2h0M121.61 497.5h0M121.72 496.5h0M121.84 497.6h0M121.96 496.7h0M122.08 497.4h0M122.2 496.9h0M122.32 497.7h0M122.44 497.5h0M122.56 496.5h0M122.67 496.9h0M122.79 496.9h0M122.91 497.2h0M123.03 496.7h0M123.15 497.6h0M123.27 497.4h0M123.39 496.9h0M123.51 497.3h0M123.62 497.2h0M123.74 496.9h0M123.86 496.9h0M123.98 496.9h0M124.1 496h0M124.22 496.3h0M124.34 496.2h0M124.45 496.8h0M124.57 497h0M124.69 497.4h0M124.81 496.9h0M124.93 497.7h0M125.05 497h0M125.17 496.3h0M125.29 495.9h0M125.4 496.2h0M125.52 497h0M125.64 496.4h0M125.76 497h0M125.88 496.2h0M126 496.6h0M126.12 496.2h0M126.24 495.3h0M126.35 496.1h0M126.47 495.4h0M126.59 496.5h0M126.71 496.7h0M126.83 495.9h0M126.95 495.7h0M127.07 496.9h0M127.19 496.6h0M127.3 497.3h0M127.42 496.7h0M127.54 496.2h0M127.66 496.7h0M127.78 497h0M127.9 497.4h0M128.02 496.6h0M128.14 496.4h0M128.25 496.5h0M128.37 496.7h0M128.49 497.5h0M128.61 496h0M128.73 496.9h0M128.85 497h0M128.97 496.6h0M129.09 498h0M129.2 497h0M129.32 497h0M129.44 496.8h0M129.56 496.3h0M129.68 496.8h0M129.8 497.9h0M129.92 497.2h0M130.04 496.9h0M130.15 497h0M130.27 497.7h0M130.39 497.9h0M130.51 496.8h0M130.63 496.9h0M130.75 497.1h0M130.87 497.9h0M130.99 496.2h0M131.1 498.5h0M131.22 497.2h0M131.34 496.1h0M131.46 497.1h0M131.58 497h0M131.7 497.6h0M131.82 496.4h0M131.94 497.7h0M132.05 497h0M132.17 497h0M132.29 497.6h0M132.41 496.7h0M132.53 497.8h0M132.65 497.4h0M132.77 497.1h0M132.88 497.3h0M133 496.8h0M133.12 496.6h0M133.24 497.2h0M133.36 497.3h0M133.48 497.2h0M133.6 497.2h0M133.72 496.6h0M133.83 497h0M133.95 496.7h0M134.07 496.9h0M134.19 497.3h0M134.31 496.4h0M134.43 497.3h0M134.55 496.8h0M134.67 496.1h0M134.78 497.3h0M134.9 496.8h0M135.02 497.5h0M135.14 497h0M135.26 497.4h0M135.38 496.9h0M135.5 496.9h0M135.62 496.6h0M135.73 495.9h0M135.85 496.5h0M135.97 496.4h0M136.09 496.7h0M136.21 496.8h0M136.33 497.1h0M136.45 497.6h0M136.57 496.7h0M136.68 496h0M136.8 496.6h0M136.92 497.1h0M137.04 496.1h0M137.16 497.1h0M137.28 497.3h0M137.4 497.6h0M137.52 497.5h0M137.63 497.2h0M137.75 496.2h0M137.87 497.3h0M137.99 497.8h0M138.11 497.6h0M138.23 497.5h0M138.35 498.2h0M138.47 497.4h0M138.58 497.2h0M138.7 497.4h0M138.82 497.3h0M138.94 498.2h0M139.06 498.4h0M139.18 497h0M139.3 497.1h0M139.42 498.4h0M139.53 497.6h0M139.65 497.7h0M139.77 497.4h0M139.89 497.6h0M140.01 497.9h0M140.13 497.6h0M140.25 497.6h0M140.37 497.7h0M140.48 498.5h0M140.6 499.1h0M140.72 498h0M140.84 498.4h0M140.96 497.5h0M141.08 497.3h0M141.2 497.5h0M141.32 497.8h0M141.43 497.6h0M141.55 497.1h0M141.67 498h0M141.79 497.2h0M141.91 497.3h0M142.03 497.5h0M142.15 497h0M142.26 498h0M142.38 497.3h0M142.5 498.1h0M142.62 498.1h0M142.74 498.2h0M142.86 497.5h0M142.98 498.2h0M143.1 497.7h0M143.21 498.2h0M143.33 497.2h0M143.45 496.9h0M143.57 497.6h0M143.69 496.9h0M143.81 497.4h0M143.93 496.7h0M144.05 497.6h0M144.16 498.4h0M144.28 497h0M144.4 497.7h0M144.52 498.1h0M144.64 497.9h0M144.76 498.4h0M144.88 497.7h0M145 498.1h0M145.11 496.9h0M145.23 497.3h0M145.35 498.4h0M145.47 498.3h0M145.59 497.8h0M145.71 498.5h0M145.83 497.6h0M145.95 497.6h0M146.06 497.9h0M146.18 497.8h0M146.3 497.4h0M146.42 496.9h0M146.54 496.9h0M146.66 497.6h0M146.78 497.2h0M146.9 497.9h0M147.01 497.4h0M147.13 498h0M147.25 497.2h0M147.37 498.1h0M147.49 498h0M147.61 497.5h0M147.73 497.2h0M147.85 498.1h0M147.96 497.7h0M148.08 497.3h0M148.2 497.3h0M148.32 497.7h0M148.44 497.3h0M148.56 497.4h0M148.68 496.6h0M148.8 497h0M148.91 497.8h0M149.03 498.2h0M149.15 497.1h0M149.27 496.5h0M149.39 497h0M149.51 496.6h0M149.63 497.2h0M149.75 497.6h0M149.86 496.6h0M149.98 496.9h0M150.1 496.6h0M150.22 497.5h0M150.34 496.8h0M150.46 497.2h0M150.58 496.5h0M150.69 497.1h0M150.81 497.1h0M150.93 497.1h0M151.05 496.3h0M151.17 496.8h0M151.29 497.2h0M151.41 497.3h0M151.53 497.3h0M151.64 496.2h0M151.76 497.7h0M151.88 497.3h0M152 496.6h0M152.12 496.4h0M152.24 497h0M152.36 496.6h0M152.48 496.6h0M152.59 496.5h0M152.71 496.9h0M152.83 496.2h0M152.95 496.9h0M153.07 496.3h0M153.19 497.5h0M153.31 496.5h0M153.43 497.6h0M153.54 497.7h0M153.66 496.8h0M153.78 497.4h0M153.9 496.8h0M154.02 497.5h0M154.14 496.3h0M154.26 497h0M154.38 497.6h0M154.49 497h0M154.61 496.7h0M154.73 497.4h0M154.85 496.9h0M154.97 496.2h0M155.09 496.7h0M155.21 497.1h0M155.33 497.4h0M155.44 496.9h0M155.56 497.9h0M155.68 498.6h0M155.8 497.5h0M155.92 497.7h0M156.04 496.5h0M156.16 497.2h0M156.28 497.8h0M156.39 497.9h0M156.51 497.1h0M156.63 497.7h0M156.75 497.7h0M156.87 497.4h0M156.99 497.4h0M157.11 497.4h0M157.23 497.4h0M157.34 496.9h0M157.46 496.7h0M157.58 498.2h0M157.7 496.3h0M157.82 497.5h0M157.94 497h0M158.06 497.9h0M158.18 497.4h0M158.29 497.4h0M158.41 497.5h0M158.53 497.1h0M158.65 497.2h0M158.77 498h0M158.89 497.6h0M159.01 497.2h0M159.13 497.2h0M159.24 497.6h0M159.36 497.6h0M159.48 497.5h0M159.6 497.9h0M159.72 498h0M159.84 496.7h0M159.96 497.5h0M160.07 497.3h0M160.19 497.7h0M160.31 496.7h0M160.43 496.5h0M160.55 497.4h0M160.67 497h0M160.79 497.6h0M160.91 496.5h0M161.02 496.8h0M161.14 497.6h0M161.26 496.7h0M161.38 497.1h0M161.5 497h0M161.62 497.1h0M161.74 497.5h0M161.86 497.5h0M161.97 496.9h0M162.09 497.3h0M162.21 497.7h0M162.33 496.3h0M162.45 497.3h0M162.57 497.5h0M162.69 497.6h0M162.81 496.9h0M162.92 496.8h0M163.04 497.1h0M163.16 496.9h0M163.28 497.9h0M163.4 497.4h0M163.52 497.5h0M163.64 497.3h0M163.76 497.1h0M163.87 498.2h0M163.99 495.9h0M164.11 497.7h0M164.23 497.1h0M164.35 496.9h0M164.47 496.9h0M164.59 497.2h0M164.71 498.6h0M164.82 497.8h0M164.94 497h0M165.06 497.7h0M165.18 497.8h0M165.3 498.4h0M165.42 496.8h0M165.54 497.1h0M165.66 497.7h0M165.77 497.4h0M165.89 497.4h0M166.01 497.8h0M166.13 497.5h0M166.25 497.2h0M166.37 497.1h0M166.49 496.8h0M166.61 497.4h0M166.72 497.6h0M166.84 497.3h0M166.96 497.7h0M167.08 498.1h0M167.2 497h0M167.32 497.7h0M167.44 497.5h0M167.56 497.3h0M167.67 498.1h0M167.79 497.4h0M167.91 497.5h0M168.03 497.8h0M168.15 497.6h0M168.27 498.1h0M168.39 498.8h0M168.5 497.9h0M168.62 498.2h0M168.74 497.4h0M168.86 497.7h0M168.98 498.1h0M169.1 497.8h0M169.22 497.2h0M169.34 497.3h0M169.45 497.6h0M169.57 497.6h0M169.69 497.9h0M169.81 497.8h0M169.93 497.4h0M170.05 497.7h0M170.17 497.5h0M170.29 498.1h0M170.4 498.3h0M170.52 498.3h0M170.64 497.7h0M170.76 496.8h0M170.88 496.8h0M171 497.8h0M171.12 498h0M171.24 496.9h0M171.35 497h0M171.47 497.8h0M171.59 496.7h0M171.71 497h0M171.83 496.5h0M171.95 496.9h0M172.07 496.6h0M172.19 496.8h0M172.3 497.4h0M172.42 497h0M172.54 497.2h0M172.66 496.5h0M172.78 497.4h0M172.9 497.6h0M173.02 496.6h0M173.14 496.4h0M173.25 496.3h0M173.37 496.4h0M173.49 497.6h0M173.61 497.3h0M173.73 497.2h0M173.85 497h0M173.97 498h0M174.09 497.1h0M174.2 497h0M174.32 497.6h0M174.44 497.1h0M174.56 496.7h0M174.68 497.2h0M174.8 496.8h0M174.92 496.9h0M175.04 497.2h0M175.15 497.2h0M175.27 497.6h0M175.39 496.9h0M175.51 497.7h0M175.63 497.8h0M175.75 497.2h0M175.87 497.8h0M175.99 497.3h0M176.1 497.1h0M176.22 497.5h0M176.34 497.5h0M176.46 497.1h0M176.58 497.2h0M176.7 498.2h0M176.82 498.1h0M176.94 496.9h0M177.05 497.3h0M177.17 498.4h0M177.29 498.1h0M177.41 497.4h0M177.53 497.9h0M177.65 497.2h0M177.77 497.3h0M177.88 497.1h0M178 497.8h0M178.12 497h0M178.24 496.4h0M178.36 497.6h0M178.48 496.6h0M178.6 496.8h0M178.72 496.9h0M178.83 497.2h0M178.95 497.6h0M179.07 497.5h0M179.19 496.7h0M179.31 496.6h0M179.43 496.5h0M179.55 496.6h0M179.67 496.6h0M179.78 497.2h0M179.9 497.5h0M180.02 496.9h0M180.14 496.7h0M180.26 496.9h0M180.38 497.6h0M180.5 497.1h0M180.62 497.6h0M180.73 496.8h0M180.85 497.4h0M180.97 497h0M181.09 496.7h0M181.21 496.8h0M181.33 496.3h0M181.45 497.4h0M181.57 497.8h0M181.68 496.4h0M181.8 496.2h0M181.92 496.2h0M182.04 496.7h0M182.16 496.6h0M182.28 496.8h0M182.4 497.4h0M182.52 497.1h0M182.63 496.6h0M182.75 497.1h0M182.87 496h0M182.99 497.5h0M183.11 497.1h0M183.23 496.4h0M183.35 497.1h0M183.47 497.4h0M183.58 497.5h0M183.7 497.2h0M183.82 496.2h0M183.94 496.7h0M184.06 496.7h0M184.18 497.1h0M184.3 496.5h0M184.42 496.8h0M184.53 497.3h0M184.65 497.1h0M184.77 496.8h0M184.89 496.4h0M185.01 496.9h0M185.13 496.7h0M185.25 496h0M185.37 497.2h0M185.48 497.4h0M185.6 496.5h0M185.72 496.7h0M185.84 497h0M185.96 496.8h0M186.08 497.1h0M186.2 496.7h0M186.31 497.1h0M186.43 496.6h0M186.55 497.5h0M186.67 497.3h0M186.79 496.9h0M186.91 497.2h0M187.03 496.7h0M187.15 497h0M187.26 497.3h0M187.38 496.9h0M187.5 497.3h0M187.62 497.7h0M187.74 497.6h0M187.86 497.4h0M187.98 497.3h0M188.1 497h0M188.21 496.7h0M188.33 496.8h0M188.45 496.3h0M188.57 496.5h0M188.69 497.2h0M188.81 496.4h0M188.93 496.6h0M189.05 497.3h0M189.16 497h0M189.28 496.6h0M189.4 497h0M189.52 496.7h0M189.64 497h0M189.76 496.8h0M189.88 497.3h0M190 497h0M190.11 497.3h0M190.23 496.9h0M190.35 497.9h0M190.47 497.1h0M190.59 496.7h0M190.71 497h0M190.83 497.2h0M190.95 497h0M191.06 497.6h0M191.18 497.6h0M191.3 497.4h0M191.42 497.3h0M191.54 496.8h0M191.66 497.6h0M191.78 496.8h0M191.9 497.9h0M192.01 497.5h0M192.13 497.2h0M192.25 496.6h0M192.37 497.4h0M192.49 498h0M192.61 496.9h0M192.73 497h0M192.85 497.5h0M192.96 497.4h0M193.08 497.2h0M193.2 496.9h0M193.32 496.6h0M193.44 497.5h0M193.56 495.8h0M193.68 496.8h0M193.8 497h0M193.91 496.5h0M194.03 496.7h0M194.15 495.7h0M194.27 496.3h0M194.39 496.9h0M194.51 496.9h0M194.63 497h0M194.75 496.9h0M194.86 496.4h0M194.98 497h0M195.1 496h0M195.22 496.8h0M195.34 496.8h0M195.46 496.3h0M195.58 497.6h0M195.69 497.1h0M195.81 496.4h0M195.93 496.7h0M196.05 496.7h0M196.17 496.5h0M196.29 496.9h0M196.41 496.7h0M196.53 497.2h0M196.64 497.4h0M196.76 496h0M196.88 497h0M197 496.9h0M197.12 495.9h0M197.24 496.1h0M197.36 496.8h0M197.48 496.8h0M197.59 496.6h0M197.71 497h0M197.83 496.3h0M197.95 496.5h0M198.07 496.5h0M198.19 496.2h0M198.31 496.2h0M198.43 495.8h0M198.54 495.9h0M198.66 497.3h0M198.78 496.2h0M198.9 497.1h0M199.02 497.2h0M199.14 496.3h0M199.26 496.9h0M199.38 496.8h0M199.49 496.2h0M199.61 497h0M199.73 497.1h0M199.85 496.5h0M199.97 496.2h0M200.09 496.5h0M200.21 497.4h0M200.33 497h0M200.44 496.8h0M200.56 495.9h0M200.68 496.4h0M200.8 496.4h0M200.92 496.3h0M201.04 496.9h0M201.16 496.6h0M201.28 496.6h0M201.39 497.3h0M201.51 496.9h0M201.63 496.6h0M201.75 497.4h0M201.87 496.5h0M201.99 496.6h0M202.11 496.5h0M202.23 497.3h0M202.34 496.9h0M202.46 496.3h0M202.58 496.6h0M202.7 497.3h0M202.82 496.9h0M202.94 496.4h0M203.06 497h0M203.18 496.8h0M203.29 495.9h0M203.41 497h0M203.53 497.1h0M203.65 497.5h0M203.77 497.3h0M203.89 496.4h0M204.01 497.1h0M204.12 497.6h0M204.24 497.5h0M204.36 497.1h0M204.48 496.7h0M204.6 497.4h0M204.72 496.8h0M204.84 497.3h0M204.96 496.9h0M205.07 496.9h0M205.19 496.8h0M205.31 497.3h0M205.43 497.2h0M205.55 496.9h0M205.67 497.6h0M205.79 497h0M205.91 496.8h0M206.02 496.6h0M206.14 497.1h0M206.26 497.1h0M206.38 497h0M206.5 497.4h0M206.62 497.2h0M206.74 496.9h0M206.86 496.9h0M206.97 497.5h0M207.09 497.2h0M207.21 498h0M207.33 496.7h0M207.45 497.2h0M207.57 496.9h0M207.69 497.5h0M207.81 497h0M207.92 496.7h0M208.04 496.5h0M208.16 497.5h0M208.28 496.5h0M208.4 496.9h0M208.52 497.1h0M208.64 496.5h0M208.76 496.8h0M208.87 496.8h0M208.99 496.9h0M209.11 496.5h0M209.23 496.5h0M209.35 496.6h0M209.47 496.9h0M209.59 496.7h0M209.71 496.3h0M209.82 495.9h0M209.94 496.4h0M210.06 495.8h0M210.18 496.4h0M210.3 496.9h0M210.42 496.1h0M210.54 496.8h0M210.66 496.2h0M210.77 495.9h0M210.89 496.5h0M211.01 496.4h0M211.13 495.3h0M211.25 496.3h0M211.37 496.3h0M211.49 496.1h0M211.61 496.5h0M211.72 496.5h0M211.84 496.3h0M211.96 497.5h0M212.08 495.8h0M212.2 496.9h0M212.32 496.9h0M212.44 496.2h0M212.56 496.5h0M212.67 497h0M212.79 496.4h0M212.91 497h0M213.03 496.8h0M213.15 497.2h0M213.27 496.9h0M213.39 496.4h0M213.5 496.5h0M213.62 496.4h0M213.74 496.2h0M213.86 496.6h0M213.98 496.9h0M214.1 496.7h0M214.22 495.9h0M214.34 496.6h0M214.45 496.5h0M214.57 496.7h0M214.69 496.5h0M214.81 496.4h0M214.93 496.6h0M215.05 496.7h0M215.17 496.9h0M215.29 497h0M215.4 496.4h0M215.52 496.2h0M215.64 496.2h0M215.76 496.5h0M215.88 496.9h0M216 496.2h0M216.12 496.2h0" stroke="#1f77b4" stroke-width="6.9" stroke-linecap="round"/>
<polyline points="46.09,344.7 46.21,350.9 46.33,362.4 46.45,377.5 46.57,394.4 46.68,411.2 46.8,426.5 46.92,439.7 47.04,450.6 47.16,459.2 47.28,466 47.4,471.2 47.52,475.4 47.63,478.7 47.75,481.3 47.87,483.4 47.99,485 48.11,486.3 48.23,487.3 48.35,488.1 48.47,488.7 48.58,489.3 48.7,489.9 48.82,490.3 48.94,490.8 49.06,491.2 49.18,491.6 49.3,492 49.42,492.4 49.53,492.7 49.65,493.1 49.77,493.4 49.89,493.7 50.01,494 50.13,494.3 50.25,494.6 50.37,494.9 50.48,495.2 50.6,495.4 50.72,495.6 50.84,495.7 50.96,495.8 51.08,495.8 51.2,495.8 51.32,495.8 51.43,495.8 51.55,495.8 51.67,495.9 51.79,495.9 51.91,496.1 52.03,496.2 52.15,496.4 52.27,496.6 52.38,496.8 52.5,497 52.62,497.1 52.74,497.3 52.86,497.4 52.98,497.5 53.1,497.6 53.21,497.7 53.33,497.8 53.45,497.9 53.57,497.9 53.69,498 53.81,498 53.93,498.1 54.05,498.1 54.16,498.1 54.28,498.1 54.4,498.1 54.52,498.2 54.64,498.2 54.76,498.2 54.88,498.3 55,498.3 55.11,498.3 55.23,498.4 55.35,498.4 55.47,498.4 55.59,498.3 55.71,498.4 55.83,498.4 55.95,498.5 56.06,498.7 56.18,498.8 56.3,499 56.42,499.1 56.54,499.2 56.66,499.3 56.78,499.4 56.9,499.4 57.01,499.5 57.13,499.5 57.25,499.5 57.37,499.4 57.49,499.4 57.61,499.4 57.73,499.3 57.85,499.3 57.96,499.4 58.08,499.4 58.2,499.5 58.32,499.5 58.44,499.5 58.56,499.4 58.68,499.4 58.8,499.3 58.91,499.2 59.03,499.3 59.15,499.4 59.27,499.5 59.39,499.7 59.51,499.9 59.63,500 59.75,500.1 59.86,500.1 59.98,500.1 60.1,500.1 60.22,500.1 60.34,500 60.46,499.9 60.58,499.8 60.7,499.7 60.81,499.5 60.93,499.4 61.05,499.3 61.17,499.3 61.29,499.3 61.41,499.4 61.53,499.4 61.64,499.5 61.76,499.5 61.88,499.5 62,499.5 62.12,499.5 62.24,499.5 62.36,499.5 62.48,499.4 62.59,499.4 62.71,499.3 62.83,499.3 62.95,499.2 63.07,499.2 63.19,499.2 63.31,499.2 63.43,499.2 63.54,499.2 63.66,499.1 63.78,499.1 63.9,499.1 64.02,499.2 64.14,499.2 64.26,499.3 64.38,499.4 64.49,499.4 64.61,499.4 64.73,499.4 64.85,499.4 64.97,499.3 65.09,499.3 65.21,499.2 65.33,499.2 65.44,499.2 65.56,499.2 65.68,499.2 65.8,499.2 65.92,499.2 66.04,499.2 66.16,499.2 66.28,499.1 66.39,499.1 66.51,499.1 66.63,499.1 66.75,499.1 66.87,499.1 66.99,499.1 67.11,499.1 67.23,499 67.34,499 67.46,499 67.58,499 67.7,499.1 67.82,499.2 67.94,499.2 68.06,499.3 68.18,499.3 68.29,499.3 68.41,499.3 68.53,499.4 68.65,499.4 68.77,499.5 68.89,499.5 69.01,499.5 69.13,499.5 69.24,499.4 69.36,499.3 69.48,499.2 69.6,499.1 69.72,499 69.84,499 69.96,499 70.08,499 70.19,499.1 70.31,499.1 70.43,499.1 70.55,499.1 70.67,499 70.79,499 70.91,498.9 71.02,498.9 71.14,498.9 71.26,498.9 71.38,499 71.5,499 71.62,499 71.74,499.1 71.86,499.2 71.97,499.2 72.09,499.2 72.21,499.3 72.33,499.2 72.45,499.2 72.57,499.2 72.69,499.2 72.81,499.2 72.92,499.2 73.04,499.3 73.16,499.3 73.28,499.4 73.4,499.4 73.52,499.4 73.64,499.4 73.76,499.4 73.87,499.3 73.99,499.3 74.11,499.2 74.23,499.2 74.35,499.2 74.47,499.1 74.59,499.1 74.71,499 74.82,498.9 74.94,498.9 75.06,498.8 75.18,498.7 75.3,498.6 75.42,498.6 75.54,498.5 75.66,498.4 75.77,498.3 75.89,498.3 76.01,498.3 76.13,498.3 76.25,498.3 76.37,498.3 76.49,498.3 76.61,498.4 76.72,498.4 76.84,498.4 76.96,498.4 77.08,498.4 77.2,498.3 77.32,498.3 77.44,498.2 77.56,498.1 77.67,498.1 77.79,498 77.91,498.1 78.03,498.1 78.15,498.1 78.27,498.1 78.39,498.1 78.51,498.1 78.62,498.1 78.74,498.1 78.86,498.1 78.98,498.2 79.1,498.2 79.22,498.2 79.34,498.3 79.45,498.3 79.57,498.3 79.69,498.3 79.81,498.3 79.93,498.3 80.05,498.3 80.17,498.3 80.29,498.3 80.4,498.3 80.52,498.3 80.64,498.3 80.76,498.3 80.88,498.2 81,498.2 81.12,498.3 81.24,498.3 81.35,498.4 81.47,498.5 81.59,498.6 81.71,498.7 81.83,498.7 81.95,498.7 82.07,498.7 82.19,498.6 82.3,498.6 82.42,498.5 82.54,498.4 82.66,498.3 82.78,498.2 82.9,498.2 83.02,498.2 83.14,498.3 83.25,498.3 83.37,498.3 83.49,498.2 83.61,498.2 83.73,498.2 83.85,498.3 83.97,498.3 84.09,498.4 84.2,498.5 84.32,498.5 84.44,498.5 84.56,498.4 84.68,498.3 84.8,498.1 84.92,497.9 85.04,497.8 85.15,497.6 85.27,497.6 85.39,497.6 85.51,497.6 85.63,497.6 85.75,497.7 85.87,497.7 85.99,497.8 86.1,497.8 86.22,497.7 86.34,497.7 86.46,497.6 86.58,497.5 86.7,497.4 86.82,497.4 86.94,497.3 87.05,497.2 87.17,497.2 87.29,497.2 87.41,497.1 87.53,497.1 87.65,497.1 87.77,497.1 87.89,497 88,497 88.12,497 88.24,497.1 88.36,497.1 88.48,497.1 88.6,497.2 88.72,497.2 88.83,497.3 88.95,497.3 89.07,497.4 89.19,497.5 89.31,497.5 89.43,497.5 89.55,497.5 89.67,497.5 89.78,497.5 89.9,497.5 90.02,497.5 90.14,497.4 90.26,497.4 90.38,497.3 90.5,497.3 90.62,497.2 90.73,497.2 90.85,497.2 90.97,497.3 91.09,497.3 91.21,497.3 91.33,497.3 91.45,497.3 91.57,497.3 91.68,497.3 91.8,497.3 91.92,497.3 92.04,497.4 92.16,497.5 92.28,497.5 92.4,497.6 92.52,497.6 92.63,497.6 92.75,497.6 92.87,497.6 92.99,497.7 93.11,497.7 93.23,497.7 93.35,497.7 93.47,497.6 93.58,497.6 93.7,497.5 93.82,497.4 93.94,497.3 94.06,497.2 94.18,497.1 94.3,497.1 94.42,497 94.53,497 94.65,497 94.77,497 94.89,497 95.01,497 95.13,497 95.25,497 95.37,497 95.48,497 95.6,497 95.72,497 95.84,497 95.96,497 96.08,497 96.2,496.9 96.32,496.9 96.43,496.9 96.55,496.9 96.67,496.9 96.79,497 96.91,497 97.03,497.1 97.15,497.2 97.26,497.3 97.38,497.4 97.5,497.4 97.62,497.4 97.74,497.4 97.86,497.4 97.98,497.5 98.1,497.5 98.21,497.5 98.33,497.5 98.45,497.5 98.57,497.6 98.69,497.5 98.81,497.5 98.93,497.5 99.05,497.4 99.16,497.3 99.28,497.3 99.4,497.2 99.52,497.2 99.64,497.1 99.76,497 99.88,497 100,496.9 100.11,496.8 100.23,496.7 100.35,496.7 100.47,496.6 100.59,496.6 100.71,496.5 100.83,496.5 100.95,496.5 101.06,496.4 101.18,496.3 101.3,496.3 101.42,496.2 101.54,496.2 101.66,496.1 101.78,496.2 101.9,496.2 102.01,496.3 102.13,496.3 102.25,496.3 102.37,496.3 102.49,496.3 102.61,496.2 102.73,496.2 102.85,496.1 102.96,496.1 103.08,496.1 103.2,496.1 103.32,496.1 103.44,496.1 103.56,496.1 103.68,496 103.8,496 103.91,495.9 104.03,495.8 104.15,495.7 104.27,495.6 104.39,495.5 104.51,495.5 104.63,495.4 104.75,495.4 104.86,495.4 104.98,495.5 105.1,495.5 105.22,495.6 105.34,495.6 105.46,495.6 105.58,495.6 105.7,495.6 105.81,495.6 105.93,495.6 106.05,495.6 106.17,495.7 106.29,495.7 106.41,495.8 106.53,495.8 106.64,495.9 106.76,495.9 106.88,495.9 107,495.9 107.12,496 107.24,496 107.36,496.1 107.48,496.2 107.59,496.2 107.71,496.3 107.83,496.3 107.95,496.3 108.07,496.3 108.19,496.3 108.31,496.3 108.43,496.3 108.54,496.3 108.66,496.3 108.78,496.3 108.9,496.4 109.02,496.4 109.14,496.5 109.26,496.5 109.38,496.5 109.49,496.4 109.61,496.4 109.73,496.4 109.85,496.4 109.97,496.3 110.09,496.3 110.21,496.4 110.33,496.4 110.44,496.4 110.56,496.4 110.68,496.4 110.8,496.4 110.92,496.4 111.04,496.4 111.16,496.5 111.28,496.5 111.39,496.5 111.51,496.5 111.63,496.5 111.75,496.5 111.87,496.4 111.99,496.4 112.11,496.4 112.23,496.4 112.34,496.4 112.46,496.5 112.58,496.6 112.7,496.7 112.82,496.7 112.94,496.8 113.06,496.8 113.18,496.8 113.29,496.8 113.41,496.7 113.53,496.7 113.65,496.6 113.77,496.6 113.89,496.6 114.01,496.6 114.13,496.7 114.24,496.7 114.36,496.7 114.48,496.8 114.6,496.8 114.72,496.9 114.84,497 114.96,497.1 115.07,497.1 115.19,497.2 115.31,497.2 115.43,497.2 115.55,497.3 115.67,497.3 115.79,497.3 115.91,497.3 116.02,497.3 116.14,497.3 116.26,497.3 116.38,497.3 116.5,497.4 116.62,497.4 116.74,497.4 116.86,497.5 116.97,497.5 117.09,497.6 117.21,497.6 117.33,497.6 117.45,497.7 117.57,497.7 117.69,497.7 117.81,497.7 117.92,497.7 118.04,497.7 118.16,497.7 118.28,497.7 118.4,497.6 118.52,497.6 118.64,497.6 118.76,497.5 118.87,497.4 118.99,497.4 119.11,497.3 119.23,497.3 119.35,497.4 119.47,497.4 119.59,497.5 119.71,497.6 119.82,497.7 119.94,497.7 120.06,497.7 120.18,497.7 120.3,497.7 120.42,497.6 120.54,497.6 120.66,497.5 120.77,497.4 120.89,497.4 121.01,497.3 121.13,497.2 121.25,497.2 121.37,497.2 121.49,497.1 121.61,497.1 121.72,497.1 121.84,497.1 121.96,497.1 122.08,497.1 122.2,497.1 122.32,497.1 122.44,497.1 122.56,497.1 122.67,497.1 122.79,497.1 122.91,497.1 123.03,497.1 123.15,497.1 123.27,497.1 123.39,497.1 123.51,497 123.62,497 123.74,496.9 123.86,496.8 123.98,496.7 124.1,496.7 124.22,496.6 124.34,496.7 124.45,496.7 124.57,496.8 124.69,496.8 124.81,496.9 124.93,496.8 125.05,496.8 125.17,496.7 125.29,496.6 125.4,496.5 125.52,496.5 125.64,496.5 125.76,496.4 125.88,496.3 126,496.3 126.12,496.2 126.24,496.1 126.35,496.1 126.47,496.1 126.59,496.2 126.71,496.2 126.83,496.3 126.95,496.4 127.07,496.5 127.19,496.6 127.3,496.6 127.42,496.7 127.54,496.7 127.66,496.7 127.78,496.8 127.9,496.8 128.02,496.7 128.14,496.7 128.25,496.7 128.37,496.7 128.49,496.8 128.61,496.8 128.73,496.9 128.85,496.9 128.97,496.9 129.09,497 129.2,497 129.32,497 129.44,497 129.56,497 129.68,497.1 129.8,497.1 129.92,497.1 130.04,497.2 130.15,497.2 130.27,497.2 130.39,497.2 130.51,497.2 130.63,497.2 130.75,497.2 130.87,497.2 130.99,497.2 131.1,497.2 131.22,497.1 131.34,497.1 131.46,497.1 131.58,497.1 131.7,497.1 131.82,497.1 131.94,497.1 132.05,497.2 132.17,497.2 132.29,497.2 132.41,497.2 132.53,497.2 132.65,497.2 132.77,497.2 132.88,497.1 133,497.1 133.12,497.1 133.24,497 133.36,497 133.48,497 133.6,497 133.72,497 133.83,497 133.95,496.9 134.07,496.9 134.19,496.9 134.31,496.9 134.43,496.9 134.55,496.9 134.67,496.9 134.78,496.9 134.9,497 135.02,497 135.14,497 135.26,496.9 135.38,496.9 135.5,496.8 135.62,496.7 135.73,496.7 135.85,496.7 135.97,496.7 136.09,496.7 136.21,496.7 136.33,496.8 136.45,496.8 136.57,496.8 136.68,496.8 136.8,496.8 136.92,496.8 137.04,496.9 137.16,497 137.28,497 137.4,497.1 137.52,497.2 137.63,497.2 137.75,497.3 137.87,497.3 137.99,497.4 138.11,497.4 138.23,497.5 138.35,497.5 138.47,497.5 138.58,497.6 138.7,497.6 138.82,497.6 138.94,497.6 139.06,497.6 139.18,497.7 139.3,497.7 139.42,497.7 139.53,497.7 139.65,497.7 139.77,497.7 139.89,497.7 140.01,497.8 140.13,497.8 140.25,497.9 140.37,498 140.48,498 140.6,498 140.72,498 140.84,498 140.96,497.9 141.08,497.8 141.2,497.7 141.32,497.6 141.43,497.6 141.55,497.5 141.67,497.5 141.79,497.5 141.91,497.5 142.03,497.5 142.15,497.6 142.26,497.6 142.38,497.7 142.5,497.8 142.62,497.8 142.74,497.8 142.86,497.8 142.98,497.8 143.1,497.7 143.21,497.6 143.33,497.5 143.45,497.5 143.57,497.4 143.69,497.4 143.81,497.4 143.93,497.4 144.05,497.5 144.16,497.6 144.28,497.7 144.4,497.7 144.52,497.8 144.64,497.8 144.76,497.8 144.88,497.8 145,497.8 145.11,497.8 145.23,497.8 145.35,497.9 145.47,497.9 145.59,497.9 145.71,497.9 145.83,497.8 145.95,497.8 146.06,497.7 146.18,497.6 146.3,497.5 146.42,497.4 146.54,497.4 146.66,497.4 146.78,497.5 146.9,497.5 147.01,497.6 147.13,497.6 147.25,497.7 147.37,497.7 147.49,497.7 147.61,497.7 147.73,497.6 147.85,497.6 147.96,497.6 148.08,497.5 148.2,497.5 148.32,497.4 148.44,497.4 148.56,497.3 148.68,497.3 148.8,497.3 148.91,497.3 149.03,497.2 149.15,497.2 149.27,497.1 149.39,497.1 149.51,497 149.63,497 149.75,497 149.86,497 149.98,497 150.1,497 150.22,497 150.34,497 150.46,497 150.58,496.9 150.69,496.9 150.81,496.9 150.93,496.9 151.05,496.9 151.17,497 151.29,497 151.41,497 151.53,497 151.64,497 151.76,497 151.88,496.9 152,496.8 152.12,496.8 152.24,496.7 152.36,496.7 152.48,496.7 152.59,496.7 152.71,496.7 152.83,496.7 152.95,496.8 153.07,496.8 153.19,496.9 153.31,497 153.43,497.1 153.54,497.1 153.66,497.1 153.78,497.1 153.9,497.1 154.02,497.1 154.14,497 154.26,497 154.38,497 154.49,497 154.61,497 154.73,497 154.85,497 154.97,497 155.09,497 155.21,497.1 155.33,497.2 155.44,497.3 155.56,497.4 155.68,497.5 155.8,497.5 155.92,497.5 156.04,497.5 156.16,497.5 156.28,497.5 156.39,497.5 156.51,497.5 156.63,497.5 156.75,497.5 156.87,497.4 156.99,497.4 157.11,497.3 157.23,497.3 157.34,497.3 157.46,497.2 157.58,497.2 157.7,497.2 157.82,497.3 157.94,497.3 158.06,497.3 158.18,497.4 158.29,497.4 158.41,497.4 158.53,497.4 158.65,497.4 158.77,497.4 158.89,497.4 159.01,497.5 159.13,497.5 159.24,497.5 159.36,497.5 159.48,497.5 159.6,497.5 159.72,497.5 159.84,497.4 159.96,497.3 160.07,497.3 160.19,497.2 160.31,497.2 160.43,497.1 160.55,497.1 160.67,497.1 160.79,497.1 160.91,497 161.02,497 161.14,497.1 161.26,497.1 161.38,497.1 161.5,497.1 161.62,497.2 161.74,497.2 161.86,497.2 161.97,497.2 162.09,497.2 162.21,497.2 162.33,497.2 162.45,497.2 162.57,497.2 162.69,497.2 162.81,497.2 162.92,497.2 163.04,497.2 163.16,497.3 163.28,497.3 163.4,497.3 163.52,497.3 163.64,497.3 163.76,497.3 163.87,497.2 163.99,497.2 164.11,497.2 164.23,497.2 164.35,497.3 164.47,497.3 164.59,497.4 164.71,497.5 164.82,497.5 164.94,497.6 165.06,497.6 165.18,497.6 165.3,497.5 165.42,497.5 165.54,497.5 165.66,497.5 165.77,497.4 165.89,497.4 166.01,497.4 166.13,497.4 166.25,497.3 166.37,497.3 166.49,497.3 166.61,497.4 166.72,497.4 166.84,497.4 166.96,497.5 167.08,497.5 167.2,497.5 167.32,497.6 167.44,497.6 167.56,497.6 167.67,497.6 167.79,497.7 167.91,497.7 168.03,497.8 168.15,497.9 168.27,497.9 168.39,497.9 168.5,497.9 168.62,497.9 168.74,497.9 168.86,497.8 168.98,497.7 169.1,497.7 169.22,497.6 169.34,497.6 169.45,497.6 169.57,497.6 169.69,497.6 169.81,497.7 169.93,497.7 170.05,497.7 170.17,497.8 170.29,497.8 170.4,497.7 170.52,497.7 170.64,497.6 170.76,497.5 170.88,497.5 171,497.4 171.12,497.3 171.24,497.3 171.35,497.2 171.47,497.1 171.59,497 171.71,497 171.83,496.9 171.95,496.9 172.07,496.9 172.19,496.9 172.3,497 172.42,497 172.54,497 172.66,497 172.78,497 172.9,496.9 173.02,496.9 173.14,496.9 173.25,496.9 173.37,496.9 173.49,497 173.61,497.1 173.73,497.2 173.85,497.2 173.97,497.2 174.09,497.2 174.2,497.2 174.32,497.2 174.44,497.1 174.56,497.1 174.68,497.1 174.8,497.1 174.92,497.1 175.04,497.2 175.15,497.2 175.27,497.3 175.39,497.3 175.51,497.4 175.63,497.4 175.75,497.4 175.87,497.4 175.99,497.4 176.1,497.4 176.22,497.4 176.34,497.5 176.46,497.5 176.58,497.5 176.7,497.6 176.82,497.6 176.94,497.6 177.05,497.7 177.17,497.7 177.29,497.6 177.41,497.6 177.53,497.5 177.65,497.5 177.77,497.4 177.88,497.3 178,497.2 178.12,497.2 178.24,497.1 178.36,497.1 178.48,497 178.6,497 178.72,497 178.83,497 178.95,497 179.07,497 179.19,497 179.31,496.9 179.43,496.9 179.55,496.9 179.67,496.9 179.78,496.9 179.9,497 180.02,497 180.14,497.1 180.26,497.1 180.38,497.1 180.5,497.1 180.62,497.1 180.73,497.1 180.85,497 180.97,497 181.09,497 181.21,496.9 181.33,496.9 181.45,496.8 181.57,496.8 181.68,496.8 181.8,496.7 181.92,496.7 182.04,496.7 182.16,496.8 182.28,496.8 182.4,496.8 182.52,496.9 182.63,496.9 182.75,496.9 182.87,496.9 182.99,496.9 183.11,497 183.23,497 183.35,497 183.47,497 183.58,497 183.7,496.9 183.82,496.9 183.94,496.9 184.06,496.8 184.18,496.8 184.3,496.8 184.42,496.9 184.53,496.8 184.65,496.8 184.77,496.8 184.89,496.8 185.01,496.8 185.13,496.8 185.25,496.8 185.37,496.8 185.48,496.8 185.6,496.8 185.72,496.8 185.84,496.9 185.96,496.9 186.08,496.9 186.2,496.9 186.31,497 186.43,497 186.55,497 186.67,497 186.79,497.1 186.91,497.1 187.03,497.1 187.15,497.1 187.26,497.2 187.38,497.2 187.5,497.2 187.62,497.3 187.74,497.2 187.86,497.2 187.98,497.1 188.1,497 188.21,496.9 188.33,496.9 188.45,496.8 188.57,496.8 188.69,496.8 188.81,496.8 188.93,496.8 189.05,496.8 189.16,496.9 189.28,496.9 189.4,496.9 189.52,496.9 189.64,497 189.76,497 189.88,497.1 190,497.1 190.11,497.1 190.23,497.1 190.35,497.2 190.47,497.2 190.59,497.2 190.71,497.2 190.83,497.2 190.95,497.2 191.06,497.3 191.18,497.3 191.3,497.3 191.42,497.3 191.54,497.3 191.66,497.3 191.78,497.3 191.9,497.3 192.01,497.3 192.13,497.3 192.25,497.3 192.37,497.3 192.49,497.3 192.61,497.2 192.73,497.2 192.85,497.2 192.96,497.1 193.08,497.1 193.2,497 193.32,496.9 193.44,496.8 193.56,496.8 193.68,496.7 193.8,496.6 193.91,496.6 194.03,496.6 194.15,496.6 194.27,496.6 194.39,496.6 194.51,496.7 194.63,496.7 194.75,496.7 194.86,496.7 194.98,496.7 195.1,496.7 195.22,496.7 195.34,496.7 195.46,496.8 195.58,496.8 195.69,496.8 195.81,496.8 195.93,496.8 196.05,496.8 196.17,496.8 196.29,496.8 196.41,496.8 196.53,496.8 196.64,496.8 196.76,496.7 196.88,496.7 197,496.6 197.12,496.6 197.24,496.6 197.36,496.6 197.48,496.6 197.59,496.5 197.71,496.5 197.83,496.5 197.95,496.4 198.07,496.4 198.19,496.4 198.31,496.4 198.43,496.4 198.54,496.4 198.66,496.5 198.78,496.6 198.9,496.7 199.02,496.7 199.14,496.7 199.26,496.7 199.38,496.7 199.49,496.7 199.61,496.7 199.73,496.7 199.85,496.7 199.97,496.7 200.09,496.7 200.21,496.7 200.33,496.6 200.44,496.6 200.56,496.6 200.68,496.6 200.8,496.6 200.92,496.6 201.04,496.6 201.16,496.7 201.28,496.7 201.39,496.8 201.51,496.8 201.63,496.8 201.75,496.8 201.87,496.8 201.99,496.8 202.11,496.8 202.23,496.8 202.34,496.8 202.46,496.8 202.58,496.8 202.7,496.8 202.82,496.8 202.94,496.8 203.06,496.8 203.18,496.8 203.29,496.8 203.41,496.9 203.53,496.9 203.65,497 203.77,497.1 203.89,497.1 204.01,497.1 204.12,497.1 204.24,497.1 204.36,497.1 204.48,497.1 204.6,497.1 204.72,497.1 204.84,497 204.96,497 205.07,497 205.19,497 205.31,497.1 205.43,497.1 205.55,497.1 205.67,497.1 205.79,497 205.91,497 206.02,497 206.14,497 206.26,497.1 206.38,497.1 206.5,497.1 206.62,497.1 206.74,497.2 206.86,497.2 206.97,497.2 207.09,497.2 207.21,497.2 207.33,497.2 207.45,497.1 207.57,497.1 207.69,497 207.81,497 207.92,497 208.04,496.9 208.16,496.9 208.28,496.9 208.4,496.8 208.52,496.8 208.64,496.8 208.76,496.8 208.87,496.7 208.99,496.7 209.11,496.7 209.23,496.6 209.35,496.6 209.47,496.5 209.59,496.5 209.71,496.4 209.82,496.4 209.94,496.3 210.06,496.3 210.18,496.3 210.3,496.3 210.42,496.3 210.54,496.3 210.66,496.3 210.77,496.2 210.89,496.2 211.01,496.2 211.13,496.2 211.25,496.2 211.37,496.2 211.49,496.3 211.61,496.4 211.72,496.4 211.84,496.5 211.96,496.5 212.08,496.6 212.2,496.6 212.32,496.6 212.44,496.6 212.56,496.7 212.67,496.7 212.79,496.7 212.91,496.7 213.03,496.7 213.15,496.7 213.27,496.7 213.39,496.6 213.5,496.6 213.62,496.6 213.74,496.5 213.86,496.5 213.98,496.5 214.1,496.5 214.22,496.5 214.34,496.5 214.45,496.5 214.57,496.5 214.69,496.6 214.81,496.6 214.93,496.6 215.05,496.6 215.17,496.6 215.29,496.6 215.4,496.5 215.52,496.5 215.64,496.5 215.76,496.5 215.88,496.4 216,496.4 216.12,496.4" stroke="#ff7f0e" stroke-width="2.5" stroke-dasharray="2.64 4.6" stroke-linejoin="round"/>
</g>
<rect x="40.8" y="297.0" width="206.63" height="215.20" fill="none" stroke="#000" stroke-width="1.2"/>
<line x1="50.0" y1="512.2" x2="50.0" y2="516.6" stroke="#000" stroke-width="1.2"/>
<text transform="translate(49.7,532.1) scale(1.116,1)" text-anchor="middle" font-size="14.7">0</text>
<line x1="115.3" y1="512.2" x2="115.3" y2="516.6" stroke="#000" stroke-width="1.2"/>
<text transform="translate(115.0,532.1) scale(1.116,1)" text-anchor="middle" font-size="14.7">500</text>
<line x1="180.6" y1="512.2" x2="180.6" y2="516.6" stroke="#000" stroke-width="1.2"/>
<text transform="translate(180.3,532.1) scale(1.116,1)" text-anchor="middle" font-size="14.7">1000</text>
<line x1="245.9" y1="512.2" x2="245.9" y2="516.6" stroke="#000" stroke-width="1.2"/>
<text transform="translate(245.6,532.1) scale(1.116,1)" text-anchor="middle" font-size="14.7">1500</text>
<line x1="35.3" y1="500.1" x2="40.8" y2="500.1" stroke="#000" stroke-width="1.2"/>
<text transform="translate(29.799999999999997,505.2) scale(1.116,1)" text-anchor="end" font-size="14.7">1.5</text>
<line x1="35.3" y1="463.8" x2="40.8" y2="463.8" stroke="#000" stroke-width="1.2"/>
<text transform="translate(29.799999999999997,468.9) scale(1.116,1)" text-anchor="end" font-size="14.7">2.0</text>
<line x1="35.3" y1="427.5" x2="40.8" y2="427.5" stroke="#000" stroke-width="1.2"/>
<text transform="translate(29.799999999999997,432.7) scale(1.116,1)" text-anchor="end" font-size="14.7">2.5</text>
<line x1="35.3" y1="391.2" x2="40.8" y2="391.2" stroke="#000" stroke-width="1.2"/>
<text transform="translate(29.799999999999997,396.4) scale(1.116,1)" text-anchor="end" font-size="14.7">3.0</text>
<line x1="35.3" y1="354.9" x2="40.8" y2="354.9" stroke="#000" stroke-width="1.2"/>
<text transform="translate(29.799999999999997,360.1) scale(1.116,1)" text-anchor="end" font-size="14.7">3.5</text>
<line x1="35.3" y1="318.6" x2="40.8" y2="318.6" stroke="#000" stroke-width="1.2"/>
<text transform="translate(29.799999999999997,323.8) scale(1.116,1)" text-anchor="end" font-size="14.7">4.0</text>
<text transform="translate(144.17,288.75) scale(1.205,1)" text-anchor="middle" font-size="15.1">val/dfl_loss</text>
<rect x="77" y="483.1" width="165.06" height="27.85" fill="none" stroke="#e8121b" stroke-width="1.7"/>
<rect x="123.4" y="390.3" width="43.40" height="29.60" fill="#fff" stroke="#8c8c8c" stroke-width="1"/>
<text transform="translate(145.0,409.9) scale(1.06,1)" text-anchor="middle" font-size="14" stroke-width="0.1" font-family="'Liberation Sans',sans-serif">C</text>
<g transform="scale(1.1,1)" fill="none">
<polyline points="300.67,506.4 300.79,506.4 300.91,506.4 301.03,506.4 301.15,506.4 301.27,310.1 301.38,406 301.5,314.6 301.62,394.9 301.74,316.8 301.86,412.7 301.98,327.9 302.1,330.2 302.22,399.3 302.33,334.6 302.45,421.6 302.57,348 302.69,354.7 302.81,432.8 302.93,368.1 303.05,406 303.17,446.2 303.28,394.9 303.4,450.6 303.52,417.2 303.64,439.5 303.76,423.9 303.88,412.7 304,443.9 304.11,428.3 304.23,424.8 304.35,420.2 304.47,432.6 304.59,413.5 304.71,419 304.83,412.4 304.95,412.2 305.06,425.6 305.18,423.6 305.3,418.6 305.42,411.2 305.54,409.8 305.66,419.8 305.78,418.3 305.9,418.7 306.01,416.4 306.13,413.3 306.25,411.7 306.37,396.5 306.49,412.4 306.61,410.1 306.73,404.4 306.84,412.6 306.96,408 307.08,404.7 307.2,399.1 307.32,411.2 307.44,393.8 307.56,403.6 307.68,399.6 307.79,394.8 307.91,395.1 308.03,392 308.15,396.6 308.27,397 308.39,394.3 308.51,401.2 308.63,387.7 308.74,398.5 308.86,400.5 308.98,381 309.1,392.7 309.22,397.9 309.34,380.3 309.46,391.8 309.57,383.4 309.69,393.2 309.81,389.3 309.93,396.4 310.05,396.9 310.17,391.2 310.29,385.7 310.41,380.4 310.52,371.2 310.64,388.9 310.76,377.5 310.88,385.4 311,382.5 311.12,388.8 311.24,388.2 311.35,384.1 311.47,385.7 311.59,379.2 311.71,382.3 311.83,371.9 311.95,377.1 312.07,376.7 312.19,371.4 312.3,374.2 312.42,376.6 312.54,376.5 312.66,376.3 312.78,370.1 312.9,371.2 313.02,373 313.14,370.5 313.25,376.8 313.37,371.3 313.49,380.3 313.61,366.7 313.73,372.4 313.85,371.6 313.97,369.3 314.08,371.9 314.2,372.8 314.32,365.6 314.44,370.4 314.56,375 314.68,368.3 314.8,378.1 314.92,362.1 315.03,370.4 315.15,369.1 315.27,358.6 315.39,358.9 315.51,368.1 315.63,365.6 315.75,363.2 315.87,360.3 315.98,368.5 316.1,367.1 316.22,361.9 316.34,366.1 316.46,363.7 316.58,364.2 316.7,372 316.81,370.6 316.93,378.4 317.05,367.5 317.17,360.1 317.29,371 317.41,360.3 317.53,361.2 317.65,365.8 317.76,365.4 317.88,364.8 318,368.9 318.12,366.1 318.24,364.9 318.36,361.8 318.48,360.9 318.6,367.5 318.71,360.4 318.83,367.4 318.95,364.5 319.07,362 319.19,363.6 319.31,363.9 319.43,362.1 319.54,365.5 319.66,365.8 319.78,363.7 319.9,358.5 320.02,363 320.14,354.2 320.26,361.4 320.38,375 320.49,363.9 320.61,354.7 320.73,361.8 320.85,363.5 320.97,365.3 321.09,355.7 321.21,357 321.32,358.3 321.44,359.2 321.56,354.7 321.68,357.2 321.8,365.9 321.92,357.2 322.04,359.6 322.16,360.7 322.27,356.9 322.39,359.9 322.51,372.3 322.63,353.1 322.75,355.2 322.87,360 322.99,360.9 323.11,358.2 323.22,364.4 323.34,357.6 323.46,359.7 323.58,360.1 323.7,362.3 323.82,361.1 323.94,353.5 324.05,352.4 324.17,355.7 324.29,357.9 324.41,361.2 324.53,354.4 324.65,350.5 324.77,363.8 324.89,352 325,365.7 325.12,358 325.24,354.8 325.36,361.9 325.48,362.4 325.6,355.2 325.72,352.2 325.84,357.6 325.95,349.9 326.07,358.5 326.19,347.9 326.31,354.5 326.43,353.9 326.55,352.2 326.67,353.2 326.78,346.8 326.9,345.2 327.02,351.8 327.14,354.6 327.26,358.6 327.38,356.7 327.5,353.5 327.62,353.8 327.73,353.5 327.85,353.2 327.97,351.1 328.09,358.5 328.21,357 328.33,348.3 328.45,349.3 328.57,354.8 328.68,347.3 328.8,355.3 328.92,353.5 329.04,359.8 329.16,348.9 329.28,352.3 329.4,347.9 329.51,349.3 329.63,351.7 329.75,351.4 329.87,347.2 329.99,352.6 330.11,352.5 330.23,351.5 330.35,348.5 330.46,348 330.58,344 330.7,351.9 330.82,346.4 330.94,354 331.06,348.9 331.18,350.8 331.29,344.3 331.41,348.7 331.53,352.9 331.65,348.7 331.77,349.6 331.89,352.2 332.01,352 332.13,354.5 332.24,339.9 332.36,350.2 332.48,346.8 332.6,355.2 332.72,354.8 332.84,351.1 332.96,351 333.08,347.2 333.19,354.2 333.31,348.1 333.43,344.2 333.55,353.7 333.67,346.5 333.79,353.7 333.91,348.6 334.02,348.4 334.14,343 334.26,352.4 334.38,348.9 334.5,345.5 334.62,354 334.74,349.4 334.86,352.6 334.97,351.9 335.09,346.4 335.21,346.2 335.33,338.8 335.45,343.4 335.57,343.6 335.69,349.1 335.81,349.5 335.92,347.7 336.04,356.9 336.16,341.7 336.28,350.5 336.4,351.9 336.52,349.5 336.64,344.3 336.75,342.8 336.87,348.9 336.99,345.6 337.11,347.4 337.23,350.9 337.35,346.3 337.47,346.8 337.59,352.7 337.7,342.5 337.82,352.6 337.94,345.6 338.06,350.4 338.18,349.3 338.3,348.8 338.42,343.4 338.54,350.7 338.65,346.5 338.77,339.8 338.89,348.2 339.01,345.6 339.13,342.9 339.25,347.5 339.37,343.4 339.48,347.6 339.6,342.3 339.72,344.6 339.84,348.3 339.96,339.3 340.08,344.9 340.2,345.5 340.32,347.8 340.43,346 340.55,344.5 340.67,343.4 340.79,339.8 340.91,348.8 341.03,345 341.15,339.2 341.27,342.9 341.38,341.9 341.5,337.4 341.62,342 341.74,341.4 341.86,343.2 341.98,336.4 342.1,338.9 342.21,345.4 342.33,340.6 342.45,346.8 342.57,338.4 342.69,339.9 342.81,342.8 342.93,343.6 343.05,348.7 343.16,339.1 343.28,342.3 343.4,342.9 343.52,339 343.64,344 343.76,343.6 343.88,343.9 343.99,346.2 344.11,332.4 344.23,341.8 344.35,342.3 344.47,337.6 344.59,352.3 344.71,340.8 344.83,340.6 344.94,344 345.06,338.7 345.18,347.7 345.3,340.2 345.42,337 345.54,348.2 345.66,345.3 345.78,340.6 345.89,340 346.01,342.2 346.13,338.5 346.25,338.9 346.37,344.6 346.49,340 346.61,344.2 346.72,347 346.84,348.1 346.96,335.6 347.08,339.7 347.2,332.1 347.32,344.3 347.44,340.3 347.56,337.7 347.67,339.3 347.79,336.9 347.91,338.1 348.03,340.7 348.15,346.7 348.27,341.7 348.39,332.1 348.51,335.4 348.62,333.1 348.74,340 348.86,338.5 348.98,340.8 349.1,336.2 349.22,337.3 349.34,335.8 349.45,331.1 349.57,340.2 349.69,334.6 349.81,342 349.93,333.1 350.05,338.5 350.17,337.1 350.29,336.2 350.4,330.8 350.52,336.7 350.64,338.2 350.76,340.5 350.88,335.3 351,339.2 351.12,337.9 351.24,336.1 351.35,333.6 351.47,338.4 351.59,333.5 351.71,329.5 351.83,340.8 351.95,330.8 352.07,328 352.18,337.4 352.3,333.2 352.42,340 352.54,333.9 352.66,336.2 352.78,333.9 352.9,338 353.02,337.6 353.13,336.3 353.25,337.1 353.37,336.7 353.49,335.2 353.61,338.2 353.73,334.8 353.85,332.6 353.96,342.1 354.08,333.4 354.2,336.6 354.32,337.8 354.44,338.5 354.56,336.7 354.68,336.3 354.8,332.5 354.91,338 355.03,330 355.15,336.3 355.27,331.1 355.39,329.7 355.51,337.5 355.63,329.6 355.75,325.8 355.86,334.6 355.98,331 356.1,333.3 356.22,332.6 356.34,333.4 356.46,334.4 356.58,330.2 356.69,329.6 356.81,332.5 356.93,327.3 357.05,328.7 357.17,330 357.29,334.7 357.41,325.9 357.53,327.7 357.64,339.3 357.76,335.8 357.88,333.6 358,328.9 358.12,327.8 358.24,332.9 358.36,331 358.48,329.5 358.59,336 358.71,329.8 358.83,332.7 358.95,331 359.07,331.8 359.19,335.5 359.31,334.8 359.42,331.3 359.54,331 359.66,332.3 359.78,327.9 359.9,332.5 360.02,335.3 360.14,332.4 360.26,331.8 360.37,331.6 360.49,327.3 360.61,329.4 360.73,327.6 360.85,329 360.97,331.5 361.09,327.5 361.21,331.7 361.32,330 361.44,334.1 361.56,330.4 361.68,331.8 361.8,329.5 361.92,324.8 362.04,322.9 362.15,327.3 362.27,330.6 362.39,327.8 362.51,329.7 362.63,332.4 362.75,330.6 362.87,331.1 362.99,332.2 363.1,325.8 363.22,332 363.34,331.8 363.46,327.9 363.58,332.3 363.7,333.7 363.82,332.7 363.93,328.4 364.05,328.7 364.17,328.9 364.29,331.3 364.41,332.7 364.53,326.8 364.65,334.3 364.77,330.3 364.88,333.8 365,330.8 365.12,330 365.24,325.5 365.36,338.5 365.48,325 365.6,332.1 365.72,328.3 365.83,326.6 365.95,331.5 366.07,329.3 366.19,327.4 366.31,329.3 366.43,331.2 366.55,328.2 366.66,328.4 366.78,333.4 366.9,324.4 367.02,327.9 367.14,336.1 367.26,331.1 367.38,323.1 367.5,323.4 367.61,327.5 367.73,333.5 367.85,329 367.97,324.9 368.09,326.9 368.21,329.1 368.33,330.3 368.45,325.4 368.56,328.6 368.68,326.8 368.8,326.3 368.92,322.7 369.04,327.1 369.16,326.8 369.28,333.1 369.39,324.1 369.51,324.7 369.63,327.5 369.75,334.3 369.87,329 369.99,327 370.11,320.8 370.23,325.4 370.34,324.7 370.46,324.6 370.58,322.9 370.7,330.4 370.82,329.5 370.94,330.4 371.06,327.7 371.18,327.8 371.29,326.4 371.41,329.8 371.53,326.3 371.65,329.1 371.77,320.1 371.89,328.1 372.01,318.7 372.12,321.4 372.24,329.9 372.36,323.4 372.48,324.4 372.6,330.8 372.72,324.3 372.84,326.4 372.96,325 373.07,328.6 373.19,326.2 373.31,324.7 373.43,326.5 373.55,327.7 373.67,326.4 373.79,328.8 373.91,324.8 374.02,333.4 374.14,321.4 374.26,325.6 374.38,324.4 374.5,323.3 374.62,329.5 374.74,319.1 374.85,329.1 374.97,324.4 375.09,324.8 375.21,321.9 375.33,325.8 375.45,329.9 375.57,324.8 375.69,333 375.8,326.3 375.92,327.1 376.04,321.2 376.16,326.6 376.28,327 376.4,327.9 376.52,328.2 376.63,327.3 376.75,324 376.87,329.5 376.99,326.3 377.11,329.9 377.23,326.2 377.35,325.2 377.47,329.3 377.58,327.3 377.7,325.4 377.82,323.5 377.94,323 378.06,326 378.18,328.6 378.3,330.3 378.42,323.4 378.53,321.7 378.65,324.6 378.77,321.2 378.89,327 379.01,326.8 379.13,321.2 379.25,328.5 379.36,323.9 379.48,324.5 379.6,325.2 379.72,320.7 379.84,328.1 379.96,326.8 380.08,331.5 380.2,328.6 380.31,327 380.43,326.7 380.55,326.2 380.67,324.7 380.79,327.4 380.91,331.1 381.03,325.1 381.15,324.4 381.26,328.8 381.38,327.7 381.5,320.6 381.62,322.7 381.74,322.5 381.86,323.7 381.98,325.1 382.09,327 382.21,324 382.33,326.1 382.45,326.8 382.57,325.6 382.69,325.8 382.81,323.2 382.93,328.3 383.04,318.8 383.16,328.5 383.28,326.9 383.4,323.2 383.52,328.1 383.64,327.1 383.76,325.8 383.88,334 383.99,327.3 384.11,328.5 384.23,326.6 384.35,324.6 384.47,324.2 384.59,321.9 384.71,322.1 384.82,323.2 384.94,326.1 385.06,323.2 385.18,328.8 385.3,326.4 385.42,322.2 385.54,324 385.66,329.9 385.77,327.8 385.89,323.7 386.01,324.5 386.13,323.3 386.25,331 386.37,329.6 386.49,326.9 386.6,328.9 386.72,326.3 386.84,326.2 386.96,325.4 387.08,326.7 387.2,324.8 387.32,324.2 387.44,325.9 387.55,329.6 387.67,322.9 387.79,325.8 387.91,325.3 388.03,326 388.15,330.7 388.27,324.9 388.39,328.2 388.5,329.7 388.62,323.1 388.74,327.3 388.86,325.8 388.98,324.2 389.1,322.3 389.22,331.3 389.33,328.5 389.45,324.8 389.57,328.4 389.69,335.2 389.81,326.3 389.93,326.1 390.05,324.6 390.17,326.1 390.28,327.9 390.4,326.2 390.52,326.8 390.64,328.1 390.76,326.1 390.88,325.8 391,329.4 391.12,324.1 391.23,324.6 391.35,324.7 391.47,333.8 391.59,326.4 391.71,327 391.83,329.2 391.95,325.2 392.06,330.4 392.18,323.4 392.3,325.5 392.42,327.8 392.54,322.8 392.66,325.2 392.78,325.5 392.9,329.6 393.01,324.9 393.13,322.6 393.25,323.4 393.37,329.4 393.49,322.6 393.61,322 393.73,323.8 393.85,326.9 393.96,329.7 394.08,328.1 394.2,327.2 394.32,325.1 394.44,324.3 394.56,327.5 394.68,329.7 394.79,326.6 394.91,328.8 395.03,322.2 395.15,328.5 395.27,324.2 395.39,323.3 395.51,327.8 395.63,322.8 395.74,325.6 395.86,327.2 395.98,327.5 396.1,324.8 396.22,322.4 396.34,329.7 396.46,323.5 396.57,325.3 396.69,326.7 396.81,325.1 396.93,324.8 397.05,324.9 397.17,322.7 397.29,326.8 397.41,319.8 397.52,322.4 397.64,325.9 397.76,329.1 397.88,324.4 398,325.3 398.12,322.5 398.24,322.5 398.36,319.6 398.47,324.5 398.59,322.2 398.71,325.1 398.83,324.9 398.95,320.4 399.07,324.3 399.19,324.2 399.3,324.8 399.42,323.2 399.54,322.5 399.66,324.2 399.78,326.6 399.9,323.1 400.02,325.8 400.14,324.7 400.25,323.3 400.37,323.2 400.49,329.3 400.61,319.8 400.73,321.9 400.85,319.2 400.97,317.9 401.09,326 401.2,325.1 401.32,323.2 401.44,321.6 401.56,325 401.68,324.5 401.8,321.3 401.92,325.8 402.03,323.3 402.15,321.2 402.27,324.4 402.39,322 402.51,324 402.63,327.4 402.75,325 402.87,324.2 402.98,324.5 403.1,323.7 403.22,322.9 403.34,323.1 403.46,323.4 403.58,324.8 403.7,324.3 403.82,324.6 403.93,325.1 404.05,320.7 404.17,328.1 404.29,323.3 404.41,327.5 404.53,325.2 404.65,322 404.76,324.5 404.88,320.7 405,326 405.12,324.5 405.24,325.3 405.36,323.8 405.48,324.6 405.6,324.7 405.71,323.7 405.83,321.4 405.95,323.6 406.07,323.8 406.19,324.6 406.31,325.5 406.43,327.1 406.55,326.3 406.66,323.9 406.78,328.2 406.9,322.5 407.02,324.9 407.14,326.1 407.26,325.2 407.38,322.6 407.49,323.2 407.61,323.4 407.73,320.1 407.85,318.9 407.97,326.7 408.09,322 408.21,325.5 408.33,326.8 408.44,324.9 408.56,321.6 408.68,324.4 408.8,324.7 408.92,320.7 409.04,322.6 409.16,323.8 409.27,319.7 409.39,322.5 409.51,325.1 409.63,325.9 409.75,324.4 409.87,323.1 409.99,321.5 410.11,321.7 410.22,323.2 410.34,325.9 410.46,321.5 410.58,323.3 410.7,325.8 410.82,326.1 410.94,323 411.06,322.8 411.17,321.8 411.29,326.1 411.41,319.5 411.53,327.3 411.65,323.6 411.77,320.7 411.89,321.4 412,325.5 412.12,322.3 412.24,321 412.36,322.1 412.48,325.6 412.6,320.2 412.72,327 412.84,323.6 412.95,326 413.07,324.7 413.19,324.6 413.31,323 413.43,326.7 413.55,323.7 413.67,321.6 413.79,324.2 413.9,323.3 414.02,323.7 414.14,326.2 414.26,325.5 414.38,324.7 414.5,323.9 414.62,320.9 414.73,321.7 414.85,326 414.97,326 415.09,327.2 415.21,329.8 415.33,322.5 415.45,324 415.57,328.9 415.68,325 415.8,320.2 415.92,323.9 416.04,323.8 416.16,324.3 416.28,326.2 416.4,326.9 416.52,326.1 416.63,324.1 416.75,324.8 416.87,322.8 416.99,320.6 417.11,322.8 417.23,322.3 417.35,324.5 417.46,326.3 417.58,319.4 417.7,322.1 417.82,321.1 417.94,324.1 418.06,326.6 418.18,320.6 418.3,327.3 418.41,323.3 418.53,324 418.65,322.4 418.77,321.2 418.89,321.1 419.01,326.6 419.13,320.6 419.24,326.1 419.36,321 419.48,323.1 419.6,324.4 419.72,323.1 419.84,324.6 419.96,322 420.08,320.1 420.19,320.3 420.31,321.7 420.43,319.6 420.55,320.7 420.67,317.6 420.79,320.6 420.91,322.7 421.03,322.1 421.14,323 421.26,322.1 421.38,321.8 421.5,320.2 421.62,320 421.74,321.4 421.86,320.7 421.97,322.8 422.09,322.5 422.21,326 422.33,322.9 422.45,322.3 422.57,316.6 422.69,323.9 422.81,321.3 422.92,322 423.04,324.3 423.16,320.9 423.28,321.3 423.4,324 423.52,325.6 423.64,321.4 423.76,323.9 423.87,320.1 423.99,321.8 424.11,320.3 424.23,321.8 424.35,318.5 424.47,320 424.59,318.5 424.7,321 424.82,323.1 424.94,323.8 425.06,322.1 425.18,320.7 425.3,322.3 425.42,316.8 425.54,321.3 425.65,320.3 425.77,321 425.89,323.4 426.01,319.2 426.13,320 426.25,319.6 426.37,322.7 426.49,321 426.6,321.1 426.72,319 426.84,323.5 426.96,319.9 427.08,318.8 427.2,321.8 427.32,322.4 427.43,318.7 427.55,320.6 427.67,319.1 427.79,319.7 427.91,319.2 428.03,321.4 428.15,324.7 428.27,320.1 428.38,322.3 428.5,320.1 428.62,322.1 428.74,318.4 428.86,321.6 428.98,319.8 429.1,319.3 429.21,321.4 429.33,320.7 429.45,321.3 429.57,322.9 429.69,318.9 429.81,322.9 429.93,324.1 430.05,322.3 430.16,321.2 430.28,321.4 430.4,322.1 430.52,322.3 430.64,325.2 430.76,320.6 430.88,318.7 431,322.9 431.11,324.7 431.23,320.5 431.35,322 431.47,328.4 431.59,323 431.71,324.2 431.83,323.8 431.94,318.6 432.06,320.3 432.18,322.2 432.3,321.9 432.42,319.4 432.54,323.8 432.66,320.8 432.78,323 432.89,320.7 433.01,321.7 433.13,323.2 433.25,320.3 433.37,321.2 433.49,319.1 433.61,322.7 433.73,321.8 433.84,323.1 433.96,319.9 434.08,323 434.2,321.8 434.32,319.6 434.44,320.7 434.56,321 434.67,320.9 434.79,320.7 434.91,320.1 435.03,321.5 435.15,324 435.27,318.6 435.39,322.2 435.51,317.5 435.62,319.8 435.74,315.1 435.86,318.1 435.98,319.1 436.1,318.2 436.22,321.6 436.34,319 436.46,319.7 436.57,318.9 436.69,322 436.81,322.1 436.93,317.4 437.05,318.3 437.17,318.9 437.29,318.2 437.4,318.9 437.52,318.5 437.64,316.6 437.76,317.9 437.88,316.3 438,318.3 438.12,319.9 438.24,318 438.35,317.2 438.47,318.6 438.59,317.4 438.71,317.5 438.83,315.4 438.95,315.5 439.07,315.1 439.19,317.8 439.3,316.2 439.42,314.8 439.54,316.5 439.66,316.9 439.78,317.9 439.9,315.6 440.02,316.6 440.13,315.5 440.25,317.2 440.37,314 440.49,317.1 440.61,318.9 440.73,316.8 440.85,316.5 440.97,315.4 441.08,318 441.2,318.1 441.32,317.7 441.44,318 441.56,320.5 441.68,316.5 441.8,315.8 441.91,318.7 442.03,319 442.15,317.9 442.27,318.9 442.39,316.6 442.51,318.7 442.63,317 442.75,319.6 442.86,319.9 442.98,320.1 443.1,320 443.22,317.5 443.34,317 443.46,318 443.58,318 443.7,321.4 443.81,316.9 443.93,320.2 444.05,316.8 444.17,315.4 444.29,318.7 444.41,318 444.53,318.1 444.64,320.9 444.76,320.7 444.88,320.3 445,319.2 445.12,318.5 445.24,319.6 445.36,318.4 445.48,320.6 445.59,322 445.71,320.2 445.83,320.4 445.95,322.4 446.07,319.3 446.19,322 446.31,321.9 446.43,320.8 446.54,322.6 446.66,320.5 446.78,320.9 446.9,321 447.02,321.7 447.14,322.5 447.26,322.9 447.37,321.7 447.49,320.5 447.61,321.3 447.73,322 447.85,321.3 447.97,321 448.09,324.4 448.21,322.9 448.32,321.4 448.44,323.8 448.56,323.7 448.68,322.4 448.8,323.5 448.92,321.7 449.04,323.6 449.16,322.5 449.27,320.2 449.39,321.9 449.51,325 449.63,324.6 449.75,324.5 449.87,323.3 449.99,325 450.1,322.6 450.22,321.2 450.34,321.4 450.46,324.2 450.58,323.6 450.7,323.6 450.82,324.2 450.94,321.2 451.05,324 451.17,324.5 451.29,322.8 451.41,322.8 451.53,321.4 451.65,321.3 451.77,323.3 451.88,325.6 452,322.3 452.12,322.2 452.24,321 452.36,324.9 452.48,324.4 452.6,321.2 452.72,321.1 452.83,321.5 452.95,323 453.07,321.4 453.19,323.5 453.31,324.2 453.43,322.8 453.55,322.6 453.67,321.8 453.78,321.4 453.9,324.5 454.02,322.2 454.14,321.9 454.26,323.8 454.38,322.6 454.5,322.2 454.61,321.7 454.73,323 454.85,322.7 454.97,323.2 455.09,321.5 455.21,322.2 455.33,322.4 455.45,321 455.56,321.8 455.68,322.9 455.8,320.3 455.92,320.4 456.04,320.9 456.16,322.4 456.28,320.1 456.4,321.8 456.51,323.1 456.63,321.2 456.75,319.1 456.87,321.4 456.99,320.2 457.11,319.4 457.23,320.5 457.34,321 457.46,320.6 457.58,319.9 457.7,320.9 457.82,320 457.94,319.7 458.06,320.6 458.18,319.5 458.29,319.5 458.41,320.4 458.53,320.2 458.65,319.8 458.77,320 458.89,320 459.01,320.7 459.13,319.6 459.24,318.9 459.36,319 459.48,320.3 459.6,318.9 459.72,318.8 459.84,320.2 459.96,318.8 460.07,319.4 460.19,319.5 460.31,318.9 460.43,319.3 460.55,321.1 460.67,318.8 460.79,320 460.91,319 461.02,318.2 461.14,319 461.26,319.1 461.38,318.5 461.5,318.2 461.62,319.3 461.74,319.1 461.85,318 461.97,317 462.09,318.3 462.21,317.5 462.33,318.9 462.45,318.2 462.57,318.1 462.69,319.2 462.8,318.1 462.92,318.2 463.04,320.2 463.16,318 463.28,317.6 463.4,317.6 463.52,317.5 463.64,318.8 463.75,318.5 463.87,318 463.99,318.6 464.11,318.2 464.23,316.7 464.35,318.6 464.47,318.2 464.58,316.3 464.7,318.1 464.82,318.9 464.94,317.8 465.06,318 465.18,318.1 465.3,319.7 465.42,318 465.53,318 465.65,316.6 465.77,317.9 465.89,318.9 466.01,318.3 466.13,318 466.25,318.8 466.37,318.8 466.48,317.6 466.6,318.4 466.72,318.5 466.84,319.8 466.96,318.7 467.08,320.8 467.2,318 467.31,319.6 467.43,318.7 467.55,318 467.67,320.3 467.79,318.3 467.91,319.2 468.03,318.4 468.15,319.7 468.26,320 468.38,318.3 468.5,319.1 468.62,319.4 468.74,320.5 468.86,318.3 468.98,319.8 469.1,319.7 469.21,320.1 469.33,319.5 469.45,319 469.57,319.6 469.69,319.7 469.81,320.1 469.93,318.3 470.04,318.2 470.16,319.9 470.28,320.4 470.4,319.4 470.52,321.1 470.64,319.4" stroke="#1f77b4" stroke-width="3.6" stroke-linejoin="round"/>
<path d="M300.67 506.4h0M300.79 506.4h0M300.91 506.4h0M301.03 506.4h0M301.15 506.4h0M301.27 310.1h0M301.38 406h0M301.5 314.6h0M301.62 394.9h0M301.74 316.8h0M301.86 412.7h0M301.98 327.9h0M302.1 330.2h0M302.22 399.3h0M302.33 334.6h0M302.45 421.6h0M302.57 348h0M302.69 354.7h0M302.81 432.8h0M302.93 368.1h0M303.05 406h0M303.17 446.2h0M303.28 394.9h0M303.4 450.6h0M303.52 417.2h0M303.64 439.5h0M303.76 423.9h0M303.88 412.7h0M304 443.9h0M304.11 428.3h0M304.23 424.8h0M304.35 420.2h0M304.47 432.6h0M304.59 413.5h0M304.71 419h0M304.83 412.4h0M304.95 412.2h0M305.06 425.6h0M305.18 423.6h0M305.3 418.6h0M305.42 411.2h0M305.54 409.8h0M305.66 419.8h0M305.78 418.3h0M305.9 418.7h0M306.01 416.4h0M306.13 413.3h0M306.25 411.7h0M306.37 396.5h0M306.49 412.4h0M306.61 410.1h0M306.73 404.4h0M306.84 412.6h0M306.96 408h0M307.08 404.7h0M307.2 399.1h0M307.32 411.2h0M307.44 393.8h0M307.56 403.6h0M307.68 399.6h0M307.79 394.8h0M307.91 395.1h0M308.03 392h0M308.15 396.6h0M308.27 397h0M308.39 394.3h0M308.51 401.2h0M308.63 387.7h0M308.74 398.5h0M308.86 400.5h0M308.98 381h0M309.1 392.7h0M309.22 397.9h0M309.34 380.3h0M309.46 391.8h0M309.57 383.4h0M309.69 393.2h0M309.81 389.3h0M309.93 396.4h0M310.05 396.9h0M310.17 391.2h0M310.29 385.7h0M310.41 380.4h0M310.52 371.2h0M310.64 388.9h0M310.76 377.5h0M310.88 385.4h0M311 382.5h0M311.12 388.8h0M311.24 388.2h0M311.35 384.1h0M311.47 385.7h0M311.59 379.2h0M311.71 382.3h0M311.83 371.9h0M311.95 377.1h0M312.07 376.7h0M312.19 371.4h0M312.3 374.2h0M312.42 376.6h0M312.54 376.5h0M312.66 376.3h0M312.78 370.1h0M312.9 371.2h0M313.02 373h0M313.14 370.5h0M313.25 376.8h0M313.37 371.3h0M313.49 380.3h0M313.61 366.7h0M313.73 372.4h0M313.85 371.6h0M313.97 369.3h0M314.08 371.9h0M314.2 372.8h0M314.32 365.6h0M314.44 370.4h0M314.56 375h0M314.68 368.3h0M314.8 378.1h0M314.92 362.1h0M315.03 370.4h0M315.15 369.1h0M315.27 358.6h0M315.39 358.9h0M315.51 368.1h0M315.63 365.6h0M315.75 363.2h0M315.87 360.3h0M315.98 368.5h0M316.1 367.1h0M316.22 361.9h0M316.34 366.1h0M316.46 363.7h0M316.58 364.2h0M316.7 372h0M316.81 370.6h0M316.93 378.4h0M317.05 367.5h0M317.17 360.1h0M317.29 371h0M317.41 360.3h0M317.53 361.2h0M317.65 365.8h0M317.76 365.4h0M317.88 364.8h0M318 368.9h0M318.12 366.1h0M318.24 364.9h0M318.36 361.8h0M318.48 360.9h0M318.6 367.5h0M318.71 360.4h0M318.83 367.4h0M318.95 364.5h0M319.07 362h0M319.19 363.6h0M319.31 363.9h0M319.43 362.1h0M319.54 365.5h0M319.66 365.8h0M319.78 363.7h0M319.9 358.5h0M320.02 363h0M320.14 354.2h0M320.26 361.4h0M320.38 375h0M320.49 363.9h0M320.61 354.7h0M320.73 361.8h0M320.85 363.5h0M320.97 365.3h0M321.09 355.7h0M321.21 357h0M321.32 358.3h0M321.44 359.2h0M321.56 354.7h0M321.68 357.2h0M321.8 365.9h0M321.92 357.2h0M322.04 359.6h0M322.16 360.7h0M322.27 356.9h0M322.39 359.9h0M322.51 372.3h0M322.63 353.1h0M322.75 355.2h0M322.87 360h0M322.99 360.9h0M323.11 358.2h0M323.22 364.4h0M323.34 357.6h0M323.46 359.7h0M323.58 360.1h0M323.7 362.3h0M323.82 361.1h0M323.94 353.5h0M324.05 352.4h0M324.17 355.7h0M324.29 357.9h0M324.41 361.2h0M324.53 354.4h0M324.65 350.5h0M324.77 363.8h0M324.89 352h0M325 365.7h0M325.12 358h0M325.24 354.8h0M325.36 361.9h0M325.48 362.4h0M325.6 355.2h0M325.72 352.2h0M325.84 357.6h0M325.95 349.9h0M326.07 358.5h0M326.19 347.9h0M326.31 354.5h0M326.43 353.9h0M326.55 352.2h0M326.67 353.2h0M326.78 346.8h0M326.9 345.2h0M327.02 351.8h0M327.14 354.6h0M327.26 358.6h0M327.38 356.7h0M327.5 353.5h0M327.62 353.8h0M327.73 353.5h0M327.85 353.2h0M327.97 351.1h0M328.09 358.5h0M328.21 357h0M328.33 348.3h0M328.45 349.3h0M328.57 354.8h0M328.68 347.3h0M328.8 355.3h0M328.92 353.5h0M329.04 359.8h0M329.16 348.9h0M329.28 352.3h0M329.4 347.9h0M329.51 349.3h0M329.63 351.7h0M329.75 351.4h0M329.87 347.2h0M329.99 352.6h0M330.11 352.5h0M330.23 351.5h0M330.35 348.5h0M330.46 348h0M330.58 344h0M330.7 351.9h0M330.82 346.4h0M330.94 354h0M331.06 348.9h0M331.18 350.8h0M331.29 344.3h0M331.41 348.7h0M331.53 352.9h0M331.65 348.7h0M331.77 349.6h0M331.89 352.2h0M332.01 352h0M332.13 354.5h0M332.24 339.9h0M332.36 350.2h0M332.48 346.8h0M332.6 355.2h0M332.72 354.8h0M332.84 351.1h0M332.96 351h0M333.08 347.2h0M333.19 354.2h0M333.31 348.1h0M333.43 344.2h0M333.55 353.7h0M333.67 346.5h0M333.79 353.7h0M333.91 348.6h0M334.02 348.4h0M334.14 343h0M334.26 352.4h0M334.38 348.9h0M334.5 345.5h0M334.62 354h0M334.74 349.4h0M334.86 352.6h0M334.97 351.9h0M335.09 346.4h0M335.21 346.2h0M335.33 338.8h0M335.45 343.4h0M335.57 343.6h0M335.69 349.1h0M335.81 349.5h0M335.92 347.7h0M336.04 356.9h0M336.16 341.7h0M336.28 350.5h0M336.4 351.9h0M336.52 349.5h0M336.64 344.3h0M336.75 342.8h0M336.87 348.9h0M336.99 345.6h0M337.11 347.4h0M337.23 350.9h0M337.35 346.3h0M337.47 346.8h0M337.59 352.7h0M337.7 342.5h0M337.82 352.6h0M337.94 345.6h0M338.06 350.4h0M338.18 349.3h0M338.3 348.8h0M338.42 343.4h0M338.54 350.7h0M338.65 346.5h0M338.77 339.8h0M338.89 348.2h0M339.01 345.6h0M339.13 342.9h0M339.25 347.5h0M339.37 343.4h0M339.48 347.6h0M339.6 342.3h0M339.72 344.6h0M339.84 348.3h0M339.96 339.3h0M340.08 344.9h0M340.2 345.5h0M340.32 347.8h0M340.43 346h0M340.55 344.5h0M340.67 343.4h0M340.79 339.8h0M340.91 348.8h0M341.03 345h0M341.15 339.2h0M341.27 342.9h0M341.38 341.9h0M341.5 337.4h0M341.62 342h0M341.74 341.4h0M341.86 343.2h0M341.98 336.4h0M342.1 338.9h0M342.21 345.4h0M342.33 340.6h0M342.45 346.8h0M342.57 338.4h0M342.69 339.9h0M342.81 342.8h0M342.93 343.6h0M343.05 348.7h0M343.16 339.1h0M343.28 342.3h0M343.4 342.9h0M343.52 339h0M343.64 344h0M343.76 343.6h0M343.88 343.9h0M343.99 346.2h0M344.11 332.4h0M344.23 341.8h0M344.35 342.3h0M344.47 337.6h0M344.59 352.3h0M344.71 340.8h0M344.83 340.6h0M344.94 344h0M345.06 338.7h0M345.18 347.7h0M345.3 340.2h0M345.42 337h0M345.54 348.2h0M345.66 345.3h0M345.78 340.6h0M345.89 340h0M346.01 342.2h0M346.13 338.5h0M346.25 338.9h0M346.37 344.6h0M346.49 340h0M346.61 344.2h0M346.72 347h0M346.84 348.1h0M346.96 335.6h0M347.08 339.7h0M347.2 332.1h0M347.32 344.3h0M347.44 340.3h0M347.56 337.7h0M347.67 339.3h0M347.79 336.9h0M347.91 338.1h0M348.03 340.7h0M348.15 346.7h0M348.27 341.7h0M348.39 332.1h0M348.51 335.4h0M348.62 333.1h0M348.74 340h0M348.86 338.5h0M348.98 340.8h0M349.1 336.2h0M349.22 337.3h0M349.34 335.8h0M349.45 331.1h0M349.57 340.2h0M349.69 334.6h0M349.81 342h0M349.93 333.1h0M350.05 338.5h0M350.17 337.1h0M350.29 336.2h0M350.4 330.8h0M350.52 336.7h0M350.64 338.2h0M350.76 340.5h0M350.88 335.3h0M351 339.2h0M351.12 337.9h0M351.24 336.1h0M351.35 333.6h0M351.47 338.4h0M351.59 333.5h0M351.71 329.5h0M351.83 340.8h0M351.95 330.8h0M352.07 328h0M352.18 337.4h0M352.3 333.2h0M352.42 340h0M352.54 333.9h0M352.66 336.2h0M352.78 333.9h0M352.9 338h0M353.02 337.6h0M353.13 336.3h0M353.25 337.1h0M353.37 336.7h0M353.49 335.2h0M353.61 338.2h0M353.73 334.8h0M353.85 332.6h0M353.96 342.1h0M354.08 333.4h0M354.2 336.6h0M354.32 337.8h0M354.44 338.5h0M354.56 336.7h0M354.68 336.3h0M354.8 332.5h0M354.91 338h0M355.03 330h0M355.15 336.3h0M355.27 331.1h0M355.39 329.7h0M355.51 337.5h0M355.63 329.6h0M355.75 325.8h0M355.86 334.6h0M355.98 331h0M356.1 333.3h0M356.22 332.6h0M356.34 333.4h0M356.46 334.4h0M356.58 330.2h0M356.69 329.6h0M356.81 332.5h0M356.93 327.3h0M357.05 328.7h0M357.17 330h0M357.29 334.7h0M357.41 325.9h0M357.53 327.7h0M357.64 339.3h0M357.76 335.8h0M357.88 333.6h0M358 328.9h0M358.12 327.8h0M358.24 332.9h0M358.36 331h0M358.48 329.5h0M358.59 336h0M358.71 329.8h0M358.83 332.7h0M358.95 331h0M359.07 331.8h0M359.19 335.5h0M359.31 334.8h0M359.42 331.3h0M359.54 331h0M359.66 332.3h0M359.78 327.9h0M359.9 332.5h0M360.02 335.3h0M360.14 332.4h0M360.26 331.8h0M360.37 331.6h0M360.49 327.3h0M360.61 329.4h0M360.73 327.6h0M360.85 329h0M360.97 331.5h0M361.09 327.5h0M361.21 331.7h0M361.32 330h0M361.44 334.1h0M361.56 330.4h0M361.68 331.8h0M361.8 329.5h0M361.92 324.8h0M362.04 322.9h0M362.15 327.3h0M362.27 330.6h0M362.39 327.8h0M362.51 329.7h0M362.63 332.4h0M362.75 330.6h0M362.87 331.1h0M362.99 332.2h0M363.1 325.8h0M363.22 332h0M363.34 331.8h0M363.46 327.9h0M363.58 332.3h0M363.7 333.7h0M363.82 332.7h0M363.93 328.4h0M364.05 328.7h0M364.17 328.9h0M364.29 331.3h0M364.41 332.7h0M364.53 326.8h0M364.65 334.3h0M364.77 330.3h0M364.88 333.8h0M365 330.8h0M365.12 330h0M365.24 325.5h0M365.36 338.5h0M365.48 325h0M365.6 332.1h0M365.72 328.3h0M365.83 326.6h0M365.95 331.5h0M366.07 329.3h0M366.19 327.4h0M366.31 329.3h0M366.43 331.2h0M366.55 328.2h0M366.66 328.4h0M366.78 333.4h0M366.9 324.4h0M367.02 327.9h0M367.14 336.1h0M367.26 331.1h0M367.38 323.1h0M367.5 323.4h0M367.61 327.5h0M367.73 333.5h0M367.85 329h0M367.97 324.9h0M368.09 326.9h0M368.21 329.1h0M368.33 330.3h0M368.45 325.4h0M368.56 328.6h0M368.68 326.8h0M368.8 326.3h0M368.92 322.7h0M369.04 327.1h0M369.16 326.8h0M369.28 333.1h0M369.39 324.1h0M369.51 324.7h0M369.63 327.5h0M369.75 334.3h0M369.87 329h0M369.99 327h0M370.11 320.8h0M370.23 325.4h0M370.34 324.7h0M370.46 324.6h0M370.58 322.9h0M370.7 330.4h0M370.82 329.5h0M370.94 330.4h0M371.06 327.7h0M371.18 327.8h0M371.29 326.4h0M371.41 329.8h0M371.53 326.3h0M371.65 329.1h0M371.77 320.1h0M371.89 328.1h0M372.01 318.7h0M372.12 321.4h0M372.24 329.9h0M372.36 323.4h0M372.48 324.4h0M372.6 330.8h0M372.72 324.3h0M372.84 326.4h0M372.96 325h0M373.07 328.6h0M373.19 326.2h0M373.31 324.7h0M373.43 326.5h0M373.55 327.7h0M373.67 326.4h0M373.79 328.8h0M373.91 324.8h0M374.02 333.4h0M374.14 321.4h0M374.26 325.6h0M374.38 324.4h0M374.5 323.3h0M374.62 329.5h0M374.74 319.1h0M374.85 329.1h0M374.97 324.4h0M375.09 324.8h0M375.21 321.9h0M375.33 325.8h0M375.45 329.9h0M375.57 324.8h0M375.69 333h0M375.8 326.3h0M375.92 327.1h0M376.04 321.2h0M376.16 326.6h0M376.28 327h0M376.4 327.9h0M376.52 328.2h0M376.63 327.3h0M376.75 324h0M376.87 329.5h0M376.99 326.3h0M377.11 329.9h0M377.23 326.2h0M377.35 325.2h0M377.47 329.3h0M377.58 327.3h0M377.7 325.4h0M377.82 323.5h0M377.94 323h0M378.06 326h0M378.18 328.6h0M378.3 330.3h0M378.42 323.4h0M378.53 321.7h0M378.65 324.6h0M378.77 321.2h0M378.89 327h0M379.01 326.8h0M379.13 321.2h0M379.25 328.5h0M379.36 323.9h0M379.48 324.5h0M379.6 325.2h0M379.72 320.7h0M379.84 328.1h0M379.96 326.8h0M380.08 331.5h0M380.2 328.6h0M380.31 327h0M380.43 326.7h0M380.55 326.2h0M380.67 324.7h0M380.79 327.4h0M380.91 331.1h0M381.03 325.1h0M381.15 324.4h0M381.26 328.8h0M381.38 327.7h0M381.5 320.6h0M381.62 322.7h0M381.74 322.5h0M381.86 323.7h0M381.98 325.1h0M382.09 327h0M382.21 324h0M382.33 326.1h0M382.45 326.8h0M382.57 325.6h0M382.69 325.8h0M382.81 323.2h0M382.93 328.3h0M383.04 318.8h0M383.16 328.5h0M383.28 326.9h0M383.4 323.2h0M383.52 328.1h0M383.64 327.1h0M383.76 325.8h0M383.88 334h0M383.99 327.3h0M384.11 328.5h0M384.23 326.6h0M384.35 324.6h0M384.47 324.2h0M384.59 321.9h0M384.71 322.1h0M384.82 323.2h0M384.94 326.1h0M385.06 323.2h0M385.18 328.8h0M385.3 326.4h0M385.42 322.2h0M385.54 324h0M385.66 329.9h0M385.77 327.8h0M385.89 323.7h0M386.01 324.5h0M386.13 323.3h0M386.25 331h0M386.37 329.6h0M386.49 326.9h0M386.6 328.9h0M386.72 326.3h0M386.84 326.2h0M386.96 325.4h0M387.08 326.7h0M387.2 324.8h0M387.32 324.2h0M387.44 325.9h0M387.55 329.6h0M387.67 322.9h0M387.79 325.8h0M387.91 325.3h0M388.03 326h0M388.15 330.7h0M388.27 324.9h0M388.39 328.2h0M388.5 329.7h0M388.62 323.1h0M388.74 327.3h0M388.86 325.8h0M388.98 324.2h0M389.1 322.3h0M389.22 331.3h0M389.33 328.5h0M389.45 324.8h0M389.57 328.4h0M389.69 335.2h0M389.81 326.3h0M389.93 326.1h0M390.05 324.6h0M390.17 326.1h0M390.28 327.9h0M390.4 326.2h0M390.52 326.8h0M390.64 328.1h0M390.76 326.1h0M390.88 325.8h0M391 329.4h0M391.12 324.1h0M391.23 324.6h0M391.35 324.7h0M391.47 333.8h0M391.59 326.4h0M391.71 327h0M391.83 329.2h0M391.95 325.2h0M392.06 330.4h0M392.18 323.4h0M392.3 325.5h0M392.42 327.8h0M392.54 322.8h0M392.66 325.2h0M392.78 325.5h0M392.9 329.6h0M393.01 324.9h0M393.13 322.6h0M393.25 323.4h0M393.37 329.4h0M393.49 322.6h0M393.61 322h0M393.73 323.8h0M393.85 326.9h0M393.96 329.7h0M394.08 328.1h0M394.2 327.2h0M394.32 325.1h0M394.44 324.3h0M394.56 327.5h0M394.68 329.7h0M394.79 326.6h0M394.91 328.8h0M395.03 322.2h0M395.15 328.5h0M395.27 324.2h0M395.39 323.3h0M395.51 327.8h0M395.63 322.8h0M395.74 325.6h0M395.86 327.2h0M395.98 327.5h0M396.1 324.8h0M396.22 322.4h0M396.34 329.7h0M396.46 323.5h0M396.57 325.3h0M396.69 326.7h0M396.81 325.1h0M396.93 324.8h0M397.05 324.9h0M397.17 322.7h0M397.29 326.8h0M397.41 319.8h0M397.52 322.4h0M397.64 325.9h0M397.76 329.1h0M397.88 324.4h0M398 325.3h0M398.12 322.5h0M398.24 322.5h0M398.36 319.6h0M398.47 324.5h0M398.59 322.2h0M398.71 325.1h0M398.83 324.9h0M398.95 320.4h0M399.07 324.3h0M399.19 324.2h0M399.3 324.8h0M399.42 323.2h0M399.54 322.5h0M399.66 324.2h0M399.78 326.6h0M399.9 323.1h0M400.02 325.8h0M400.14 324.7h0M400.25 323.3h0M400.37 323.2h0M400.49 329.3h0M400.61 319.8h0M400.73 321.9h0M400.85 319.2h0M400.97 317.9h0M401.09 326h0M401.2 325.1h0M401.32 323.2h0M401.44 321.6h0M401.56 325h0M401.68 324.5h0M401.8 321.3h0M401.92 325.8h0M402.03 323.3h0M402.15 321.2h0M402.27 324.4h0M402.39 322h0M402.51 324h0M402.63 327.4h0M402.75 325h0M402.87 324.2h0M402.98 324.5h0M403.1 323.7h0M403.22 322.9h0M403.34 323.1h0M403.46 323.4h0M403.58 324.8h0M403.7 324.3h0M403.82 324.6h0M403.93 325.1h0M404.05 320.7h0M404.17 328.1h0M404.29 323.3h0M404.41 327.5h0M404.53 325.2h0M404.65 322h0M404.76 324.5h0M404.88 320.7h0M405 326h0M405.12 324.5h0M405.24 325.3h0M405.36 323.8h0M405.48 324.6h0M405.6 324.7h0M405.71 323.7h0M405.83 321.4h0M405.95 323.6h0M406.07 323.8h0M406.19 324.6h0M406.31 325.5h0M406.43 327.1h0M406.55 326.3h0M406.66 323.9h0M406.78 328.2h0M406.9 322.5h0M407.02 324.9h0M407.14 326.1h0M407.26 325.2h0M407.38 322.6h0M407.49 323.2h0M407.61 323.4h0M407.73 320.1h0M407.85 318.9h0M407.97 326.7h0M408.09 322h0M408.21 325.5h0M408.33 326.8h0M408.44 324.9h0M408.56 321.6h0M408.68 324.4h0M408.8 324.7h0M408.92 320.7h0M409.04 322.6h0M409.16 323.8h0M409.27 319.7h0M409.39 322.5h0M409.51 325.1h0M409.63 325.9h0M409.75 324.4h0M409.87 323.1h0M409.99 321.5h0M410.11 321.7h0M410.22 323.2h0M410.34 325.9h0M410.46 321.5h0M410.58 323.3h0M410.7 325.8h0M410.82 326.1h0M410.94 323h0M411.06 322.8h0M411.17 321.8h0M411.29 326.1h0M411.41 319.5h0M411.53 327.3h0M411.65 323.6h0M411.77 320.7h0M411.89 321.4h0M412 325.5h0M412.12 322.3h0M412.24 321h0M412.36 322.1h0M412.48 325.6h0M412.6 320.2h0M412.72 327h0M412.84 323.6h0M412.95 326h0M413.07 324.7h0M413.19 324.6h0M413.31 323h0M413.43 326.7h0M413.55 323.7h0M413.67 321.6h0M413.79 324.2h0M413.9 323.3h0M414.02 323.7h0M414.14 326.2h0M414.26 325.5h0M414.38 324.7h0M414.5 323.9h0M414.62 320.9h0M414.73 321.7h0M414.85 326h0M414.97 326h0M415.09 327.2h0M415.21 329.8h0M415.33 322.5h0M415.45 324h0M415.57 328.9h0M415.68 325h0M415.8 320.2h0M415.92 323.9h0M416.04 323.8h0M416.16 324.3h0M416.28 326.2h0M416.4 326.9h0M416.52 326.1h0M416.63 324.1h0M416.75 324.8h0M416.87 322.8h0M416.99 320.6h0M417.11 322.8h0M417.23 322.3h0M417.35 324.5h0M417.46 326.3h0M417.58 319.4h0M417.7 322.1h0M417.82 321.1h0M417.94 324.1h0M418.06 326.6h0M418.18 320.6h0M418.3 327.3h0M418.41 323.3h0M418.53 324h0M418.65 322.4h0M418.77 321.2h0M418.89 321.1h0M419.01 326.6h0M419.13 320.6h0M419.24 326.1h0M419.36 321h0M419.48 323.1h0M419.6 324.4h0M419.72 323.1h0M419.84 324.6h0M419.96 322h0M420.08 320.1h0M420.19 320.3h0M420.31 321.7h0M420.43 319.6h0M420.55 320.7h0M420.67 317.6h0M420.79 320.6h0M420.91 322.7h0M421.03 322.1h0M421.14 323h0M421.26 322.1h0M421.38 321.8h0M421.5 320.2h0M421.62 320h0M421.74 321.4h0M421.86 320.7h0M421.97 322.8h0M422.09 322.5h0M422.21 326h0M422.33 322.9h0M422.45 322.3h0M422.57 316.6h0M422.69 323.9h0M422.81 321.3h0M422.92 322h0M423.04 324.3h0M423.16 320.9h0M423.28 321.3h0M423.4 324h0M423.52 325.6h0M423.64 321.4h0M423.76 323.9h0M423.87 320.1h0M423.99 321.8h0M424.11 320.3h0M424.23 321.8h0M424.35 318.5h0M424.47 320h0M424.59 318.5h0M424.7 321h0M424.82 323.1h0M424.94 323.8h0M425.06 322.1h0M425.18 320.7h0M425.3 322.3h0M425.42 316.8h0M425.54 321.3h0M425.65 320.3h0M425.77 321h0M425.89 323.4h0M426.01 319.2h0M426.13 320h0M426.25 319.6h0M426.37 322.7h0M426.49 321h0M426.6 321.1h0M426.72 319h0M426.84 323.5h0M426.96 319.9h0M427.08 318.8h0M427.2 321.8h0M427.32 322.4h0M427.43 318.7h0M427.55 320.6h0M427.67 319.1h0M427.79 319.7h0M427.91 319.2h0M428.03 321.4h0M428.15 324.7h0M428.27 320.1h0M428.38 322.3h0M428.5 320.1h0M428.62 322.1h0M428.74 318.4h0M428.86 321.6h0M428.98 319.8h0M429.1 319.3h0M429.21 321.4h0M429.33 320.7h0M429.45 321.3h0M429.57 322.9h0M429.69 318.9h0M429.81 322.9h0M429.93 324.1h0M430.05 322.3h0M430.16 321.2h0M430.28 321.4h0M430.4 322.1h0M430.52 322.3h0M430.64 325.2h0M430.76 320.6h0M430.88 318.7h0M431 322.9h0M431.11 324.7h0M431.23 320.5h0M431.35 322h0M431.47 328.4h0M431.59 323h0M431.71 324.2h0M431.83 323.8h0M431.94 318.6h0M432.06 320.3h0M432.18 322.2h0M432.3 321.9h0M432.42 319.4h0M432.54 323.8h0M432.66 320.8h0M432.78 323h0M432.89 320.7h0M433.01 321.7h0M433.13 323.2h0M433.25 320.3h0M433.37 321.2h0M433.49 319.1h0M433.61 322.7h0M433.73 321.8h0M433.84 323.1h0M433.96 319.9h0M434.08 323h0M434.2 321.8h0M434.32 319.6h0M434.44 320.7h0M434.56 321h0M434.67 320.9h0M434.79 320.7h0M434.91 320.1h0M435.03 321.5h0M435.15 324h0M435.27 318.6h0M435.39 322.2h0M435.51 317.5h0M435.62 319.8h0M435.74 315.1h0M435.86 318.1h0M435.98 319.1h0M436.1 318.2h0M436.22 321.6h0M436.34 319h0M436.46 319.7h0M436.57 318.9h0M436.69 322h0M436.81 322.1h0M436.93 317.4h0M437.05 318.3h0M437.17 318.9h0M437.29 318.2h0M437.4 318.9h0M437.52 318.5h0M437.64 316.6h0M437.76 317.9h0M437.88 316.3h0M438 318.3h0M438.12 319.9h0M438.24 318h0M438.35 317.2h0M438.47 318.6h0M438.59 317.4h0M438.71 317.5h0M438.83 315.4h0M438.95 315.5h0M439.07 315.1h0M439.19 317.8h0M439.3 316.2h0M439.42 314.8h0M439.54 316.5h0M439.66 316.9h0M439.78 317.9h0M439.9 315.6h0M440.02 316.6h0M440.13 315.5h0M440.25 317.2h0M440.37 314h0M440.49 317.1h0M440.61 318.9h0M440.73 316.8h0M440.85 316.5h0M440.97 315.4h0M441.08 318h0M441.2 318.1h0M441.32 317.7h0M441.44 318h0M441.56 320.5h0M441.68 316.5h0M441.8 315.8h0M441.91 318.7h0M442.03 319h0M442.15 317.9h0M442.27 318.9h0M442.39 316.6h0M442.51 318.7h0M442.63 317h0M442.75 319.6h0M442.86 319.9h0M442.98 320.1h0M443.1 320h0M443.22 317.5h0M443.34 317h0M443.46 318h0M443.58 318h0M443.7 321.4h0M443.81 316.9h0M443.93 320.2h0M444.05 316.8h0M444.17 315.4h0M444.29 318.7h0M444.41 318h0M444.53 318.1h0M444.64 320.9h0M444.76 320.7h0M444.88 320.3h0M445 319.2h0M445.12 318.5h0M445.24 319.6h0M445.36 318.4h0M445.48 320.6h0M445.59 322h0M445.71 320.2h0M445.83 320.4h0M445.95 322.4h0M446.07 319.3h0M446.19 322h0M446.31 321.9h0M446.43 320.8h0M446.54 322.6h0M446.66 320.5h0M446.78 320.9h0M446.9 321h0M447.02 321.7h0M447.14 322.5h0M447.26 322.9h0M447.37 321.7h0M447.49 320.5h0M447.61 321.3h0M447.73 322h0M447.85 321.3h0M447.97 321h0M448.09 324.4h0M448.21 322.9h0M448.32 321.4h0M448.44 323.8h0M448.56 323.7h0M448.68 322.4h0M448.8 323.5h0M448.92 321.7h0M449.04 323.6h0M449.16 322.5h0M449.27 320.2h0M449.39 321.9h0M449.51 325h0M449.63 324.6h0M449.75 324.5h0M449.87 323.3h0M449.99 325h0M450.1 322.6h0M450.22 321.2h0M450.34 321.4h0M450.46 324.2h0M450.58 323.6h0M450.7 323.6h0M450.82 324.2h0M450.94 321.2h0M451.05 324h0M451.17 324.5h0M451.29 322.8h0M451.41 322.8h0M451.53 321.4h0M451.65 321.3h0M451.77 323.3h0M451.88 325.6h0M452 322.3h0M452.12 322.2h0M452.24 321h0M452.36 324.9h0M452.48 324.4h0M452.6 321.2h0M452.72 321.1h0M452.83 321.5h0M452.95 323h0M453.07 321.4h0M453.19 323.5h0M453.31 324.2h0M453.43 322.8h0M453.55 322.6h0M453.67 321.8h0M453.78 321.4h0M453.9 324.5h0M454.02 322.2h0M454.14 321.9h0M454.26 323.8h0M454.38 322.6h0M454.5 322.2h0M454.61 321.7h0M454.73 323h0M454.85 322.7h0M454.97 323.2h0M455.09 321.5h0M455.21 322.2h0M455.33 322.4h0M455.45 321h0M455.56 321.8h0M455.68 322.9h0M455.8 320.3h0M455.92 320.4h0M456.04 320.9h0M456.16 322.4h0M456.28 320.1h0M456.4 321.8h0M456.51 323.1h0M456.63 321.2h0M456.75 319.1h0M456.87 321.4h0M456.99 320.2h0M457.11 319.4h0M457.23 320.5h0M457.34 321h0M457.46 320.6h0M457.58 319.9h0M457.7 320.9h0M457.82 320h0M457.94 319.7h0M458.06 320.6h0M458.18 319.5h0M458.29 319.5h0M458.41 320.4h0M458.53 320.2h0M458.65 319.8h0M458.77 320h0M458.89 320h0M459.01 320.7h0M459.13 319.6h0M459.24 318.9h0M459.36 319h0M459.48 320.3h0M459.6 318.9h0M459.72 318.8h0M459.84 320.2h0M459.96 318.8h0M460.07 319.4h0M460.19 319.5h0M460.31 318.9h0M460.43 319.3h0M460.55 321.1h0M460.67 318.8h0M460.79 320h0M460.91 319h0M461.02 318.2h0M461.14 319h0M461.26 319.1h0M461.38 318.5h0M461.5 318.2h0M461.62 319.3h0M461.74 319.1h0M461.85 318h0M461.97 317h0M462.09 318.3h0M462.21 317.5h0M462.33 318.9h0M462.45 318.2h0M462.57 318.1h0M462.69 319.2h0M462.8 318.1h0M462.92 318.2h0M463.04 320.2h0M463.16 318h0M463.28 317.6h0M463.4 317.6h0M463.52 317.5h0M463.64 318.8h0M463.75 318.5h0M463.87 318h0M463.99 318.6h0M464.11 318.2h0M464.23 316.7h0M464.35 318.6h0M464.47 318.2h0M464.58 316.3h0M464.7 318.1h0M464.82 318.9h0M464.94 317.8h0M465.06 318h0M465.18 318.1h0M465.3 319.7h0M465.42 318h0M465.53 318h0M465.65 316.6h0M465.77 317.9h0M465.89 318.9h0M466.01 318.3h0M466.13 318h0M466.25 318.8h0M466.37 318.8h0M466.48 317.6h0M466.6 318.4h0M466.72 318.5h0M466.84 319.8h0M466.96 318.7h0M467.08 320.8h0M467.2 318h0M467.31 319.6h0M467.43 318.7h0M467.55 318h0M467.67 320.3h0M467.79 318.3h0M467.91 319.2h0M468.03 318.4h0M468.15 319.7h0M468.26 320h0M468.38 318.3h0M468.5 319.1h0M468.62 319.4h0M468.74 320.5h0M468.86 318.3h0M468.98 319.8h0M469.1 319.7h0M469.21 320.1h0M469.33 319.5h0M469.45 319h0M469.57 319.6h0M469.69 319.7h0M469.81 320.1h0M469.93 318.3h0M470.04 318.2h0M470.16 319.9h0M470.28 320.4h0M470.4 319.4h0M470.52 321.1h0M470.64 319.4h0" stroke="#1f77b4" stroke-width="6.9" stroke-linecap="round"/>
<polyline points="300.67,490.2 300.79,484.5 300.91,473.3 301.03,457.6 301.15,438.8 301.27,419.2 301.38,401 301.5,385.9 301.62,374.8 301.74,367.7 301.86,364 301.98,362.9 302.1,363.9 302.22,366.3 302.33,369.9 302.45,374.3 302.57,379.5 302.69,385.4 302.81,391.8 302.93,398.6 303.05,405.3 303.17,411.5 303.28,416.7 303.4,420.8 303.52,423.7 303.64,425.6 303.76,426.6 303.88,426.9 304,426.7 304.11,426.1 304.23,425.1 304.35,423.8 304.47,422.4 304.59,421.1 304.71,419.9 304.83,419 304.95,418.4 305.06,418 305.18,417.6 305.3,417.2 305.42,416.9 305.54,416.4 305.66,416 305.78,415.4 305.9,414.6 306.01,413.5 306.13,412.3 306.25,411.1 306.37,410 306.49,409 306.61,408.3 306.73,407.6 306.84,406.9 306.96,406 307.08,405 307.2,403.9 307.32,402.6 307.44,401.3 307.56,400 307.68,398.8 307.79,397.7 307.91,396.9 308.03,396.3 308.15,395.9 308.27,395.6 308.39,395.3 308.51,394.9 308.63,394.4 308.74,393.8 308.86,393 308.98,392.2 309.1,391.4 309.22,390.7 309.34,390.3 309.46,390.1 309.57,390.1 309.69,390.2 309.81,390.2 309.93,389.9 310.05,389.1 310.17,387.9 310.29,386.5 310.41,385.1 310.52,384.1 310.64,383.5 310.76,383.4 310.88,383.6 311,383.8 311.12,383.9 311.24,383.7 311.35,383.1 311.47,382.2 311.59,380.9 311.71,379.6 311.83,378.3 311.95,377.2 312.07,376.3 312.19,375.6 312.3,375.1 312.42,374.7 312.54,374.3 312.66,374 312.78,373.6 312.9,373.4 313.02,373.2 313.14,373.1 313.25,373 313.37,372.9 313.49,372.6 313.61,372.3 313.73,371.9 313.85,371.6 313.97,371.2 314.08,371 314.2,370.8 314.32,370.7 314.44,370.6 314.56,370.3 314.68,369.9 314.8,369.2 314.92,368.3 315.03,367.4 315.15,366.4 315.27,365.5 315.39,364.9 315.51,364.5 315.63,364.4 315.75,364.4 315.87,364.6 315.98,364.8 316.1,365.1 316.22,365.5 316.34,366 316.46,366.7 316.58,367.3 316.7,367.9 316.81,368.1 316.93,368 317.05,367.6 317.17,366.9 317.29,366.2 317.41,365.6 317.53,365.2 317.65,365 317.76,365 317.88,365 318,365 318.12,364.9 318.24,364.6 318.36,364.4 318.48,364.2 318.6,364.1 318.71,364 318.83,363.9 318.95,363.9 319.07,363.8 319.19,363.7 319.31,363.6 319.43,363.5 319.54,363.3 319.66,363 319.78,362.7 319.9,362.5 320.02,362.3 320.14,362.3 320.26,362.3 320.38,362.3 320.49,362.2 320.61,362 320.73,361.5 320.85,361 320.97,360.4 321.09,359.8 321.21,359.3 321.32,358.9 321.44,358.8 321.56,358.8 321.68,359 321.8,359.2 321.92,359.5 322.04,359.7 322.16,359.9 322.27,360 322.39,360 322.51,359.9 322.63,359.8 322.75,359.7 322.87,359.7 322.99,359.7 323.11,359.8 323.22,359.8 323.34,359.7 323.46,359.6 323.58,359.2 323.7,358.7 323.82,358.2 323.94,357.6 324.05,357.2 324.17,356.9 324.29,356.8 324.41,356.8 324.53,357 324.65,357.2 324.77,357.5 324.89,357.9 325,358.1 325.12,358.2 325.24,358.1 325.36,357.8 325.48,357.3 325.6,356.6 325.72,355.9 325.84,355.1 325.95,354.4 326.07,353.8 326.19,353.2 326.31,352.7 326.43,352.3 326.55,351.9 326.67,351.7 326.78,351.7 326.9,351.9 327.02,352.4 327.14,352.9 327.26,353.5 327.38,353.9 327.5,354.1 327.62,354.1 327.73,354 327.85,353.9 327.97,353.6 328.09,353.4 328.21,353.1 328.33,352.9 328.45,352.7 328.57,352.6 328.68,352.6 328.8,352.6 328.92,352.6 329.04,352.4 329.16,352 329.28,351.6 329.4,351.2 329.51,350.9 329.63,350.7 329.75,350.5 329.87,350.4 329.99,350.3 330.11,350.1 330.23,349.8 330.35,349.5 330.46,349.3 330.58,349.1 330.7,349.1 330.82,349.1 330.94,349.2 331.06,349.3 331.18,349.3 331.29,349.4 331.41,349.6 331.53,349.7 331.65,349.9 331.77,350 331.89,350.1 332.01,350 332.13,350 332.24,350 332.36,350.1 332.48,350.3 332.6,350.5 332.72,350.7 332.84,350.7 332.96,350.6 333.08,350.4 333.19,350.1 333.31,349.8 333.43,349.6 333.55,349.4 333.67,349.3 333.79,349.1 333.91,349 334.02,348.9 334.14,348.9 334.26,349 334.38,349.1 334.5,349.3 334.62,349.3 334.74,349.2 334.86,348.8 334.97,348.2 335.09,347.4 335.21,346.8 335.33,346.3 335.45,346.2 335.57,346.5 335.69,347 335.81,347.6 335.92,348.2 336.04,348.5 336.16,348.6 336.28,348.5 336.4,348.2 336.52,347.9 336.64,347.5 336.75,347.3 336.87,347.2 336.99,347.3 337.11,347.5 337.23,347.7 337.35,347.9 337.47,348 337.59,348.1 337.7,348.2 337.82,348.2 337.94,348.2 338.06,348.1 338.18,347.8 338.3,347.5 338.42,347.1 338.54,346.7 338.65,346.2 338.77,345.9 338.89,345.6 339.01,345.4 339.13,345.2 339.25,345.1 339.37,345 339.48,344.9 339.6,344.8 339.72,344.8 339.84,344.7 339.96,344.8 340.08,344.8 340.2,344.8 340.32,344.8 340.43,344.7 340.55,344.5 340.67,344.2 340.79,343.9 340.91,343.5 341.03,343 341.15,342.5 341.27,342.1 341.38,341.6 341.5,341.3 341.62,341.1 341.74,341 341.86,341 341.98,341.1 342.1,341.3 342.21,341.5 342.33,341.7 342.45,341.9 342.57,342.1 342.69,342.3 342.81,342.5 342.93,342.6 343.05,342.7 343.16,342.6 343.28,342.6 343.4,342.5 343.52,342.4 343.64,342.3 343.76,342.2 343.88,342 343.99,341.9 344.11,341.8 344.23,341.8 344.35,341.9 344.47,342.1 344.59,342.3 344.71,342.5 344.83,342.5 344.94,342.5 345.06,342.5 345.18,342.5 345.3,342.4 345.42,342.4 345.54,342.3 345.66,342.1 345.78,341.9 345.89,341.7 346.01,341.6 346.13,341.6 346.25,341.7 346.37,341.9 346.49,342.1 346.61,342.2 346.72,342 346.84,341.6 346.96,341 347.08,340.4 347.2,339.9 347.32,339.5 347.44,339.3 347.56,339.3 347.67,339.3 347.79,339.3 347.91,339.4 348.03,339.3 348.15,339 348.27,338.7 348.39,338.2 348.51,337.8 348.62,337.6 348.74,337.4 348.86,337.4 348.98,337.3 349.1,337.1 349.22,336.9 349.34,336.8 349.45,336.7 349.57,336.6 349.69,336.6 349.81,336.6 349.93,336.6 350.05,336.5 350.17,336.4 350.29,336.4 350.4,336.5 350.52,336.6 350.64,336.8 350.76,337 350.88,337 351,336.9 351.12,336.6 351.24,336.2 351.35,335.8 351.47,335.3 351.59,334.8 351.71,334.5 351.83,334.2 351.95,334.2 352.07,334.3 352.18,334.5 352.3,334.8 352.42,335.2 352.54,335.5 352.66,335.8 352.78,336.1 352.9,336.3 353.02,336.4 353.13,336.5 353.25,336.5 353.37,336.4 353.49,336.4 353.61,336.4 353.73,336.4 353.85,336.4 353.96,336.5 354.08,336.5 354.2,336.6 354.32,336.5 354.44,336.3 354.56,336 354.68,335.6 354.8,335.1 354.91,334.5 355.03,333.9 355.15,333.4 355.27,332.9 355.39,332.5 355.51,332.1 355.63,331.9 355.75,331.8 355.86,331.8 355.98,331.9 356.1,332 356.22,332.1 356.34,332 356.46,331.7 356.58,331.4 356.69,331 356.81,330.7 356.93,330.5 357.05,330.5 357.17,330.6 357.29,330.9 357.41,331.2 357.53,331.6 357.64,331.9 357.76,332 357.88,331.9 358,331.8 358.12,331.6 358.24,331.5 358.36,331.5 358.48,331.6 358.59,331.8 358.71,332 358.83,332.2 358.95,332.3 359.07,332.4 359.19,332.5 359.31,332.4 359.42,332.3 359.54,332.1 359.66,332 359.78,331.9 359.9,331.8 360.02,331.6 360.14,331.4 360.26,331 360.37,330.6 360.49,330.2 360.61,329.9 360.73,329.8 360.85,329.7 360.97,329.9 361.09,330.1 361.21,330.2 361.32,330.3 361.44,330.2 361.56,329.9 361.68,329.4 361.8,328.9 361.92,328.5 362.04,328.3 362.15,328.3 362.27,328.6 362.39,329 362.51,329.5 362.63,329.9 362.75,330.2 362.87,330.3 362.99,330.4 363.1,330.5 363.22,330.6 363.34,330.7 363.46,330.8 363.58,330.8 363.7,330.8 363.82,330.8 363.93,330.6 364.05,330.6 364.17,330.5 364.29,330.6 364.41,330.7 364.53,330.8 364.65,331 364.77,331 364.88,331 365,330.8 365.12,330.7 365.24,330.4 365.36,330.2 365.48,329.9 365.6,329.7 365.72,329.5 365.83,329.4 365.95,329.3 366.07,329.2 366.19,329.2 366.31,329.3 366.43,329.3 366.55,329.3 366.66,329.3 366.78,329.3 366.9,329.2 367.02,329.1 367.14,328.9 367.26,328.6 367.38,328.4 367.5,328.2 367.61,328.1 367.73,328 367.85,328 367.97,327.9 368.09,327.9 368.21,327.8 368.33,327.6 368.45,327.4 368.56,327.2 368.68,327 368.8,326.9 368.92,326.8 369.04,326.9 369.16,327.1 369.28,327.3 369.39,327.5 369.51,327.6 369.63,327.6 369.75,327.4 369.87,327.1 369.99,326.7 370.11,326.3 370.23,326 370.34,326 370.46,326.2 370.58,326.6 370.7,327 370.82,327.5 370.94,327.7 371.06,327.8 371.18,327.7 371.29,327.4 371.41,327 371.53,326.5 371.65,325.9 371.77,325.4 371.89,325 372.01,324.8 372.12,324.8 372.24,325 372.36,325.3 372.48,325.6 372.6,325.9 372.72,326.1 372.84,326.2 372.96,326.3 373.07,326.4 373.19,326.5 373.31,326.5 373.43,326.7 373.55,326.7 373.67,326.8 373.79,326.8 373.91,326.6 374.02,326.4 374.14,326.1 374.26,325.7 374.38,325.4 374.5,325.2 374.62,325.1 374.74,325 374.85,325.1 374.97,325.2 375.09,325.4 375.21,325.7 375.33,326.1 375.45,326.4 375.57,326.7 375.69,326.8 375.8,326.8 375.92,326.7 376.04,326.6 376.16,326.6 376.28,326.7 376.4,326.8 376.52,326.9 376.63,327.1 376.75,327.1 376.87,327.2 376.99,327.2 377.11,327.2 377.23,327 377.35,326.8 377.47,326.6 377.58,326.3 377.7,326.1 377.82,325.9 377.94,325.8 378.06,325.7 378.18,325.6 378.3,325.4 378.42,325.2 378.53,324.9 378.65,324.7 378.77,324.6 378.89,324.6 379.01,324.7 379.13,324.8 379.25,324.9 379.36,325 379.48,325.2 379.6,325.4 379.72,325.8 379.84,326.3 379.96,326.7 380.08,327 380.2,327.2 380.31,327.2 380.43,327.2 380.55,327.1 380.67,327 380.79,326.8 380.91,326.7 381.03,326.4 381.15,326.1 381.26,325.6 381.38,325.2 381.5,324.8 381.62,324.5 381.74,324.4 381.86,324.5 381.98,324.7 382.09,324.9 382.21,325.2 382.33,325.3 382.45,325.4 382.57,325.4 382.69,325.3 382.81,325.3 382.93,325.3 383.04,325.4 383.16,325.6 383.28,325.9 383.4,326.3 383.52,326.7 383.64,327.1 383.76,327.4 383.88,327.4 383.99,327.2 384.11,326.8 384.23,326.2 384.35,325.6 384.47,325 384.59,324.6 384.71,324.4 384.82,324.4 384.94,324.6 385.06,324.8 385.18,325.1 385.3,325.4 385.42,325.6 385.54,325.7 385.66,325.9 385.77,326 385.89,326.2 386.01,326.4 386.13,326.7 386.25,326.9 386.37,327.1 386.49,327.2 386.6,327.1 386.72,326.9 386.84,326.6 386.96,326.3 387.08,326.1 387.2,325.9 387.32,325.9 387.44,325.9 387.55,325.9 387.67,326 387.79,326.2 387.91,326.4 388.03,326.6 388.15,326.7 388.27,326.8 388.39,326.8 388.5,326.6 388.62,326.5 388.74,326.4 388.86,326.3 388.98,326.4 389.1,326.7 389.22,327 389.33,327.3 389.45,327.6 389.57,327.8 389.69,327.8 389.81,327.6 389.93,327.4 390.05,327.1 390.17,326.9 390.28,326.8 390.4,326.8 390.52,326.7 390.64,326.7 390.76,326.7 390.88,326.7 391,326.7 391.12,326.8 391.23,326.9 391.35,327.1 391.47,327.3 391.59,327.4 391.71,327.4 391.83,327.2 391.95,327 392.06,326.7 392.18,326.4 392.3,326.2 392.42,325.9 392.54,325.8 392.66,325.7 392.78,325.6 392.9,325.4 393.01,325.3 393.13,325.2 393.25,325 393.37,325 393.49,325.1 393.61,325.3 393.73,325.6 393.85,325.9 393.96,326.3 394.08,326.5 394.2,326.7 394.32,326.8 394.44,326.8 394.56,326.8 394.68,326.7 394.79,326.6 394.91,326.4 395.03,326.2 395.15,325.9 395.27,325.7 395.39,325.5 395.51,325.5 395.63,325.5 395.74,325.5 395.86,325.6 395.98,325.6 396.1,325.6 396.22,325.6 396.34,325.6 396.46,325.5 396.57,325.4 396.69,325.2 396.81,325 396.93,324.8 397.05,324.6 397.17,324.4 397.29,324.3 397.41,324.3 397.52,324.4 397.64,324.4 397.76,324.4 397.88,324.3 398,324 398.12,323.7 398.24,323.5 398.36,323.3 398.47,323.2 398.59,323.2 398.71,323.3 398.83,323.4 398.95,323.5 399.07,323.6 399.19,323.7 399.3,323.8 399.42,323.9 399.54,324.1 399.66,324.2 399.78,324.3 399.9,324.3 400.02,324.3 400.14,324.2 400.25,324 400.37,323.7 400.49,323.3 400.61,322.9 400.73,322.6 400.85,322.5 400.97,322.5 401.09,322.6 401.2,322.9 401.32,323.1 401.44,323.3 401.56,323.4 401.68,323.5 401.8,323.5 401.92,323.5 402.03,323.5 402.15,323.6 402.27,323.7 402.39,323.9 402.51,324.1 402.63,324.2 402.75,324.3 402.87,324.3 402.98,324.2 403.1,324.1 403.22,324 403.34,323.9 403.46,324 403.58,324 403.7,324.1 403.82,324.3 403.93,324.4 404.05,324.5 404.17,324.6 404.29,324.6 404.41,324.5 404.53,324.4 404.65,324.3 404.76,324.2 404.88,324.1 405,324.1 405.12,324.2 405.24,324.2 405.36,324.1 405.48,324.1 405.6,324 405.71,324 405.83,324 405.95,324.1 406.07,324.4 406.19,324.6 406.31,324.9 406.43,325.1 406.55,325.3 406.66,325.3 406.78,325.2 406.9,325 407.02,324.7 407.14,324.4 407.26,324 407.38,323.7 407.49,323.3 407.61,323.1 407.73,323 407.85,323.1 407.97,323.3 408.09,323.6 408.21,323.8 408.33,323.9 408.44,323.9 408.56,323.8 408.68,323.5 408.8,323.3 408.92,323.1 409.04,323 409.16,322.9 409.27,323 409.39,323.2 409.51,323.3 409.63,323.4 409.75,323.4 409.87,323.4 409.99,323.3 410.11,323.3 410.22,323.4 410.34,323.5 410.46,323.6 410.58,323.7 410.7,323.8 410.82,323.8 410.94,323.7 411.06,323.6 411.17,323.5 411.29,323.4 411.41,323.3 411.53,323.2 411.65,323.1 411.77,323 411.89,322.9 412,322.9 412.12,322.9 412.24,323 412.36,323.2 412.48,323.4 412.6,323.7 412.72,324 412.84,324.2 412.95,324.3 413.07,324.4 413.19,324.4 413.31,324.3 413.43,324.2 413.55,324.1 413.67,324 413.79,324 413.9,324.1 414.02,324.1 414.14,324.2 414.26,324.2 414.38,324.2 414.5,324.2 414.62,324.3 414.73,324.5 414.85,324.8 414.97,325.1 415.09,325.4 415.21,325.5 415.33,325.4 415.45,325.2 415.57,325 415.68,324.7 415.8,324.6 415.92,324.5 416.04,324.5 416.16,324.6 416.28,324.7 416.4,324.7 416.52,324.6 416.63,324.3 416.75,324 416.87,323.7 416.99,323.4 417.11,323.2 417.23,323 417.35,323 417.46,322.9 417.58,323 417.7,323 417.82,323.1 417.94,323.3 418.06,323.5 418.18,323.6 418.3,323.6 418.41,323.5 418.53,323.4 418.65,323.2 418.77,323.1 418.89,323.1 419.01,323.1 419.13,323.1 419.24,323.1 419.36,323.1 419.48,323.1 419.6,323 419.72,322.7 419.84,322.4 419.96,322 420.08,321.6 420.19,321.2 420.31,320.9 420.43,320.8 420.55,320.7 420.67,320.8 420.79,321 420.91,321.2 421.03,321.3 421.14,321.5 421.26,321.5 421.38,321.5 421.5,321.5 421.62,321.5 421.74,321.6 421.86,321.8 421.97,322 422.09,322.2 422.21,322.2 422.33,322.2 422.45,322.1 422.57,322 422.69,322 422.81,322 422.92,322.1 423.04,322.3 423.16,322.4 423.28,322.6 423.4,322.6 423.52,322.6 423.64,322.4 423.76,322.1 423.87,321.8 423.99,321.4 424.11,321.1 424.23,320.8 424.35,320.7 424.47,320.7 424.59,320.8 424.7,321 424.82,321.2 424.94,321.3 425.06,321.3 425.18,321.2 425.3,321 425.42,320.9 425.54,320.8 425.65,320.7 425.77,320.7 425.89,320.7 426.01,320.8 426.13,320.8 426.25,320.8 426.37,320.8 426.49,320.8 426.6,320.8 426.72,320.8 426.84,320.8 426.96,320.7 427.08,320.6 427.2,320.6 427.32,320.5 427.43,320.4 427.55,320.4 427.67,320.4 427.79,320.5 427.91,320.7 428.03,320.9 428.15,321 428.27,321.1 428.38,321 428.5,320.9 428.62,320.8 428.74,320.7 428.86,320.6 428.98,320.6 429.1,320.7 429.21,320.8 429.33,321 429.45,321.2 429.57,321.4 429.69,321.7 429.81,321.8 429.93,322 430.05,322 430.16,322.1 430.28,322.1 430.4,322.1 430.52,322.1 430.64,322.1 430.76,322.2 430.88,322.2 431,322.4 431.11,322.6 431.23,322.9 431.35,323 431.47,323.1 431.59,323 431.71,322.8 431.83,322.5 431.94,322.1 432.06,321.8 432.18,321.6 432.3,321.6 432.42,321.5 432.54,321.6 432.66,321.6 432.78,321.6 432.89,321.6 433.01,321.6 433.13,321.5 433.25,321.4 433.37,321.4 433.49,321.4 433.61,321.4 433.73,321.5 433.84,321.5 433.96,321.5 434.08,321.4 434.2,321.3 434.32,321.1 434.44,321 434.56,321 434.67,320.9 434.79,320.9 434.91,320.8 435.03,320.7 435.15,320.5 435.27,320.2 435.39,319.8 435.51,319.4 435.62,319.1 435.74,318.9 435.86,318.8 435.98,318.9 436.1,319.1 436.22,319.3 436.34,319.5 436.46,319.7 436.57,319.7 436.69,319.7 436.81,319.5 436.93,319.3 437.05,319.1 437.17,318.8 437.29,318.5 437.4,318.3 437.52,318.1 437.64,318 437.76,317.9 437.88,317.9 438,317.9 438.12,317.9 438.24,317.8 438.35,317.7 438.47,317.5 438.59,317.2 438.71,316.9 438.83,316.7 438.95,316.5 439.07,316.3 439.19,316.3 439.3,316.3 439.42,316.3 439.54,316.4 439.66,316.4 439.78,316.4 439.9,316.4 440.02,316.4 440.13,316.4 440.25,316.4 440.37,316.5 440.49,316.6 440.61,316.8 440.73,316.9 440.85,317 440.97,317.2 441.08,317.4 441.2,317.5 441.32,317.7 441.44,317.8 441.56,317.9 441.68,317.9 441.8,317.9 441.91,318 442.03,318 442.15,318.1 442.27,318.2 442.39,318.3 442.51,318.4 442.63,318.5 442.75,318.7 442.86,318.8 442.98,318.8 443.1,318.7 443.22,318.7 443.34,318.6 443.46,318.5 443.58,318.4 443.7,318.3 443.81,318.3 443.93,318.2 444.05,318.2 444.17,318.2 444.29,318.4 444.41,318.6 444.53,318.9 444.64,319.1 444.76,319.3 444.88,319.5 445,319.6 445.12,319.7 445.24,319.8 445.36,320 445.48,320.2 445.59,320.4 445.71,320.6 445.83,320.8 445.95,320.9 446.07,321.1 446.19,321.2 446.31,321.2 446.43,321.3 446.54,321.3 446.66,321.4 446.78,321.5 446.9,321.5 447.02,321.6 447.14,321.7 447.26,321.7 447.37,321.7 447.49,321.7 447.61,321.8 447.73,321.9 447.85,322 447.97,322.2 448.09,322.4 448.21,322.5 448.32,322.7 448.44,322.8 448.56,322.8 448.68,322.8 448.8,322.8 448.92,322.7 449.04,322.7 449.16,322.8 449.27,322.9 449.39,323 449.51,323.2 449.63,323.4 449.75,323.4 449.87,323.4 449.99,323.3 450.1,323.2 450.22,323.1 450.34,323.1 450.46,323.1 450.58,323.1 450.7,323.2 450.82,323.2 450.94,323.2 451.05,323.1 451.17,323.1 451.29,323 451.41,322.9 451.53,322.8 451.65,322.8 451.77,322.8 451.88,322.8 452,322.8 452.12,322.8 452.24,322.8 452.36,322.7 452.48,322.6 452.6,322.5 452.72,322.4 452.83,322.4 452.95,322.5 453.07,322.5 453.19,322.6 453.31,322.7 453.43,322.7 453.55,322.7 453.67,322.7 453.78,322.6 453.9,322.6 454.02,322.6 454.14,322.6 454.26,322.6 454.38,322.6 454.5,322.5 454.61,322.5 454.73,322.5 454.85,322.4 454.97,322.3 455.09,322.2 455.21,322.1 455.33,322 455.45,321.8 455.56,321.7 455.68,321.5 455.8,321.4 455.92,321.3 456.04,321.3 456.16,321.3 456.28,321.2 456.4,321.2 456.51,321.1 456.63,321 456.75,320.8 456.87,320.7 456.99,320.5 457.11,320.5 457.23,320.4 457.34,320.4 457.46,320.3 457.58,320.3 457.7,320.3 457.82,320.2 457.94,320.1 458.06,320.1 458.18,320 458.29,320 458.41,320 458.53,320 458.65,320 458.77,319.9 458.89,319.9 459.01,319.8 459.13,319.7 459.24,319.6 459.36,319.5 459.48,319.5 459.6,319.4 459.72,319.4 459.84,319.4 459.96,319.4 460.07,319.4 460.19,319.4 460.31,319.4 460.43,319.4 460.55,319.4 460.67,319.4 460.79,319.3 460.91,319.1 461.02,319 461.14,318.9 461.26,318.8 461.38,318.7 461.5,318.6 461.62,318.5 461.74,318.4 461.85,318.3 461.97,318.2 462.09,318.2 462.21,318.2 462.33,318.3 462.45,318.3 462.57,318.4 462.69,318.4 462.8,318.4 462.92,318.4 463.04,318.4 463.16,318.3 463.28,318.3 463.4,318.2 463.52,318.2 463.64,318.1 463.75,318.1 463.87,318.1 463.99,318.1 464.11,318 464.23,318 464.35,317.9 464.47,317.9 464.58,317.9 464.7,318 464.82,318 464.94,318.1 465.06,318.1 465.18,318.2 465.3,318.2 465.42,318.1 465.53,318.1 465.65,318.1 465.77,318.1 465.89,318.2 466.01,318.2 466.13,318.3 466.25,318.4 466.37,318.5 466.48,318.6 466.6,318.7 466.72,318.8 466.84,318.9 466.96,319 467.08,319 467.2,319.1 467.31,319 467.43,319 467.55,319 467.67,319 467.79,319 467.91,319.1 468.03,319.1 468.15,319.1 468.26,319.2 468.38,319.3 468.5,319.3 468.62,319.4 468.74,319.4 468.86,319.5 468.98,319.5 469.1,319.5 469.21,319.5 469.33,319.5 469.45,319.5 469.57,319.5 469.69,319.4 469.81,319.4 469.93,319.4 470.04,319.5 470.16,319.6 470.28,319.7 470.4,319.8 470.52,319.9 470.64,319.9" stroke="#ff7f0e" stroke-width="2.5" stroke-dasharray="2.4 3.2" stroke-linejoin="round"/>
</g>
<rect x="321.5" y="301.55" width="205.93" height="214.25" fill="none" stroke="#000" stroke-width="1.2"/>
<line x1="330.1" y1="515.8" x2="330.1" y2="520.1999999999999" stroke="#000" stroke-width="1.2"/>
<text transform="translate(329.8,535.6999999999999) scale(1.116,1)" text-anchor="middle" font-size="14.7">0</text>
<line x1="395.4" y1="515.8" x2="395.4" y2="520.1999999999999" stroke="#000" stroke-width="1.2"/>
<text transform="translate(395.1,535.6999999999999) scale(1.116,1)" text-anchor="middle" font-size="14.7">500</text>
<line x1="460.7" y1="515.8" x2="460.7" y2="520.1999999999999" stroke="#000" stroke-width="1.2"/>
<text transform="translate(460.4,535.6999999999999) scale(1.116,1)" text-anchor="middle" font-size="14.7">1000</text>
<line x1="525.9" y1="515.8" x2="525.9" y2="520.1999999999999" stroke="#000" stroke-width="1.2"/>
<text transform="translate(525.6,535.6999999999999) scale(1.116,1)" text-anchor="middle" font-size="14.7">1500</text>
<line x1="316.0" y1="506.4" x2="321.5" y2="506.4" stroke="#000" stroke-width="1.2"/>
<text transform="translate(310.5,511.6) scale(1.116,1)" text-anchor="end" font-size="14.7">0.0</text>
<line x1="316.0" y1="461.8" x2="321.5" y2="461.8" stroke="#000" stroke-width="1.2"/>
<text transform="translate(310.5,467.0) scale(1.116,1)" text-anchor="end" font-size="14.7">0.2</text>
<line x1="316.0" y1="417.2" x2="321.5" y2="417.2" stroke="#000" stroke-width="1.2"/>
<text transform="translate(310.5,422.4) scale(1.116,1)" text-anchor="end" font-size="14.7">0.4</text>
<line x1="316.0" y1="372.6" x2="321.5" y2="372.6" stroke="#000" stroke-width="1.2"/>
<text transform="translate(310.5,377.8) scale(1.116,1)" text-anchor="end" font-size="14.7">0.6</text>
<line x1="316.0" y1="327.9" x2="321.5" y2="327.9" stroke="#000" stroke-width="1.2"/>
<text transform="translate(310.5,333.1) scale(1.116,1)" text-anchor="end" font-size="14.7">0.8</text>
<text transform="translate(423.94,293.1) scale(1.205,1)" text-anchor="middle" font-size="15.1">metrics/precision(B)</text>
<rect x="321.7" y="306.8" width="23.30" height="120.80" fill="none" stroke="#e8121b" stroke-width="1.7"/>
<rect x="394.3" y="390.3" width="43.40" height="29.60" fill="#fff" stroke="#8c8c8c" stroke-width="1"/>
<text transform="translate(415.9,409.9) scale(1.06,1)" text-anchor="middle" font-size="14" stroke-width="0.1" font-family="'Liberation Sans',sans-serif">D</text>
<rect x="545.3" y="520" width="4.7" height="22" fill="#fff"/>
</svg>
</body></html>
